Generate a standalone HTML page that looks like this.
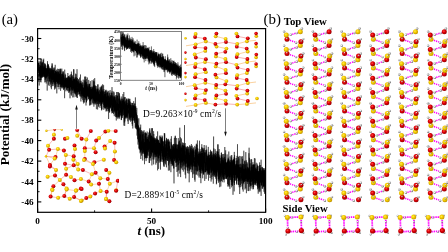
<!DOCTYPE html>
<html><head><meta charset="utf-8"><style>
html,body{margin:0;padding:0;background:#fff;}
body{width:448px;height:252px;overflow:hidden;position:relative;}
svg{position:absolute;left:0;top:0;}
text{font-family:"Liberation Serif","Times New Roman",serif;}
.b{font-weight:bold;}
</style></head><body>
<svg width="448" height="252" viewBox="0 0 448 252">
<defs>
<radialGradient id="r" cx="0.4" cy="0.38" r="0.68"><stop offset="0" stop-color="#ff4a40"/><stop offset="0.4" stop-color="#e00008"/><stop offset="1" stop-color="#8c0000"/></radialGradient>
<radialGradient id="y" cx="0.4" cy="0.38" r="0.68"><stop offset="0" stop-color="#ffea50"/><stop offset="0.4" stop-color="#f6cf00"/><stop offset="1" stop-color="#b88800"/></radialGradient>
<radialGradient id="h" cx="0.38" cy="0.35" r="0.7"><stop offset="0" stop-color="#ffffff"/><stop offset="0.45" stop-color="#c0c0c0"/><stop offset="1" stop-color="#505050"/></radialGradient>
<clipPath id="cll"><rect x="43.5" y="129.2" width="75.5" height="77"/></clipPath>
<clipPath id="ctr"><rect x="184.2" y="30" width="76" height="77"/></clipPath>
</defs>

<text x="1.7" y="24.0" font-size="14.7">(a)</text>
<text x="263.6" y="24.0" font-size="15.0">(b)</text>
<path d="M38.4,63.3 38.4,71.0 38.5,62.8 38.5,68.9 38.6,63.4 38.6,63.1 38.7,76.7 38.7,74.1 38.7,81.7 38.8,68.0 38.8,69.8 38.9,70.1 38.9,70.7 39.0,72.8 39.0,60.8 39.1,72.9 39.1,62.4 39.1,69.5 39.2,85.5 39.2,69.3 39.3,68.2 39.3,72.8 39.4,70.1 39.4,64.8 39.4,75.3 39.5,74.3 39.5,66.8 39.6,75.8 39.6,72.8 39.7,73.5 39.7,72.1 39.8,72.5 39.8,72.3 39.8,70.7 39.9,67.0 39.9,72.7 40.0,77.2 40.0,73.7 40.1,73.3 40.1,78.5 40.1,68.4 40.2,71.2 40.2,74.7 40.3,81.8 40.3,78.7 40.4,70.7 40.4,65.8 40.4,75.5 40.5,73.6 40.5,66.5 40.6,74.0 40.6,61.5 40.7,65.8 40.7,77.8 40.8,65.4 40.8,69.5 40.8,58.8 40.9,75.2 40.9,65.9 41.0,82.4 41.0,73.4 41.1,70.0 41.1,79.5 41.1,74.0 41.2,77.4 41.2,61.7 41.3,67.1 41.3,71.1 41.4,68.9 41.4,71.2 41.5,68.3 41.5,69.5 41.5,77.7 41.6,69.8 41.6,72.9 41.7,66.9 41.7,58.8 41.8,62.9 41.8,71.6 41.8,76.2 41.9,73.6 41.9,70.2 42.0,63.3 42.0,66.4 42.1,76.8 42.1,63.4 42.1,75.2 42.2,67.6 42.2,67.6 42.3,77.1 42.3,74.4 42.4,70.4 42.4,66.3 42.5,62.4 42.5,74.5 42.5,77.6 42.6,72.4 42.6,69.3 42.7,65.7 42.7,71.2 42.8,71.9 42.8,72.1 42.8,74.1 42.9,61.7 42.9,75.0 43.0,73.0 43.0,76.2 43.1,74.9 43.1,68.1 43.2,75.1 43.2,75.7 43.2,68.5 43.3,59.9 43.3,67.7 43.4,72.7 43.4,67.5 43.5,67.5 43.5,76.9 43.5,71.0 43.6,72.6 43.6,70.6 43.7,58.7 43.7,70.6 43.8,72.0 43.8,72.6 43.8,72.9 43.9,66.8 43.9,66.5 44.0,70.5 44.0,68.8 44.1,77.3 44.1,72.2 44.2,71.2 44.2,76.3 44.2,65.7 44.3,66.5 44.3,73.7 44.4,70.8 44.4,75.7 44.5,75.9 44.5,67.5 44.5,76.5 44.6,77.2 44.6,70.2 44.7,70.5 44.7,63.2 44.8,74.5 44.8,82.4 44.9,63.7 44.9,70.2 44.9,75.0 45.0,68.7 45.0,64.3 45.1,69.7 45.1,72.9 45.2,70.7 45.2,67.9 45.2,79.8 45.3,64.5 45.3,71.6 45.4,77.8 45.4,70.5 45.5,73.5 45.5,78.4 45.5,68.7 45.6,67.9 45.6,70.7 45.7,77.0 45.7,75.1 45.8,81.9 45.8,69.7 45.9,71.2 45.9,71.7 45.9,72.0 46.0,65.5 46.0,77.9 46.1,72.1 46.1,71.1 46.2,83.5 46.2,69.8 46.2,76.5 46.3,76.6 46.3,68.6 46.4,73.5 46.4,75.2 46.5,71.7 46.5,74.2 46.6,76.3 46.6,68.8 46.6,78.4 46.7,77.2 46.7,77.2 46.8,67.9 46.8,72.1 46.9,70.2 46.9,72.6 46.9,69.2 47.0,68.5 47.0,75.4 47.1,70.4 47.1,76.7 47.2,70.8 47.2,76.8 47.2,90.6 47.3,73.8 47.3,81.3 47.4,75.9 47.4,68.9 47.5,61.2 47.5,68.9 47.6,63.5 47.6,65.1 47.6,73.2 47.7,74.2 47.7,75.3 47.8,67.9 47.8,71.6 47.9,74.9 47.9,76.7 47.9,75.6 48.0,72.6 48.0,65.5 48.1,75.7 48.1,68.5 48.2,69.2 48.2,64.6 48.3,73.4 48.3,68.7 48.3,72.9 48.4,73.7 48.4,71.1 48.5,64.4 48.5,69.1 48.6,70.4 48.6,73.3 48.6,84.8 48.7,76.0 48.7,69.3 48.8,71.1 48.8,66.0 48.9,73.7 48.9,72.2 48.9,78.7 49.0,74.4 49.0,75.5 49.1,86.0 49.1,70.7 49.2,68.7 49.2,81.3 49.3,74.2 49.3,75.3 49.3,74.1 49.4,74.1 49.4,79.3 49.5,72.7 49.5,75.9 49.6,68.7 49.6,72.5 49.6,81.5 49.7,74.2 49.7,67.6 49.8,69.6 49.8,77.5 49.9,79.2 49.9,73.2 50.0,73.4 50.0,67.9 50.0,73.5 50.1,71.0 50.1,69.3 50.2,74.4 50.2,75.5 50.3,79.3 50.3,81.7 50.3,74.7 50.4,73.1 50.4,84.5 50.5,79.6 50.5,78.5 50.6,74.2 50.6,73.9 50.6,69.3 50.7,72.9 50.7,73.4 50.8,75.4 50.8,76.5 50.9,68.0 50.9,77.6 51.0,70.5 51.0,72.4 51.0,87.4 51.1,74.9 51.1,83.1 51.2,82.0 51.2,72.6 51.3,78.2 51.3,69.2 51.3,71.3 51.4,75.3 51.4,89.2 51.5,77.0 51.5,75.7 51.6,73.6 51.6,73.7 51.6,81.8 51.7,79.2 51.7,71.4 51.8,79.5 51.8,75.1 51.9,65.9 51.9,78.0 52.0,68.9 52.0,72.0 52.0,77.3 52.1,66.9 52.1,63.1 52.2,75.3 52.2,64.3 52.3,84.0 52.3,81.5 52.3,70.3 52.4,73.4 52.4,76.0 52.5,73.7 52.5,79.5 52.6,77.8 52.6,75.2 52.7,78.5 52.7,74.1 52.7,77.7 52.8,86.2 52.8,70.0 52.9,77.3 52.9,71.9 53.0,85.7 53.0,71.7 53.0,72.8 53.1,79.6 53.1,78.2 53.2,82.1 53.2,79.4 53.3,70.5 53.3,79.1 53.3,73.3 53.4,69.9 53.4,74.4 53.5,76.8 53.5,74.5 53.6,78.0 53.6,77.3 53.7,82.4 53.7,79.9 53.7,74.0 53.8,73.3 53.8,67.8 53.9,75.2 53.9,83.8 54.0,74.9 54.0,75.0 54.0,68.6 54.1,79.9 54.1,69.8 54.2,81.8 54.2,67.4 54.3,68.7 54.3,75.4 54.4,74.1 54.4,78.0 54.4,74.4 54.5,78.8 54.5,73.2 54.6,89.6 54.6,82.2 54.7,81.5 54.7,81.9 54.7,78.9 54.8,79.1 54.8,77.3 54.9,77.6 54.9,84.8 55.0,78.5 55.0,80.7 55.0,74.5 55.1,82.8 55.1,76.2 55.2,87.5 55.2,64.8 55.3,73.3 55.3,88.7 55.4,80.8 55.4,71.0 55.4,76.0 55.5,70.7 55.5,70.9 55.6,83.7 55.6,78.8 55.7,79.7 55.7,81.4 55.7,72.7 55.8,76.6 55.8,83.5 55.9,86.7 55.9,77.4 56.0,80.8 56.0,79.3 56.1,71.7 56.1,78.1 56.1,80.1 56.2,74.0 56.2,79.4 56.3,76.4 56.3,71.5 56.4,75.8 56.4,75.9 56.4,81.6 56.5,69.7 56.5,79.2 56.6,81.6 56.6,80.8 56.7,72.1 56.7,76.7 56.7,74.1 56.8,93.4 56.8,78.8 56.9,74.6 56.9,75.0 57.0,76.4 57.0,82.2 57.1,77.7 57.1,81.2 57.1,84.0 57.2,75.7 57.2,78.9 57.3,75.9 57.3,74.4 57.4,70.8 57.4,81.5 57.4,72.2 57.5,79.5 57.5,80.2 57.6,82.8 57.6,75.5 57.7,79.1 57.7,68.7 57.8,77.4 57.8,78.6 57.8,87.1 57.9,77.2 57.9,82.8 58.0,78.8 58.0,82.2 58.1,81.4 58.1,81.5 58.1,72.1 58.2,83.6 58.2,74.7 58.3,83.5 58.3,84.7 58.4,76.3 58.4,69.0 58.4,76.1 58.5,76.1 58.5,71.5 58.6,74.9 58.6,74.9 58.7,82.9 58.7,85.9 58.8,87.0 58.8,74.9 58.8,77.2 58.9,81.5 58.9,72.4 59.0,76.1 59.0,89.3 59.1,80.4 59.1,75.9 59.1,82.0 59.2,79.5 59.2,76.4 59.3,75.2 59.3,73.8 59.4,81.0 59.4,84.4 59.5,76.1 59.5,77.6 59.5,74.8 59.6,77.1 59.6,77.7 59.7,76.5 59.7,73.9 59.8,80.1 59.8,79.5 59.8,70.6 59.9,84.5 59.9,70.6 60.0,69.0 60.0,74.7 60.1,69.1 60.1,83.8 60.1,77.6 60.2,68.4 60.2,79.4 60.3,74.9 60.3,83.3 60.4,83.3 60.4,86.9 60.5,81.9 60.5,77.6 60.5,84.3 60.6,90.8 60.6,72.4 60.7,71.3 60.7,83.9 60.8,69.4 60.8,75.0 60.8,84.1 60.9,83.9 60.9,84.0 61.0,87.1 61.0,73.9 61.1,78.3 61.1,78.9 61.2,77.6 61.2,85.4 61.2,76.3 61.3,80.4 61.3,82.5 61.4,77.8 61.4,76.7 61.5,80.4 61.5,82.1 61.5,86.9 61.6,82.3 61.6,80.7 61.7,88.4 61.7,73.9 61.8,76.0 61.8,68.6 61.8,80.8 61.9,84.4 61.9,81.7 62.0,83.5 62.0,74.8 62.1,85.6 62.1,80.7 62.2,84.5 62.2,79.0 62.2,87.5 62.3,74.4 62.3,82.6 62.4,76.9 62.4,77.8 62.5,84.0 62.5,82.6 62.5,79.2 62.6,86.8 62.6,81.8 62.7,80.3 62.7,71.5 62.8,88.4 62.8,73.5 62.9,77.9 62.9,81.8 62.9,74.4 63.0,78.1 63.0,74.8 63.1,81.2 63.1,77.6 63.2,72.3 63.2,83.9 63.2,81.2 63.3,86.7 63.3,79.3 63.4,80.8 63.4,71.3 63.5,76.1 63.5,86.9 63.5,81.5 63.6,80.1 63.6,90.1 63.7,75.0 63.7,78.2 63.8,83.7 63.8,84.5 63.9,76.4 63.9,76.6 63.9,89.2 64.0,86.1 64.0,85.3 64.1,87.8 64.1,86.1 64.2,83.1 64.2,82.6 64.2,80.9 64.3,84.1 64.3,80.9 64.4,85.0 64.4,82.2 64.5,77.8 64.5,84.0 64.6,98.2 64.6,85.0 64.6,81.8 64.7,85.3 64.7,69.6 64.8,84.3 64.8,88.5 64.9,80.6 64.9,80.4 64.9,80.0 65.0,86.1 65.0,76.3 65.1,73.7 65.1,87.8 65.2,82.6 65.2,86.3 65.2,83.4 65.3,84.7 65.3,79.6 65.4,87.0 65.4,84.0 65.5,79.0 65.5,80.0 65.6,74.8 65.6,85.5 65.6,80.9 65.7,77.8 65.7,86.4 65.8,80.0 65.8,82.8 65.9,81.3 65.9,91.3 65.9,87.3 66.0,80.2 66.0,81.8 66.1,84.9 66.1,82.8 66.2,80.0 66.2,87.1 66.3,81.0 66.3,78.2 66.3,84.3 66.4,85.0 66.4,77.9 66.5,85.1 66.5,81.0 66.6,86.9 66.6,89.6 66.6,83.4 66.7,86.6 66.7,81.6 66.8,84.0 66.8,90.2 66.9,85.0 66.9,79.6 66.9,77.7 67.0,84.7 67.0,79.6 67.1,87.9 67.1,77.6 67.2,85.9 67.2,82.7 67.3,84.9 67.3,86.6 67.3,88.2 67.4,82.3 67.4,81.6 67.5,87.6 67.5,84.7 67.6,77.6 67.6,79.7 67.6,87.5 67.7,83.5 67.7,82.2 67.8,90.6 67.8,73.0 67.9,74.2 67.9,91.3 68.0,79.7 68.0,78.3 68.0,85.8 68.1,86.7 68.1,79.4 68.2,87.1 68.2,87.7 68.3,86.0 68.3,82.6 68.3,76.5 68.4,80.0 68.4,85.5 68.5,76.1 68.5,80.9 68.6,87.8 68.6,82.3 68.6,80.0 68.7,90.9 68.7,92.8 68.8,81.0 68.8,76.5 68.9,83.7 68.9,83.3 69.0,76.8 69.0,81.9 69.0,86.3 69.1,85.2 69.1,84.2 69.2,87.8 69.2,87.2 69.3,89.0 69.3,92.5 69.3,83.4 69.4,89.8 69.4,82.7 69.5,79.7 69.5,79.1 69.6,91.3 69.6,78.6 69.7,81.4 69.7,88.3 69.7,75.4 69.8,81.9 69.8,91.0 69.9,77.3 69.9,81.7 70.0,78.7 70.0,98.3 70.0,77.4 70.1,85.0 70.1,84.9 70.2,86.6 70.2,83.8 70.3,78.1 70.3,82.4 70.3,87.1 70.4,74.4 70.4,77.4 70.5,78.0 70.5,81.8 70.6,77.8 70.6,85.3 70.7,86.4 70.7,81.5 70.7,80.6 70.8,83.0 70.8,85.1 70.9,90.3 70.9,86.1 71.0,84.9 71.0,87.3 71.0,85.9 71.1,87.5 71.1,94.5 71.2,86.2 71.2,79.4 71.3,80.3 71.3,78.2 71.4,95.7 71.4,71.6 71.4,84.0 71.5,81.2 71.5,86.1 71.6,86.0 71.6,73.9 71.7,85.4 71.7,84.4 71.7,86.9 71.8,76.3 71.8,88.9 71.9,76.7 71.9,89.8 72.0,83.1 72.0,85.7 72.0,84.1 72.1,80.9 72.1,88.1 72.2,79.8 72.2,90.6 72.3,88.8 72.3,82.3 72.4,84.7 72.4,81.3 72.4,83.5 72.5,82.0 72.5,75.3 72.6,81.2 72.6,87.7 72.7,88.1 72.7,95.6 72.7,97.4 72.8,95.1 72.8,86.2 72.9,90.5 72.9,84.0 73.0,93.1 73.0,87.3 73.1,89.8 73.1,81.8 73.1,81.4 73.2,77.0 73.2,77.9 73.3,78.4 73.3,85.1 73.4,83.2 73.4,79.9 73.4,82.5 73.5,88.0 73.5,84.1 73.6,85.3 73.6,79.5 73.7,81.5 73.7,69.1 73.7,88.8 73.8,84.2 73.8,69.5 73.9,97.0 73.9,97.3 74.0,89.8 74.0,79.1 74.1,87.6 74.1,79.6 74.1,91.5 74.2,79.6 74.2,79.4 74.3,87.7 74.3,84.4 74.4,93.4 74.4,87.3 74.4,79.8 74.5,91.5 74.5,78.7 74.6,86.8 74.6,83.0 74.7,90.8 74.7,87.1 74.8,88.5 74.8,88.3 74.8,77.5 74.9,78.3 74.9,88.1 75.0,93.4 75.0,88.7 75.1,90.2 75.1,90.1 75.1,79.6 75.2,81.2 75.2,84.2 75.3,80.6 75.3,93.2 75.4,83.6 75.4,94.6 75.4,86.1 75.5,84.3 75.5,91.5 75.6,77.5 75.6,91.0 75.7,73.6 75.7,85.9 75.8,87.2 75.8,93.6 75.8,84.1 75.9,96.8 75.9,91.4 76.0,84.4 76.0,84.8 76.1,87.3 76.1,74.2 76.1,91.5 76.2,84.8 76.2,83.2 76.3,90.0 76.3,84.2 76.4,91.3 76.4,77.3 76.4,96.1 76.5,93.5 76.5,80.8 76.6,93.0 76.6,97.5 76.7,79.0 76.7,81.9 76.8,87.9 76.8,83.5 76.8,80.5 76.9,92.4 76.9,86.8 77.0,81.4 77.0,69.2 77.1,80.7 77.1,91.7 77.1,88.4 77.2,92.2 77.2,87.1 77.3,84.9 77.3,80.9 77.4,81.0 77.4,86.1 77.5,78.0 77.5,98.0 77.5,88.4 77.6,92.3 77.6,88.1 77.7,94.7 77.7,93.5 77.8,92.4 77.8,92.4 77.8,83.0 77.9,87.1 77.9,85.9 78.0,88.5 78.0,81.9 78.1,85.4 78.1,89.4 78.1,85.1 78.2,81.4 78.2,91.8 78.3,87.0 78.3,88.1 78.4,86.9 78.4,79.2 78.5,90.3 78.5,88.2 78.5,81.2 78.6,79.6 78.6,91.5 78.7,89.8 78.7,84.9 78.8,93.4 78.8,94.5 78.8,85.6 78.9,84.3 78.9,90.8 79.0,84.1 79.0,92.2 79.1,82.6 79.1,90.6 79.2,94.2 79.2,90.6 79.2,88.5 79.3,90.6 79.3,84.2 79.4,88.6 79.4,93.7 79.5,77.6 79.5,80.6 79.5,85.1 79.6,91.6 79.6,85.7 79.7,94.2 79.7,90.6 79.8,89.1 79.8,90.0 79.8,82.9 79.9,86.6 79.9,96.4 80.0,90.8 80.0,84.2 80.1,90.3 80.1,80.9 80.2,95.8 80.2,90.8 80.2,87.8 80.3,87.7 80.3,88.1 80.4,88.4 80.4,82.0 80.5,74.5 80.5,89.8 80.5,82.9 80.6,83.2 80.6,90.6 80.7,88.6 80.7,86.7 80.8,85.4 80.8,82.9 80.9,83.9 80.9,101.5 80.9,90.3 81.0,94.4 81.0,96.9 81.1,96.7 81.1,84.1 81.2,91.2 81.2,80.7 81.2,89.4 81.3,96.2 81.3,94.6 81.4,90.6 81.4,93.9 81.5,83.6 81.5,85.6 81.5,92.0 81.6,84.9 81.6,94.1 81.7,88.6 81.7,88.6 81.8,98.1 81.8,98.7 81.9,93.3 81.9,82.4 81.9,92.5 82.0,94.5 82.0,86.1 82.1,89.5 82.1,86.9 82.2,97.7 82.2,91.3 82.2,87.9 82.3,92.2 82.3,90.4 82.4,87.2 82.4,91.7 82.5,96.0 82.5,90.3 82.6,82.4 82.6,87.7 82.6,84.8 82.7,86.9 82.7,100.2 82.8,89.7 82.8,90.9 82.9,88.7 82.9,93.8 82.9,89.2 83.0,94.3 83.0,92.1 83.1,87.6 83.1,84.6 83.2,85.6 83.2,83.3 83.2,79.6 83.3,102.1 83.3,94.3 83.4,90.7 83.4,96.0 83.5,96.2 83.5,87.8 83.6,91.6 83.6,103.5 83.6,89.0 83.7,88.4 83.7,87.6 83.8,89.1 83.8,91.6 83.9,88.8 83.9,97.3 83.9,91.6 84.0,96.2 84.0,82.7 84.1,86.9 84.1,89.8 84.2,86.7 84.2,90.4 84.3,88.2 84.3,90.6 84.3,97.4 84.4,89.3 84.4,86.1 84.5,97.9 84.5,102.5 84.6,86.7 84.6,96.9 84.6,91.4 84.7,84.9 84.7,85.7 84.8,76.8 84.8,89.0 84.9,100.1 84.9,80.6 84.9,94.8 85.0,83.4 85.0,80.2 85.1,94.9 85.1,76.4 85.2,94.4 85.2,90.3 85.3,98.2 85.3,88.1 85.3,85.5 85.4,92.4 85.4,93.8 85.5,92.0 85.5,86.1 85.6,90.6 85.6,97.8 85.6,92.7 85.7,94.8 85.7,89.9 85.8,82.9 85.8,99.4 85.9,95.6 85.9,76.8 86.0,99.8 86.0,105.5 86.0,82.3 86.1,93.7 86.1,81.9 86.2,88.0 86.2,94.5 86.3,79.1 86.3,89.9 86.3,92.8 86.4,94.5 86.4,102.4 86.5,84.5 86.5,102.2 86.6,94.9 86.6,90.3 86.6,98.1 86.7,85.5 86.7,89.6 86.8,93.6 86.8,94.8 86.9,93.2 86.9,90.4 87.0,95.0 87.0,84.7 87.0,89.9 87.1,93.9 87.1,91.0 87.2,88.4 87.2,100.5 87.3,94.5 87.3,96.0 87.3,95.8 87.4,77.5 87.4,95.4 87.5,86.8 87.5,93.2 87.6,91.8 87.6,95.1 87.7,93.1 87.7,92.3 87.7,93.1 87.8,84.0 87.8,92.1 87.9,96.8 87.9,92.6 88.0,88.2 88.0,88.5 88.0,90.0 88.1,97.0 88.1,86.2 88.2,95.7 88.2,95.7 88.3,90.2 88.3,94.8 88.3,90.1 88.4,91.5 88.4,95.7 88.5,89.6 88.5,90.8 88.6,99.4 88.6,97.3 88.7,79.9 88.7,92.7 88.7,99.0 88.8,92.6 88.8,88.3 88.9,88.0 88.9,84.7 89.0,93.5 89.0,90.4 89.0,93.5 89.1,97.4 89.1,83.9 89.2,86.8 89.2,92.6 89.3,86.4 89.3,93.2 89.4,87.7 89.4,92.7 89.4,97.9 89.5,84.1 89.5,88.9 89.6,83.7 89.6,94.0 89.7,89.6 89.7,93.4 89.7,105.5 89.8,87.5 89.8,101.3 89.9,100.4 89.9,89.7 90.0,105.3 90.0,103.2 90.0,96.5 90.1,101.1 90.1,91.1 90.2,91.2 90.2,99.7 90.3,86.1 90.3,81.1 90.4,87.6 90.4,89.4 90.4,96.8 90.5,94.5 90.5,89.5 90.6,91.0 90.6,87.0 90.7,96.5 90.7,100.9 90.7,87.2 90.8,104.7 90.8,100.9 90.9,91.2 90.9,91.2 91.0,97.5 91.0,104.5 91.1,96.0 91.1,93.5 91.1,89.4 91.2,93.9 91.2,98.7 91.3,89.5 91.3,99.1 91.4,88.8 91.4,96.7 91.4,96.5 91.5,93.0 91.5,94.4 91.6,86.7 91.6,97.3 91.7,91.4 91.7,90.3 91.7,93.3 91.8,98.1 91.8,99.7 91.9,93.2 91.9,89.1 92.0,92.3 92.0,88.0 92.1,80.2 92.1,96.3 92.1,98.1 92.2,96.0 92.2,98.2 92.3,98.4 92.3,87.5 92.4,98.9 92.4,102.7 92.4,96.8 92.5,93.2 92.5,94.4 92.6,91.7 92.6,94.8 92.7,86.8 92.7,95.0 92.8,97.9 92.8,97.7 92.8,88.6 92.9,94.1 92.9,94.0 93.0,104.4 93.0,90.5 93.1,99.0 93.1,90.4 93.1,90.5 93.2,88.4 93.2,96.4 93.3,86.0 93.3,103.1 93.4,87.8 93.4,99.6 93.4,92.4 93.5,81.1 93.5,87.2 93.6,98.0 93.6,79.4 93.7,90.9 93.7,100.6 93.8,95.4 93.8,91.8 93.8,92.3 93.9,99.0 93.9,106.7 94.0,99.6 94.0,85.2 94.1,92.7 94.1,85.7 94.1,94.9 94.2,103.9 94.2,98.1 94.3,94.8 94.3,93.1 94.4,81.4 94.4,88.6 94.5,94.0 94.5,101.7 94.5,90.0 94.6,92.4 94.6,96.8 94.7,78.1 94.7,92.0 94.8,89.5 94.8,103.0 94.8,92.2 94.9,87.2 94.9,94.6 95.0,100.7 95.0,89.6 95.1,101.3 95.1,104.7 95.1,86.0 95.2,97.3 95.2,97.1 95.3,94.9 95.3,102.1 95.4,100.3 95.4,85.4 95.5,94.0 95.5,90.7 95.5,90.8 95.6,96.5 95.6,88.6 95.7,92.4 95.7,97.1 95.8,103.5 95.8,92.5 95.8,100.9 95.9,103.2 95.9,91.5 96.0,94.8 96.0,92.1 96.1,96.7 96.1,101.3 96.2,104.3 96.2,98.5 96.2,88.7 96.3,94.0 96.3,86.1 96.4,109.2 96.4,98.5 96.5,97.1 96.5,98.1 96.5,100.2 96.6,93.3 96.6,101.9 96.7,92.9 96.7,100.4 96.8,96.2 96.8,97.3 96.8,95.9 96.9,99.1 96.9,91.4 97.0,96.0 97.0,90.3 97.1,90.5 97.1,91.5 97.2,99.3 97.2,89.5 97.2,95.2 97.3,96.7 97.3,97.7 97.4,98.8 97.4,88.9 97.5,103.9 97.5,88.6 97.5,96.4 97.6,90.3 97.6,109.5 97.7,84.6 97.7,100.5 97.8,98.6 97.8,91.8 97.9,96.3 97.9,99.0 97.9,91.9 98.0,101.3 98.0,84.3 98.1,91.7 98.1,90.5 98.2,92.7 98.2,103.8 98.2,91.9 98.3,91.9 98.3,95.5 98.4,101.0 98.4,97.4 98.5,105.7 98.5,101.3 98.5,94.6 98.6,96.1 98.6,100.7 98.7,88.7 98.7,107.1 98.8,99.3 98.8,100.5 98.9,97.8 98.9,95.3 98.9,101.2 99.0,92.0 99.0,91.3 99.1,92.1 99.1,95.1 99.2,96.5 99.2,93.8 99.2,97.7 99.3,102.0 99.3,100.8 99.4,98.9 99.4,102.4 99.5,90.1 99.5,93.6 99.6,93.5 99.6,103.8 99.6,100.0 99.7,98.9 99.7,98.0 99.8,96.0 99.8,100.5 99.9,100.5 99.9,103.8 99.9,93.8 100.0,96.0 100.0,107.9 100.1,103.2 100.1,86.9 100.2,100.0 100.2,98.5 100.2,88.6 100.3,99.9 100.3,100.6 100.4,101.9 100.4,94.0 100.5,102.4 100.5,91.5 100.6,101.6 100.6,101.1 100.6,100.5 100.7,105.9 100.7,92.6 100.8,96.8 100.8,92.4 100.9,97.8 100.9,95.3 100.9,87.5 101.0,93.2 101.0,101.1 101.1,97.1 101.1,92.0 101.2,104.8 101.2,97.2 101.3,103.0 101.3,94.2 101.3,85.9 101.4,104.3 101.4,90.5 101.5,97.7 101.5,86.9 101.6,110.4 101.6,95.3 101.6,109.5 101.7,98.4 101.7,102.2 101.8,103.2 101.8,99.0 101.9,96.6 101.9,95.1 101.9,105.7 102.0,109.3 102.0,85.4 102.1,97.4 102.1,95.2 102.2,91.2 102.2,103.9 102.3,98.8 102.3,97.4 102.3,97.2 102.4,89.6 102.4,99.9 102.5,94.4 102.5,101.3 102.6,98.6 102.6,92.5 102.6,102.0 102.7,84.2 102.7,99.8 102.8,100.3 102.8,98.1 102.9,91.6 102.9,101.5 102.9,100.0 103.0,103.1 103.0,91.3 103.1,97.2 103.1,101.2 103.2,99.4 103.2,100.6 103.3,96.3 103.3,98.7 103.3,97.6 103.4,101.7 103.4,104.8 103.5,94.4 103.5,92.4 103.6,85.2 103.6,88.2 103.6,98.8 103.7,107.3 103.7,102.3 103.8,100.6 103.8,109.8 103.9,98.9 103.9,89.1 104.0,99.2 104.0,93.7 104.0,100.2 104.1,101.4 104.1,99.6 104.2,98.2 104.2,96.7 104.3,91.8 104.3,93.8 104.3,91.5 104.4,101.7 104.4,95.4 104.5,107.3 104.5,93.7 104.6,101.3 104.6,106.0 104.6,104.7 104.7,97.8 104.7,101.2 104.8,101.0 104.8,108.3 104.9,94.0 104.9,94.8 105.0,96.0 105.0,102.2 105.0,108.1 105.1,107.7 105.1,97.5 105.2,108.6 105.2,94.2 105.3,104.8 105.3,105.8 105.3,100.3 105.4,107.6 105.4,99.9 105.5,90.4 105.5,97.2 105.6,91.4 105.6,103.3 105.7,102.4 105.7,96.9 105.7,96.0 105.8,108.3 105.8,99.2 105.9,93.9 105.9,95.8 106.0,111.5 106.0,89.7 106.0,96.3 106.1,104.8 106.1,97.3 106.2,104.9 106.2,95.6 106.3,90.6 106.3,100.6 106.3,105.8 106.4,105.1 106.4,98.3 106.5,106.0 106.5,107.2 106.6,100.5 106.6,110.7 106.7,96.8 106.7,106.1 106.7,96.6 106.8,103.0 106.8,94.1 106.9,92.8 106.9,102.6 107.0,102.6 107.0,107.4 107.0,101.6 107.1,107.0 107.1,102.4 107.2,92.6 107.2,111.3 107.3,108.6 107.3,108.7 107.4,103.2 107.4,102.6 107.4,108.9 107.5,100.8 107.5,101.6 107.6,92.8 107.6,99.6 107.7,98.3 107.7,92.1 107.7,100.4 107.8,104.0 107.8,90.7 107.9,104.7 107.9,102.4 108.0,95.3 108.0,103.9 108.0,102.4 108.1,96.3 108.1,108.9 108.2,101.6 108.2,105.7 108.3,103.5 108.3,98.5 108.4,96.3 108.4,97.2 108.4,102.7 108.5,104.2 108.5,104.6 108.6,119.0 108.6,102.0 108.7,107.7 108.7,111.0 108.7,102.2 108.8,90.9 108.8,104.4 108.9,104.3 108.9,107.5 109.0,98.3 109.0,102.4 109.1,110.4 109.1,95.9 109.1,104.5 109.2,93.4 109.2,104.5 109.3,99.0 109.3,100.7 109.4,101.1 109.4,103.2 109.4,112.6 109.5,98.1 109.5,98.7 109.6,105.9 109.6,105.2 109.7,97.3 109.7,112.2 109.7,103.2 109.8,102.9 109.8,99.9 109.9,103.4 109.9,92.7 110.0,98.3 110.0,107.6 110.1,107.3 110.1,90.1 110.1,105.8 110.2,101.1 110.2,103.5 110.3,99.7 110.3,107.2 110.4,95.0 110.4,107.2 110.4,97.3 110.5,101.0 110.5,108.5 110.6,103.6 110.6,100.6 110.7,100.4 110.7,106.3 110.8,96.4 110.8,106.6 110.8,102.5 110.9,103.8 110.9,97.0 111.0,103.1 111.0,101.4 111.1,107.6 111.1,101.7 111.1,103.0 111.2,96.1 111.2,105.4 111.3,104.6 111.3,95.6 111.4,103.0 111.4,96.0 111.4,110.5 111.5,97.2 111.5,95.4 111.6,101.5 111.6,104.3 111.7,101.6 111.7,92.6 111.8,95.7 111.8,93.0 111.8,113.4 111.9,109.3 111.9,111.1 112.0,87.1 112.0,102.0 112.1,91.2 112.1,111.5 112.1,107.9 112.2,110.0 112.2,100.5 112.3,101.9 112.3,105.8 112.4,108.0 112.4,108.0 112.5,107.6 112.5,106.9 112.5,96.2 112.6,106.7 112.6,112.9 112.7,97.5 112.7,95.3 112.8,105.8 112.8,108.4 112.8,106.1 112.9,113.0 112.9,104.1 113.0,108.1 113.0,103.5 113.1,106.5 113.1,102.4 113.1,97.2 113.2,99.1 113.2,103.6 113.3,100.0 113.3,111.5 113.4,104.9 113.4,108.1 113.5,114.1 113.5,98.8 113.5,101.9 113.6,103.1 113.6,105.0 113.7,102.5 113.7,91.5 113.8,105.1 113.8,100.1 113.8,96.3 113.9,102.7 113.9,102.5 114.0,106.4 114.0,97.9 114.1,101.1 114.1,92.4 114.2,107.0 114.2,96.4 114.2,109.0 114.3,116.2 114.3,105.9 114.4,100.2 114.4,100.7 114.5,103.4 114.5,102.7 114.5,100.4 114.6,97.4 114.6,111.4 114.7,96.7 114.7,98.9 114.8,104.2 114.8,105.0 114.8,112.6 114.9,103.9 114.9,111.3 115.0,104.3 115.0,110.0 115.1,105.1 115.1,100.9 115.2,107.7 115.2,102.7 115.2,110.4 115.3,95.3 115.3,109.8 115.4,107.3 115.4,106.1 115.5,116.9 115.5,100.2 115.5,104.2 115.6,102.1 115.6,108.9 115.7,102.5 115.7,97.3 115.8,108.0 115.8,106.1 115.9,115.4 115.9,104.4 115.9,99.3 116.0,99.4 116.0,100.4 116.1,104.9 116.1,113.3 116.2,109.0 116.2,102.6 116.2,113.0 116.3,120.5 116.3,95.0 116.4,105.1 116.4,116.5 116.5,107.8 116.5,106.6 116.5,114.0 116.6,117.0 116.6,110.1 116.7,104.1 116.7,105.9 116.8,92.0 116.8,103.3 116.9,103.8 116.9,96.4 116.9,100.1 117.0,102.6 117.0,102.7 117.1,117.9 117.1,107.1 117.2,105.8 117.2,88.7 117.2,106.7 117.3,107.4 117.3,110.6 117.4,104.4 117.4,106.7 117.5,107.0 117.5,95.8 117.6,116.8 117.6,103.1 117.6,105.3 117.7,107.3 117.7,104.6 117.8,101.6 117.8,95.5 117.9,114.8 117.9,119.1 117.9,104.1 118.0,105.6 118.0,110.7 118.1,108.2 118.1,104.6 118.2,108.1 118.2,98.5 118.2,109.6 118.3,104.2 118.3,105.8 118.4,105.4 118.4,117.4 118.5,106.4 118.5,105.8 118.6,103.1 118.6,92.0 118.6,108.5 118.7,112.9 118.7,114.3 118.8,111.4 118.8,116.7 118.9,116.2 118.9,93.1 118.9,117.6 119.0,108.3 119.0,116.0 119.1,112.0 119.1,113.1 119.2,112.3 119.2,99.4 119.3,101.8 119.3,110.0 119.3,110.6 119.4,118.7 119.4,108.9 119.5,93.4 119.5,107.7 119.6,108.2 119.6,102.8 119.6,107.4 119.7,100.0 119.7,95.8 119.8,112.0 119.8,117.1 119.9,97.7 119.9,115.3 119.9,110.5 120.0,111.8 120.0,113.2 120.1,112.5 120.1,110.1 120.2,111.1 120.2,101.8 120.3,109.0 120.3,99.5 120.3,105.0 120.4,107.7 120.4,104.3 120.5,108.7 120.5,112.4 120.6,101.5 120.6,111.6 120.6,100.5 120.7,111.2 120.7,108.5 120.8,115.0 120.8,104.5 120.9,101.6 120.9,105.2 121.0,107.7 121.0,108.5 121.0,106.3 121.1,107.7 121.1,115.9 121.2,106.0 121.2,115.7 121.3,106.9 121.3,119.8 121.3,99.1 121.4,120.1 121.4,104.5 121.5,103.5 121.5,104.2 121.6,104.8 121.6,114.1 121.6,115.7 121.7,118.2 121.7,103.1 121.8,96.5 121.8,99.2 121.9,105.2 121.9,113.2 122.0,100.3 122.0,98.4 122.0,113.7 122.1,109.0 122.1,100.9 122.2,105.9 122.2,104.6 122.3,101.0 122.3,112.7 122.3,112.7 122.4,106.0 122.4,115.8 122.5,112.8 122.5,117.8 122.6,107.4 122.6,112.2 122.7,104.5 122.7,107.7 122.7,103.3 122.8,103.4 122.8,99.2 122.9,110.4 122.9,94.1 123.0,99.9 123.0,109.0 123.0,103.4 123.1,107.5 123.1,98.8 123.2,115.6 123.2,107.7 123.3,104.1 123.3,106.9 123.3,100.3 123.4,108.1 123.4,100.3 123.5,104.7 123.5,101.8 123.6,106.8 123.6,102.5 123.7,112.3 123.7,115.0 123.7,111.6 123.8,106.3 123.8,88.2 123.9,106.6 123.9,125.6 124.0,109.5 124.0,104.4 124.0,103.7 124.1,97.4 124.1,113.4 124.2,101.3 124.2,110.3 124.3,102.2 124.3,122.6 124.4,97.2 124.4,105.4 124.4,104.0 124.5,109.5 124.5,103.2 124.6,111.6 124.6,104.1 124.7,104.4 124.7,110.5 124.7,125.9 124.8,108.9 124.8,118.9 124.9,108.8 124.9,121.4 125.0,103.5 125.0,111.6 125.0,101.8 125.1,107.0 125.1,112.3 125.2,111.4 125.2,104.9 125.3,97.1 125.3,111.5 125.4,109.6 125.4,118.2 125.4,107.8 125.5,117.3 125.5,104.6 125.6,106.6 125.6,110.0 125.7,111.8 125.7,116.4 125.7,107.4 125.8,108.3 125.8,100.3 125.9,109.4 125.9,100.9 126.0,104.5 126.0,116.5 126.1,109.6 126.1,117.4 126.1,114.3 126.2,116.5 126.2,113.8 126.3,110.6 126.3,103.3 126.4,118.5 126.4,109.7 126.4,106.5 126.5,98.8 126.5,110.6 126.6,107.2 126.6,113.2 126.7,117.3 126.7,99.8 126.7,114.7 126.8,111.0 126.8,103.0 126.9,102.6 126.9,98.5 127.0,104.5 127.0,109.3 127.1,117.3 127.1,110.6 127.1,109.8 127.2,105.6 127.2,105.0 127.3,106.6 127.3,112.0 127.4,102.8 127.4,110.3 127.4,115.6 127.5,110.2 127.5,106.9 127.6,111.1 127.6,113.7 127.7,118.1 127.7,109.6 127.7,109.0 127.8,111.7 127.8,121.3 127.9,99.6 127.9,110.1 128.0,111.6 128.0,112.8 128.1,105.1 128.1,106.8 128.1,106.9 128.2,105.7 128.2,124.0 128.3,98.5 128.3,108.0 128.4,103.6 128.4,108.4 128.4,106.9 128.5,105.8 128.5,106.9 128.6,106.7 128.6,98.8 128.7,104.8 128.7,113.1 128.8,112.3 128.8,99.9 128.8,104.7 128.9,113.2 128.9,114.2 129.0,105.5 129.0,110.6 129.1,111.9 129.1,114.4 129.1,110.2 129.2,119.3 129.2,116.0 129.3,113.5 129.3,116.6 129.4,100.8 129.4,116.4 129.4,114.8 129.5,109.1 129.5,120.3 129.6,119.1 129.6,114.4 129.7,98.7 129.7,118.5 129.8,114.2 129.8,108.7 129.8,99.0 129.9,102.5 129.9,118.1 130.0,109.2 130.0,103.2 130.1,102.9 130.1,104.8 130.1,113.0 130.2,114.5 130.2,115.6 130.3,101.7 130.3,110.2 130.4,104.7 130.4,106.1 130.5,104.9 130.5,121.7 130.5,110.3 130.6,108.3 130.6,107.4 130.7,115.9 130.7,115.3 130.8,117.3 130.8,106.0 130.8,119.8 130.9,119.1 130.9,105.4 131.0,117.9 131.0,109.4 131.1,108.5 131.1,116.2 131.1,109.7 131.2,117.0 131.2,104.8 131.3,113.0 131.3,120.8 131.4,107.5 131.4,113.8 131.5,109.6 131.5,116.1 131.5,114.7 131.6,111.4 131.6,102.8 131.7,112.7 131.7,116.1 131.8,113.6 131.8,111.8 131.8,115.5 131.9,112.7 131.9,108.8 132.0,115.5 132.0,114.2 132.1,114.2 132.1,105.4 132.2,124.0 132.2,114.6 132.2,117.9 132.3,116.8 132.3,125.8 132.4,119.3 132.4,103.0 132.5,110.0 132.5,117.0 132.5,120.7 132.6,117.9 132.6,114.2 132.7,107.8 132.7,113.6 132.8,102.9 132.8,128.5 132.8,116.6 132.9,120.2 132.9,110.2 133.0,105.1 133.0,116.4 133.1,108.0 133.1,120.7 133.2,106.2 133.2,116.4 133.2,112.3 133.3,109.5 133.3,105.3 133.4,106.7 133.4,108.4 133.5,117.3 133.5,108.4 133.5,114.2 133.6,118.1 133.6,107.6 133.7,105.6 133.7,101.2 133.8,106.9 133.8,112.9 133.9,115.5 133.9,106.2 133.9,117.9 134.0,105.5 134.0,116.6 134.1,120.3 134.1,113.1 134.2,117.6 134.2,107.9 134.2,106.2 134.3,107.5 134.3,116.8 134.4,103.5 134.4,115.9 134.5,122.9 134.5,118.0 134.5,121.4 134.6,120.7 134.6,107.3 134.7,107.6 134.7,113.5 134.8,110.8 134.8,119.2 134.9,106.8 134.9,120.2 134.9,103.6 135.0,113.9 135.0,113.1 135.1,115.6 135.1,113.6 135.2,114.5 135.2,109.2 135.2,127.7 135.3,111.7 135.3,113.8 135.4,105.4 135.4,97.4 135.5,114.4 135.5,107.6 135.6,106.6 135.6,113.3 135.6,128.6 135.7,123.8 135.7,117.1 135.8,106.3 135.8,112.3 135.9,112.8 135.9,110.5 135.9,109.9 136.0,124.6 136.0,127.4 136.1,121.0 136.1,118.0 136.2,115.5 136.2,114.5 136.2,126.7 136.3,119.0 136.3,112.4 136.4,114.1 136.4,113.9 136.5,118.7 136.5,113.8 136.6,120.7 136.6,118.9 136.6,129.1 136.7,123.3 136.7,129.4 136.8,107.9 136.8,119.2 136.9,119.0 136.9,126.3 136.9,124.0 137.0,125.6 137.0,135.6 137.1,117.2 137.1,123.0 137.2,126.7 137.2,124.4 137.3,126.0 137.3,126.7 137.3,117.5 137.4,115.3 137.4,128.3 137.5,120.7 137.5,136.8 137.6,138.9 137.6,134.7 137.6,124.9 137.7,127.8 137.7,131.0 137.8,118.6 137.8,131.5 137.9,132.3 137.9,132.5 137.9,129.9 138.0,144.6 138.0,141.6 138.1,124.9 138.1,128.0 138.2,129.8 138.2,125.7 138.3,140.0 138.3,136.9 138.3,129.9 138.4,126.4 138.4,133.9 138.5,129.4 138.5,133.6 138.6,134.4 138.6,133.1 138.6,138.7 138.7,141.6 138.7,141.0 138.8,133.9 138.8,118.3 138.9,142.5 138.9,127.1 139.0,134.7 139.0,133.6 139.0,134.9 139.1,148.0 139.1,128.8 139.2,135.4 139.2,149.0 139.3,134.4 139.3,138.1 139.3,149.5 139.4,143.9 139.4,144.7 139.5,139.7 139.5,148.4 139.6,141.4 139.6,143.3 139.6,136.1 139.7,142.4 139.7,128.2 139.8,142.1 139.8,143.4 139.9,135.4 139.9,146.2 140.0,149.7 140.0,142.7 140.0,151.8 140.1,153.3 140.1,136.5 140.2,137.0 140.2,127.4 140.3,134.4 140.3,140.5 140.3,146.7 140.4,151.8 140.4,143.2 140.5,143.2 140.5,134.4 140.6,150.5 140.6,136.0 140.7,124.6 140.7,135.7 140.7,136.8 140.8,159.0 140.8,142.6 140.9,136.8 140.9,131.7 141.0,145.0 141.0,149.1 141.0,145.0 141.1,152.4 141.1,130.0 141.2,135.4 141.2,149.9 141.3,142.4 141.3,142.0 141.3,150.1 141.4,147.1 141.4,143.3 141.5,155.6 141.5,140.5 141.6,146.6 141.6,149.1 141.7,145.8 141.7,146.5 141.7,150.4 141.8,150.3 141.8,130.4 141.9,141.0 141.9,145.9 142.0,131.7 142.0,146.5 142.0,143.0 142.1,148.1 142.1,142.8 142.2,146.4 142.2,134.6 142.3,147.2 142.3,153.7 142.4,149.7 142.4,147.7 142.4,145.5 142.5,146.7 142.5,132.8 142.6,131.4 142.6,134.4 142.7,155.2 142.7,160.5 142.7,134.5 142.8,152.6 142.8,149.2 142.9,143.7 142.9,145.0 143.0,143.2 143.0,153.4 143.0,143.5 143.1,140.6 143.1,141.0 143.2,143.7 143.2,133.7 143.3,141.3 143.3,141.3 143.4,148.6 143.4,145.6 143.4,149.2 143.5,131.5 143.5,149.7 143.6,144.2 143.6,152.3 143.7,138.9 143.7,146.1 143.7,147.7 143.8,153.9 143.8,144.1 143.9,149.3 143.9,147.6 144.0,141.9 144.0,130.2 144.1,143.8 144.1,146.4 144.1,144.8 144.2,151.7 144.2,144.9 144.3,146.3 144.3,151.1 144.4,150.9 144.4,150.0 144.4,156.7 144.5,144.3 144.5,164.2 144.6,142.0 144.6,153.8 144.7,147.6 144.7,158.8 144.7,144.6 144.8,143.2 144.8,143.4 144.9,148.4 144.9,132.9 145.0,150.8 145.0,142.4 145.1,135.6 145.1,145.6 145.1,133.2 145.2,154.1 145.2,143.9 145.3,131.9 145.3,142.2 145.4,143.9 145.4,158.0 145.4,136.0 145.5,149.4 145.5,133.3 145.6,140.7 145.6,144.6 145.7,157.7 145.7,140.6 145.8,143.8 145.8,155.9 145.8,156.6 145.9,148.2 145.9,133.4 146.0,139.8 146.0,158.1 146.1,154.2 146.1,149.3 146.1,161.1 146.2,147.3 146.2,141.2 146.3,152.3 146.3,143.2 146.4,133.5 146.4,134.6 146.4,133.7 146.5,143.0 146.5,153.9 146.6,157.9 146.6,137.4 146.7,145.1 146.7,142.1 146.8,158.3 146.8,155.4 146.8,153.6 146.9,150.1 146.9,140.1 147.0,139.4 147.0,141.5 147.1,135.8 147.1,131.5 147.1,154.3 147.2,147.3 147.2,139.2 147.3,141.9 147.3,157.8 147.4,144.0 147.4,138.8 147.5,143.1 147.5,143.1 147.5,139.1 147.6,140.2 147.6,149.6 147.7,141.1 147.7,146.1 147.8,149.2 147.8,155.3 147.8,136.9 147.9,149.2 147.9,140.8 148.0,155.9 148.0,141.9 148.1,151.5 148.1,149.4 148.1,139.8 148.2,135.6 148.2,149.2 148.3,132.5 148.3,148.6 148.4,147.8 148.4,139.8 148.5,144.8 148.5,144.4 148.5,141.6 148.6,150.3 148.6,143.0 148.7,137.7 148.7,145.0 148.8,152.2 148.8,149.2 148.8,148.0 148.9,148.2 148.9,134.9 149.0,144.6 149.0,146.0 149.1,148.9 149.1,148.6 149.2,146.7 149.2,149.1 149.2,162.9 149.3,144.5 149.3,147.1 149.4,145.2 149.4,163.0 149.5,142.3 149.5,144.3 149.5,128.4 149.6,147.2 149.6,132.9 149.7,130.5 149.7,138.5 149.8,131.7 149.8,151.3 149.8,158.0 149.9,141.2 149.9,146.9 150.0,145.7 150.0,147.0 150.1,145.4 150.1,148.6 150.2,157.3 150.2,149.5 150.2,144.4 150.3,149.7 150.3,134.4 150.4,134.2 150.4,144.1 150.5,140.1 150.5,133.0 150.5,158.2 150.6,148.7 150.6,154.1 150.7,136.2 150.7,140.7 150.8,137.7 150.8,149.7 150.9,160.6 150.9,143.7 150.9,137.5 151.0,141.9 151.0,149.5 151.1,148.4 151.1,141.3 151.2,128.3 151.2,144.3 151.2,148.1 151.3,147.4 151.3,144.8 151.4,147.4 151.4,145.2 151.5,135.6 151.5,156.4 151.5,146.4 151.6,139.7 151.6,154.6 151.7,150.5 151.7,135.9 151.8,142.9 151.8,152.2 151.9,136.7 151.9,144.4 151.9,165.4 152.0,158.4 152.0,144.3 152.1,128.2 152.1,146.7 152.2,142.7 152.2,137.2 152.2,136.7 152.3,152.0 152.3,143.0 152.4,151.3 152.4,128.3 152.5,153.1 152.5,143.1 152.5,147.0 152.6,140.4 152.6,152.0 152.7,142.6 152.7,146.2 152.8,139.4 152.8,146.4 152.9,142.7 152.9,138.0 152.9,147.2 153.0,157.3 153.0,159.4 153.1,144.5 153.1,156.6 153.2,155.3 153.2,142.1 153.2,144.3 153.3,148.9 153.3,147.0 153.4,137.5 153.4,142.4 153.5,140.5 153.5,150.0 153.6,145.3 153.6,164.4 153.6,131.2 153.7,143.5 153.7,140.4 153.8,141.6 153.8,134.0 153.9,152.5 153.9,150.4 153.9,138.4 154.0,159.5 154.0,139.6 154.1,144.4 154.1,141.1 154.2,144.4 154.2,139.1 154.2,154.3 154.3,142.1 154.3,145.9 154.4,144.7 154.4,144.9 154.5,144.0 154.5,145.8 154.6,157.3 154.6,139.9 154.6,137.5 154.7,144.7 154.7,143.5 154.8,149.8 154.8,145.8 154.9,155.0 154.9,155.5 154.9,140.4 155.0,141.9 155.0,138.0 155.1,139.0 155.1,151.8 155.2,140.3 155.2,155.1 155.3,152.0 155.3,154.0 155.3,146.3 155.4,152.2 155.4,147.1 155.5,143.4 155.5,153.3 155.6,138.6 155.6,151.5 155.6,157.2 155.7,155.3 155.7,139.5 155.8,164.6 155.8,153.5 155.9,149.1 155.9,153.8 155.9,149.5 156.0,143.3 156.0,152.5 156.1,151.9 156.1,156.5 156.2,147.6 156.2,139.8 156.3,152.9 156.3,152.5 156.3,151.9 156.4,162.8 156.4,145.1 156.5,145.7 156.5,136.4 156.6,145.0 156.6,154.6 156.6,153.8 156.7,156.6 156.7,145.3 156.8,139.3 156.8,155.9 156.9,156.4 156.9,138.4 157.0,144.7 157.0,148.0 157.0,152.7 157.1,144.9 157.1,142.0 157.2,148.4 157.2,140.7 157.3,146.0 157.3,147.6 157.3,153.5 157.4,140.5 157.4,152.6 157.5,148.1 157.5,152.9 157.6,147.0 157.6,131.4 157.6,170.4 157.7,152.1 157.7,139.0 157.8,161.1 157.8,140.2 157.9,144.6 157.9,157.4 158.0,142.4 158.0,151.0 158.0,153.8 158.1,154.4 158.1,146.3 158.2,145.5 158.2,150.1 158.3,149.3 158.3,140.2 158.3,146.0 158.4,157.5 158.4,143.4 158.5,158.5 158.5,140.1 158.6,142.3 158.6,168.9 158.7,140.9 158.7,147.8 158.7,156.1 158.8,144.0 158.8,156.2 158.9,142.7 158.9,158.1 159.0,145.5 159.0,143.2 159.0,150.6 159.1,155.4 159.1,152.4 159.2,162.7 159.2,158.3 159.3,143.0 159.3,147.1 159.3,151.0 159.4,148.0 159.4,146.9 159.5,143.6 159.5,143.0 159.6,148.8 159.6,152.5 159.7,144.4 159.7,155.3 159.7,143.0 159.8,142.7 159.8,153.4 159.9,136.3 159.9,146.7 160.0,146.0 160.0,147.9 160.0,135.4 160.1,149.4 160.1,145.7 160.2,161.5 160.2,159.1 160.3,152.4 160.3,161.3 160.4,144.5 160.4,148.5 160.4,157.9 160.5,169.6 160.5,148.5 160.6,160.4 160.6,153.7 160.7,153.3 160.7,136.9 160.7,161.8 160.8,145.4 160.8,143.8 160.9,156.3 160.9,137.0 161.0,145.9 161.0,150.9 161.0,147.5 161.1,147.9 161.1,148.0 161.2,145.9 161.2,144.4 161.3,150.5 161.3,139.7 161.4,142.0 161.4,143.5 161.4,147.7 161.5,151.0 161.5,143.5 161.6,153.1 161.6,138.3 161.7,160.6 161.7,161.6 161.7,157.8 161.8,137.9 161.8,144.6 161.9,138.9 161.9,150.7 162.0,142.9 162.0,135.5 162.1,158.7 162.1,156.9 162.1,145.4 162.2,142.8 162.2,159.7 162.3,153.3 162.3,149.9 162.4,147.8 162.4,141.6 162.4,142.7 162.5,136.6 162.5,147.0 162.6,141.6 162.6,156.8 162.7,156.4 162.7,140.9 162.7,145.8 162.8,155.9 162.8,149.1 162.9,154.4 162.9,162.2 163.0,149.7 163.0,154.0 163.1,147.8 163.1,159.4 163.1,151.3 163.2,146.4 163.2,146.4 163.3,142.1 163.3,147.5 163.4,141.2 163.4,161.3 163.4,158.1 163.5,166.5 163.5,146.8 163.6,156.7 163.6,164.6 163.7,145.9 163.7,154.7 163.8,148.7 163.8,161.2 163.8,152.9 163.9,155.2 163.9,160.6 164.0,149.1 164.0,156.9 164.1,154.7 164.1,148.7 164.1,148.3 164.2,149.6 164.2,149.6 164.3,133.0 164.3,154.7 164.4,156.3 164.4,150.2 164.4,152.1 164.5,138.5 164.5,141.4 164.6,166.7 164.6,134.2 164.7,146.4 164.7,133.2 164.8,157.2 164.8,141.8 164.8,147.1 164.9,155.6 164.9,161.5 165.0,163.2 165.0,161.8 165.1,147.9 165.1,149.4 165.1,157.1 165.2,154.6 165.2,154.5 165.3,152.5 165.3,151.7 165.4,159.1 165.4,156.4 165.5,162.1 165.5,164.4 165.5,147.4 165.6,148.3 165.6,144.1 165.7,155.6 165.7,140.5 165.8,159.8 165.8,153.6 165.8,152.2 165.9,161.4 165.9,148.3 166.0,150.9 166.0,154.3 166.1,154.5 166.1,155.3 166.1,145.3 166.2,154.9 166.2,159.2 166.3,160.0 166.3,146.8 166.4,142.2 166.4,151.0 166.5,167.3 166.5,137.9 166.5,145.6 166.6,138.8 166.6,155.7 166.7,144.4 166.7,155.3 166.8,155.8 166.8,154.0 166.8,146.0 166.9,140.6 166.9,146.9 167.0,149.1 167.0,147.3 167.1,155.8 167.1,157.8 167.2,154.6 167.2,157.8 167.2,149.4 167.3,151.4 167.3,148.2 167.4,148.4 167.4,150.8 167.5,140.4 167.5,149.9 167.5,160.9 167.6,157.6 167.6,160.3 167.7,153.1 167.7,154.6 167.8,150.1 167.8,151.2 167.8,139.2 167.9,147.2 167.9,149.4 168.0,160.3 168.0,161.0 168.1,157.1 168.1,142.3 168.2,158.8 168.2,138.8 168.2,153.1 168.3,145.1 168.3,156.4 168.4,170.6 168.4,157.3 168.5,141.6 168.5,165.4 168.5,152.4 168.6,142.0 168.6,155.1 168.7,141.6 168.7,139.6 168.8,154.6 168.8,147.8 168.9,147.6 168.9,144.5 168.9,142.3 169.0,157.3 169.0,145.4 169.1,151.9 169.1,154.3 169.2,142.2 169.2,140.6 169.2,148.0 169.3,154.2 169.3,150.6 169.4,148.7 169.4,147.3 169.5,151.4 169.5,170.4 169.5,147.7 169.6,146.1 169.6,151.3 169.7,148.1 169.7,141.8 169.8,161.8 169.8,151.7 169.9,163.5 169.9,147.9 169.9,150.6 170.0,152.9 170.0,156.2 170.1,155.5 170.1,156.3 170.2,159.0 170.2,149.6 170.2,151.2 170.3,160.4 170.3,152.1 170.4,150.9 170.4,156.6 170.5,149.0 170.5,156.7 170.6,150.6 170.6,158.1 170.6,149.7 170.7,151.5 170.7,158.6 170.8,153.1 170.8,162.2 170.9,172.2 170.9,144.8 170.9,138.8 171.0,153.2 171.0,161.0 171.1,160.0 171.1,157.9 171.2,148.8 171.2,142.3 171.2,149.7 171.3,161.0 171.3,164.0 171.4,139.9 171.4,136.2 171.5,151.9 171.5,153.6 171.6,162.5 171.6,155.4 171.6,153.1 171.7,154.1 171.7,149.2 171.8,157.6 171.8,157.7 171.9,152.1 171.9,144.1 171.9,154.9 172.0,155.4 172.0,166.2 172.1,156.2 172.1,154.6 172.2,153.6 172.2,164.1 172.3,156.2 172.3,156.8 172.3,145.5 172.4,162.0 172.4,151.8 172.5,161.0 172.5,157.7 172.6,165.3 172.6,151.9 172.6,150.0 172.7,155.3 172.7,164.7 172.8,145.7 172.8,153.2 172.9,159.2 172.9,149.3 172.9,153.3 173.0,148.2 173.0,145.2 173.1,158.8 173.1,147.4 173.2,157.9 173.2,146.7 173.3,164.9 173.3,161.3 173.3,166.1 173.4,157.4 173.4,156.3 173.5,151.6 173.5,144.0 173.6,156.0 173.6,166.5 173.6,168.3 173.7,156.6 173.7,157.9 173.8,147.7 173.8,151.7 173.9,168.5 173.9,160.4 174.0,183.4 174.0,159.4 174.0,155.1 174.1,150.6 174.1,143.9 174.2,151.8 174.2,159.3 174.3,156.6 174.3,156.0 174.3,141.7 174.4,137.9 174.4,146.7 174.5,147.8 174.5,153.0 174.6,160.0 174.6,161.2 174.6,149.5 174.7,152.9 174.7,160.7 174.8,151.9 174.8,153.5 174.9,144.4 174.9,154.9 175.0,160.1 175.0,148.5 175.0,159.1 175.1,158.7 175.1,153.2 175.2,136.4 175.2,150.6 175.3,144.7 175.3,135.7 175.3,156.9 175.4,146.0 175.4,151.9 175.5,147.9 175.5,158.1 175.6,148.5 175.6,144.7 175.7,162.5 175.7,154.2 175.7,156.0 175.8,148.9 175.8,143.7 175.9,144.2 175.9,155.8 176.0,163.1 176.0,167.0 176.0,148.1 176.1,162.9 176.1,153.9 176.2,153.6 176.2,155.3 176.3,154.3 176.3,138.0 176.3,140.6 176.4,158.0 176.4,162.3 176.5,148.9 176.5,152.8 176.6,151.3 176.6,162.2 176.7,155.9 176.7,166.5 176.7,151.8 176.8,161.7 176.8,148.8 176.9,152.4 176.9,144.5 177.0,155.4 177.0,172.0 177.0,144.7 177.1,158.1 177.1,154.9 177.2,157.5 177.2,158.8 177.3,144.7 177.3,154.3 177.3,161.8 177.4,158.3 177.4,159.4 177.5,153.7 177.5,150.9 177.6,149.0 177.6,156.6 177.7,153.4 177.7,161.0 177.7,150.7 177.8,156.4 177.8,165.3 177.9,164.2 177.9,153.5 178.0,154.2 178.0,176.7 178.0,147.5 178.1,158.1 178.1,170.8 178.2,162.6 178.2,144.9 178.3,151.6 178.3,138.1 178.4,159.4 178.4,160.8 178.4,164.8 178.5,163.0 178.5,163.5 178.6,147.1 178.6,153.5 178.7,145.3 178.7,144.2 178.7,156.7 178.8,157.6 178.8,153.1 178.9,170.0 178.9,142.2 179.0,146.7 179.0,156.1 179.0,157.7 179.1,145.8 179.1,151.2 179.2,140.9 179.2,154.9 179.3,155.1 179.3,151.9 179.4,154.8 179.4,140.6 179.4,160.6 179.5,154.6 179.5,159.0 179.6,158.8 179.6,160.1 179.7,156.2 179.7,160.6 179.7,163.3 179.8,127.7 179.8,173.6 179.9,151.8 179.9,150.7 180.0,156.3 180.0,147.5 180.1,152.9 180.1,159.3 180.1,148.7 180.2,150.1 180.2,154.3 180.3,152.8 180.3,161.0 180.4,143.5 180.4,161.8 180.4,167.5 180.5,144.8 180.5,137.3 180.6,151.0 180.6,177.1 180.7,156.4 180.7,153.9 180.7,156.0 180.8,162.8 180.8,161.0 180.9,158.2 180.9,157.4 181.0,164.9 181.0,146.3 181.1,169.3 181.1,157.3 181.1,153.5 181.2,154.3 181.2,160.0 181.3,161.7 181.3,155.9 181.4,153.6 181.4,147.9 181.4,151.3 181.5,138.5 181.5,152.7 181.6,154.5 181.6,167.8 181.7,158.7 181.7,148.2 181.8,159.9 181.8,156.7 181.8,147.5 181.9,162.4 181.9,150.6 182.0,150.7 182.0,154.0 182.1,157.5 182.1,155.6 182.1,160.3 182.2,145.4 182.2,149.9 182.3,144.7 182.3,154.3 182.4,154.7 182.4,159.5 182.4,162.3 182.5,161.8 182.5,142.5 182.6,158.1 182.6,151.3 182.7,169.9 182.7,147.8 182.8,157.6 182.8,151.6 182.8,159.7 182.9,149.3 182.9,166.7 183.0,155.7 183.0,160.0 183.1,165.7 183.1,155.7 183.1,145.7 183.2,154.9 183.2,156.8 183.3,171.6 183.3,142.8 183.4,161.1 183.4,150.0 183.5,158.2 183.5,157.5 183.5,145.6 183.6,156.7 183.6,160.5 183.7,159.1 183.7,164.5 183.8,163.5 183.8,153.7 183.8,148.1 183.9,151.6 183.9,154.2 184.0,154.2 184.0,143.3 184.1,157.4 184.1,157.6 184.1,150.1 184.2,146.1 184.2,156.7 184.3,157.3 184.3,145.5 184.4,157.6 184.4,152.9 184.5,160.6 184.5,125.1 184.5,141.3 184.6,150.9 184.6,161.4 184.7,162.4 184.7,152.3 184.8,165.7 184.8,155.7 184.8,169.4 184.9,158.9 184.9,154.5 185.0,154.4 185.0,151.1 185.1,164.3 185.1,156.1 185.2,174.7 185.2,161.6 185.2,143.1 185.3,150.2 185.3,155.0 185.4,163.1 185.4,160.3 185.5,158.1 185.5,155.9 185.5,147.9 185.6,146.6 185.6,166.1 185.7,178.4 185.7,155.8 185.8,158.2 185.8,163.7 185.8,155.5 185.9,167.0 185.9,159.0 186.0,155.8 186.0,147.9 186.1,162.7 186.1,154.3 186.2,158.7 186.2,155.1 186.2,159.0 186.3,163.5 186.3,160.4 186.4,147.2 186.4,159.1 186.5,157.2 186.5,151.3 186.5,150.8 186.6,157.7 186.6,149.2 186.7,159.1 186.7,149.1 186.8,157.0 186.8,162.0 186.9,156.2 186.9,148.8 186.9,167.5 187.0,153.7 187.0,146.7 187.1,151.5 187.1,155.4 187.2,170.4 187.2,162.0 187.2,163.3 187.3,160.9 187.3,166.1 187.4,152.6 187.4,146.1 187.5,149.0 187.5,165.7 187.5,156.0 187.6,166.7 187.6,159.6 187.7,152.5 187.7,173.2 187.8,163.2 187.8,149.2 187.9,151.1 187.9,170.9 187.9,153.1 188.0,164.4 188.0,155.5 188.1,155.9 188.1,168.0 188.2,146.8 188.2,161.4 188.2,166.6 188.3,158.8 188.3,152.5 188.4,151.8 188.4,147.4 188.5,161.1 188.5,154.3 188.6,160.8 188.6,158.0 188.6,162.8 188.7,151.4 188.7,150.8 188.8,149.1 188.8,159.8 188.9,173.6 188.9,158.0 188.9,165.8 189.0,151.5 189.0,160.0 189.1,166.7 189.1,159.0 189.2,168.5 189.2,152.9 189.2,182.3 189.3,170.5 189.3,165.5 189.4,158.2 189.4,163.5 189.5,164.8 189.5,155.9 189.6,159.5 189.6,170.6 189.6,170.8 189.7,161.3 189.7,154.8 189.8,156.3 189.8,145.1 189.9,159.2 189.9,147.1 189.9,146.1 190.0,157.4 190.0,166.0 190.1,164.5 190.1,161.6 190.2,169.7 190.2,147.1 190.3,159.2 190.3,158.0 190.3,155.5 190.4,164.9 190.4,148.8 190.5,154.3 190.5,148.7 190.6,157.2 190.6,169.0 190.6,156.1 190.7,156.8 190.7,156.5 190.8,154.1 190.8,161.7 190.9,162.5 190.9,162.3 190.9,162.8 191.0,151.9 191.0,146.0 191.1,166.6 191.1,155.0 191.2,162.1 191.2,160.7 191.3,152.1 191.3,172.2 191.3,161.7 191.4,144.0 191.4,160.0 191.5,164.3 191.5,150.3 191.6,156.4 191.6,148.1 191.6,163.1 191.7,153.3 191.7,165.3 191.8,163.7 191.8,156.6 191.9,151.6 191.9,159.1 192.0,162.8 192.0,152.5 192.0,164.0 192.1,166.9 192.1,156.0 192.2,168.6 192.2,162.6 192.3,145.6 192.3,157.3 192.3,170.0 192.4,156.3 192.4,159.8 192.5,152.3 192.5,157.2 192.6,165.3 192.6,161.6 192.6,162.7 192.7,177.9 192.7,149.2 192.8,164.0 192.8,149.6 192.9,154.7 192.9,158.6 193.0,163.1 193.0,147.6 193.0,174.4 193.1,154.6 193.1,151.1 193.2,159.4 193.2,151.2 193.3,161.6 193.3,165.9 193.3,149.3 193.4,152.7 193.4,162.6 193.5,152.1 193.5,156.1 193.6,156.7 193.6,154.4 193.7,147.5 193.7,157.5 193.7,161.3 193.8,162.2 193.8,154.3 193.9,150.4 193.9,166.7 194.0,163.4 194.0,163.6 194.0,173.7 194.1,159.9 194.1,157.3 194.2,158.1 194.2,160.4 194.3,157.5 194.3,160.7 194.3,163.4 194.4,164.3 194.4,166.0 194.5,164.0 194.5,162.6 194.6,166.3 194.6,164.0 194.7,161.2 194.7,179.7 194.7,156.2 194.8,145.9 194.8,154.7 194.9,165.4 194.9,157.9 195.0,151.7 195.0,181.7 195.0,165.8 195.1,163.9 195.1,167.1 195.2,158.2 195.2,155.1 195.3,170.5 195.3,156.8 195.4,165.9 195.4,150.0 195.4,161.3 195.5,160.6 195.5,163.5 195.6,164.4 195.6,157.5 195.7,159.1 195.7,162.8 195.7,149.0 195.8,174.6 195.8,152.9 195.9,160.0 195.9,147.2 196.0,159.4 196.0,154.6 196.0,154.8 196.1,167.0 196.1,164.7 196.2,161.5 196.2,160.8 196.3,157.5 196.3,144.5 196.4,161.2 196.4,143.7 196.4,155.9 196.5,174.5 196.5,152.8 196.6,156.3 196.6,165.9 196.7,167.2 196.7,160.8 196.7,154.0 196.8,170.6 196.8,164.5 196.9,157.3 196.9,166.3 197.0,171.3 197.0,163.7 197.1,158.1 197.1,144.8 197.1,157.7 197.2,148.3 197.2,161.3 197.3,160.5 197.3,155.0 197.4,160.1 197.4,140.4 197.4,158.3 197.5,156.5 197.5,169.2 197.6,171.4 197.6,159.1 197.7,161.5 197.7,161.9 197.7,162.7 197.8,156.0 197.8,154.4 197.9,175.5 197.9,148.6 198.0,153.0 198.0,170.6 198.1,155.8 198.1,161.1 198.1,161.3 198.2,163.9 198.2,163.5 198.3,164.2 198.3,159.8 198.4,162.7 198.4,156.5 198.4,161.3 198.5,159.6 198.5,157.5 198.6,163.0 198.6,158.5 198.7,164.6 198.7,153.7 198.8,155.6 198.8,153.5 198.8,166.3 198.9,152.1 198.9,162.6 199.0,177.5 199.0,151.3 199.1,165.2 199.1,164.8 199.1,165.3 199.2,163.5 199.2,160.8 199.3,170.0 199.3,156.4 199.4,154.3 199.4,158.8 199.4,166.5 199.5,140.7 199.5,163.6 199.6,170.2 199.6,161.1 199.7,153.5 199.7,158.1 199.8,162.1 199.8,172.0 199.8,171.0 199.9,155.3 199.9,159.9 200.0,170.2 200.0,156.7 200.1,176.2 200.1,153.5 200.1,163.0 200.2,149.2 200.2,165.7 200.3,178.0 200.3,156.3 200.4,160.1 200.4,161.7 200.5,161.9 200.5,162.6 200.5,160.2 200.6,173.0 200.6,154.1 200.7,157.2 200.7,151.4 200.8,161.9 200.8,163.8 200.8,171.0 200.9,183.2 200.9,152.3 201.0,171.1 201.0,155.5 201.1,160.1 201.1,169.3 201.1,154.9 201.2,166.8 201.2,151.0 201.3,154.8 201.3,153.4 201.4,154.4 201.4,173.4 201.5,156.7 201.5,153.0 201.5,157.9 201.6,157.5 201.6,166.0 201.7,169.2 201.7,167.3 201.8,158.7 201.8,144.2 201.8,152.0 201.9,147.0 201.9,166.3 202.0,162.2 202.0,162.0 202.1,162.1 202.1,157.2 202.1,170.4 202.2,149.7 202.2,148.0 202.3,158.6 202.3,148.6 202.4,167.0 202.4,162.6 202.5,153.0 202.5,156.3 202.5,170.2 202.6,160.1 202.6,161.3 202.7,178.3 202.7,170.5 202.8,157.2 202.8,153.0 202.8,170.8 202.9,168.7 202.9,159.6 203.0,172.6 203.0,156.7 203.1,172.6 203.1,163.4 203.2,165.1 203.2,148.5 203.2,169.7 203.3,173.8 203.3,150.1 203.4,158.2 203.4,174.5 203.5,158.2 203.5,163.4 203.5,167.3 203.6,164.3 203.6,156.5 203.7,159.3 203.7,174.5 203.8,149.6 203.8,170.5 203.8,163.6 203.9,164.0 203.9,165.2 204.0,167.4 204.0,160.5 204.1,147.9 204.1,161.0 204.2,145.0 204.2,148.0 204.2,151.8 204.3,158.3 204.3,162.5 204.4,158.4 204.4,154.3 204.5,162.2 204.5,152.3 204.5,158.7 204.6,163.5 204.6,159.4 204.7,180.9 204.7,175.5 204.8,171.0 204.8,159.4 204.9,168.9 204.9,172.5 204.9,167.3 205.0,155.3 205.0,152.7 205.1,172.0 205.1,152.8 205.2,168.0 205.2,168.3 205.2,172.2 205.3,170.5 205.3,153.3 205.4,150.1 205.4,150.4 205.5,156.8 205.5,166.3 205.5,171.9 205.6,170.8 205.6,162.6 205.7,164.1 205.7,169.7 205.8,167.0 205.8,170.7 205.9,164.5 205.9,164.6 205.9,156.2 206.0,154.5 206.0,151.8 206.1,166.6 206.1,178.9 206.2,171.6 206.2,168.9 206.2,145.4 206.3,167.4 206.3,155.3 206.4,162.4 206.4,163.2 206.5,169.9 206.5,150.4 206.6,165.1 206.6,161.9 206.6,162.3 206.7,151.3 206.7,149.5 206.8,152.3 206.8,156.9 206.9,162.6 206.9,171.7 206.9,169.5 207.0,169.0 207.0,170.9 207.1,158.3 207.1,168.4 207.2,170.1 207.2,168.9 207.2,174.2 207.3,174.7 207.3,158.6 207.4,163.1 207.4,160.0 207.5,166.9 207.5,170.5 207.6,156.2 207.6,158.8 207.6,164.6 207.7,172.8 207.7,162.7 207.8,162.8 207.8,156.3 207.9,174.3 207.9,163.2 207.9,155.2 208.0,161.6 208.0,168.9 208.1,154.4 208.1,153.8 208.2,162.4 208.2,164.2 208.3,146.9 208.3,163.5 208.3,167.6 208.4,170.1 208.4,156.1 208.5,180.7 208.5,164.2 208.6,172.2 208.6,161.3 208.6,173.8 208.7,165.1 208.7,173.1 208.8,166.6 208.8,155.6 208.9,160.0 208.9,161.7 208.9,157.1 209.0,151.9 209.0,162.3 209.1,164.3 209.1,167.2 209.2,175.0 209.2,168.3 209.3,161.2 209.3,164.4 209.3,155.2 209.4,171.1 209.4,174.6 209.5,158.1 209.5,164.3 209.6,161.9 209.6,154.8 209.6,158.9 209.7,169.0 209.7,163.8 209.8,172.8 209.8,167.3 209.9,157.6 209.9,173.4 210.0,160.4 210.0,165.5 210.0,168.6 210.1,160.0 210.1,178.0 210.2,159.6 210.2,167.1 210.3,164.7 210.3,167.7 210.3,170.2 210.4,161.6 210.4,154.1 210.5,164.6 210.5,149.8 210.6,162.7 210.6,157.4 210.6,166.5 210.7,158.4 210.7,165.5 210.8,152.8 210.8,151.4 210.9,164.9 210.9,167.1 211.0,159.8 211.0,170.0 211.0,170.8 211.1,181.6 211.1,157.1 211.2,168.5 211.2,172.0 211.3,159.5 211.3,156.4 211.3,151.8 211.4,166.2 211.4,173.0 211.5,166.0 211.5,171.4 211.6,161.9 211.6,155.6 211.7,171.6 211.7,151.8 211.7,169.1 211.8,161.8 211.8,166.3 211.9,179.4 211.9,151.2 212.0,177.0 212.0,174.8 212.0,165.1 212.1,171.1 212.1,160.3 212.2,163.2 212.2,155.0 212.3,163.6 212.3,168.4 212.3,167.1 212.4,156.9 212.4,167.6 212.5,161.2 212.5,172.1 212.6,175.5 212.6,169.7 212.7,167.6 212.7,166.0 212.7,170.5 212.8,153.5 212.8,164.2 212.9,164.8 212.9,158.8 213.0,166.1 213.0,163.0 213.0,160.0 213.1,157.6 213.1,164.7 213.2,161.1 213.2,155.6 213.3,169.9 213.3,183.7 213.4,169.7 213.4,168.4 213.4,170.8 213.5,171.4 213.5,159.7 213.6,136.5 213.6,160.3 213.7,173.3 213.7,172.4 213.7,153.9 213.8,174.2 213.8,154.9 213.9,148.4 213.9,175.7 214.0,161.5 214.0,176.3 214.0,155.6 214.1,160.4 214.1,165.8 214.2,168.7 214.2,160.1 214.3,166.1 214.3,169.9 214.4,159.2 214.4,166.2 214.4,165.8 214.5,172.0 214.5,154.2 214.6,165.5 214.6,175.0 214.7,162.2 214.7,165.6 214.7,167.4 214.8,176.8 214.8,175.1 214.9,165.5 214.9,168.4 215.0,157.8 215.0,166.5 215.1,162.7 215.1,155.2 215.1,172.6 215.2,149.2 215.2,173.6 215.3,163.3 215.3,153.0 215.4,167.8 215.4,160.8 215.4,161.7 215.5,156.0 215.5,155.7 215.6,177.2 215.6,159.4 215.7,162.7 215.7,170.8 215.7,160.1 215.8,171.6 215.8,178.8 215.9,155.5 215.9,160.6 216.0,167.4 216.0,167.2 216.1,160.9 216.1,165.5 216.1,176.1 216.2,164.5 216.2,151.2 216.3,172.7 216.3,165.7 216.4,170.9 216.4,153.8 216.4,184.3 216.5,156.9 216.5,175.3 216.6,165.7 216.6,183.4 216.7,164.6 216.7,174.6 216.8,168.5 216.8,165.0 216.8,163.2 216.9,165.6 216.9,164.8 217.0,170.1 217.0,161.6 217.1,165.2 217.1,161.8 217.1,162.2 217.2,169.8 217.2,163.7 217.3,151.9 217.3,164.9 217.4,166.6 217.4,158.0 217.4,160.7 217.5,155.6 217.5,163.2 217.6,170.8 217.6,172.4 217.7,150.9 217.7,164.9 217.8,170.6 217.8,144.4 217.8,170.9 217.9,176.5 217.9,170.6 218.0,144.4 218.0,152.7 218.1,164.7 218.1,180.7 218.1,170.1 218.2,168.8 218.2,151.9 218.3,179.1 218.3,172.5 218.4,170.9 218.4,164.8 218.5,167.6 218.5,162.9 218.5,182.7 218.6,165.6 218.6,156.4 218.7,173.2 218.7,154.2 218.8,157.8 218.8,179.0 218.8,157.6 218.9,165.5 218.9,166.2 219.0,174.9 219.0,164.8 219.1,149.0 219.1,162.1 219.1,169.6 219.2,158.6 219.2,169.3 219.3,172.5 219.3,166.9 219.4,180.6 219.4,173.2 219.5,172.3 219.5,170.8 219.5,160.7 219.6,173.6 219.6,157.2 219.7,187.2 219.7,175.2 219.8,173.0 219.8,178.3 219.8,155.4 219.9,156.2 219.9,169.9 220.0,163.2 220.0,166.8 220.1,182.0 220.1,167.0 220.2,161.3 220.2,163.6 220.2,163.5 220.3,176.9 220.3,165.1 220.4,168.4 220.4,157.9 220.5,160.9 220.5,173.0 220.5,175.6 220.6,169.5 220.6,173.4 220.7,172.1 220.7,166.0 220.8,164.3 220.8,167.4 220.8,186.5 220.9,175.5 220.9,163.9 221.0,181.0 221.0,165.9 221.1,172.5 221.1,163.9 221.2,167.4 221.2,159.5 221.2,159.4 221.3,152.9 221.3,164.2 221.4,161.6 221.4,155.2 221.5,169.4 221.5,157.7 221.5,152.5 221.6,167.6 221.6,156.5 221.7,180.8 221.7,173.5 221.8,165.6 221.8,164.9 221.9,169.9 221.9,157.1 221.9,178.7 222.0,160.4 222.0,174.6 222.1,170.4 222.1,175.5 222.2,157.8 222.2,159.2 222.2,167.8 222.3,182.2 222.3,167.8 222.4,160.2 222.4,160.7 222.5,154.2 222.5,169.7 222.5,162.6 222.6,177.2 222.6,163.8 222.7,164.1 222.7,165.8 222.8,158.9 222.8,163.5 222.9,164.8 222.9,171.1 222.9,172.1 223.0,166.6 223.0,163.8 223.1,179.2 223.1,167.3 223.2,173.8 223.2,167.9 223.2,171.4 223.3,169.5 223.3,161.3 223.4,163.3 223.4,160.1 223.5,178.8 223.5,161.5 223.6,154.0 223.6,180.0 223.6,169.6 223.7,158.1 223.7,172.4 223.8,161.7 223.8,171.2 223.9,175.9 223.9,172.0 223.9,170.5 224.0,175.3 224.0,163.3 224.1,182.4 224.1,172.2 224.2,178.9 224.2,156.8 224.2,166.5 224.3,179.3 224.3,177.7 224.4,174.9 224.4,173.2 224.5,174.0 224.5,170.9 224.6,164.8 224.6,167.7 224.6,168.4 224.7,160.8 224.7,159.1 224.8,147.0 224.8,169.4 224.9,162.3 224.9,157.4 224.9,167.1 225.0,172.0 225.0,156.6 225.1,153.5 225.1,172.2 225.2,159.1 225.2,166.3 225.3,165.5 225.3,159.1 225.3,175.0 225.4,173.6 225.4,163.4 225.5,163.9 225.5,170.6 225.6,171.2 225.6,173.3 225.6,150.6 225.7,150.3 225.7,172.7 225.8,166.9 225.8,178.9 225.9,171.7 225.9,176.6 225.9,170.6 226.0,178.8 226.0,162.9 226.1,168.4 226.1,168.4 226.2,162.3 226.2,165.1 226.3,178.6 226.3,162.5 226.3,177.9 226.4,166.0 226.4,177.7 226.5,169.8 226.5,169.6 226.6,179.2 226.6,164.0 226.6,170.2 226.7,176.2 226.7,163.1 226.8,167.6 226.8,169.0 226.9,163.0 226.9,172.5 227.0,166.3 227.0,166.8 227.0,158.2 227.1,154.7 227.1,154.4 227.2,175.1 227.2,170.1 227.3,161.3 227.3,177.1 227.3,166.3 227.4,162.5 227.4,172.3 227.5,161.9 227.5,177.1 227.6,169.1 227.6,167.6 227.6,184.0 227.7,172.6 227.7,159.7 227.8,186.5 227.8,168.8 227.9,167.9 227.9,170.0 228.0,165.9 228.0,161.9 228.0,163.3 228.1,173.8 228.1,158.1 228.2,157.6 228.2,174.4 228.3,174.5 228.3,176.4 228.3,165.4 228.4,175.6 228.4,158.5 228.5,169.2 228.5,160.2 228.6,172.4 228.6,159.0 228.6,185.3 228.7,173.1 228.7,163.4 228.8,151.5 228.8,165.9 228.9,159.7 228.9,176.3 229.0,185.6 229.0,171.0 229.0,176.1 229.1,186.8 229.1,178.1 229.2,160.6 229.2,167.6 229.3,173.7 229.3,174.4 229.3,177.5 229.4,175.9 229.4,166.2 229.5,175.3 229.5,166.5 229.6,167.3 229.6,161.5 229.7,177.4 229.7,165.4 229.7,168.8 229.8,161.7 229.8,175.0 229.9,172.4 229.9,188.9 230.0,168.9 230.0,176.5 230.0,172.8 230.1,179.6 230.1,156.4 230.2,162.4 230.2,163.4 230.3,175.2 230.3,163.2 230.3,169.3 230.4,180.1 230.4,169.9 230.5,172.4 230.5,174.1 230.6,162.4 230.6,174.1 230.7,166.3 230.7,168.8 230.7,163.0 230.8,168.4 230.8,159.9 230.9,161.3 230.9,177.2 231.0,171.0 231.0,173.9 231.0,162.0 231.1,166.7 231.1,160.4 231.2,163.1 231.2,155.3 231.3,174.8 231.3,169.2 231.4,182.1 231.4,168.3 231.4,185.2 231.5,181.7 231.5,160.3 231.6,157.6 231.6,187.3 231.7,186.7 231.7,172.1 231.7,168.4 231.8,155.1 231.8,176.2 231.9,172.1 231.9,174.2 232.0,171.6 232.0,173.9 232.0,162.9 232.1,172.3 232.1,174.5 232.2,160.3 232.2,173.0 232.3,180.9 232.3,161.9 232.4,173.0 232.4,184.7 232.4,160.9 232.5,186.0 232.5,177.9 232.6,169.2 232.6,169.5 232.7,176.6 232.7,167.4 232.7,159.7 232.8,173.6 232.8,167.9 232.9,178.9 232.9,182.4 233.0,168.5 233.0,194.8 233.1,166.6 233.1,171.4 233.1,168.1 233.2,173.3 233.2,170.5 233.3,167.3 233.3,166.1 233.4,167.4 233.4,174.4 233.4,161.6 233.5,177.9 233.5,159.6 233.6,160.8 233.6,172.8 233.7,175.1 233.7,164.1 233.7,159.2 233.8,162.9 233.8,161.3 233.9,160.3 233.9,168.9 234.0,157.4 234.0,170.2 234.1,168.5 234.1,159.9 234.1,166.8 234.2,175.8 234.2,191.4 234.3,151.9 234.3,183.2 234.4,159.7 234.4,171.4 234.4,185.0 234.5,177.9 234.5,177.6 234.6,155.2 234.6,166.6 234.7,180.6 234.7,157.9 234.8,160.9 234.8,177.9 234.8,167.9 234.9,161.2 234.9,180.3 235.0,168.0 235.0,164.3 235.1,172.9 235.1,164.4 235.1,180.7 235.2,179.3 235.2,168.2 235.3,165.5 235.3,168.4 235.4,173.5 235.4,169.6 235.4,174.7 235.5,174.9 235.5,173.9 235.6,174.2 235.6,173.5 235.7,168.5 235.7,165.7 235.8,165.5 235.8,173.3 235.8,170.7 235.9,171.3 235.9,175.2 236.0,174.1 236.0,167.5 236.1,176.4 236.1,180.4 236.1,163.9 236.2,165.7 236.2,179.4 236.3,165.0 236.3,158.0 236.4,177.7 236.4,170.8 236.5,177.9 236.5,177.3 236.5,183.6 236.6,160.6 236.6,166.7 236.7,163.9 236.7,184.7 236.8,170.4 236.8,166.8 236.8,171.9 236.9,176.7 236.9,164.9 237.0,172.9 237.0,155.9 237.1,161.2 237.1,172.7 237.1,174.8 237.2,175.5 237.2,165.6 237.3,169.5 237.3,172.1 237.4,174.0 237.4,166.5 237.5,144.2 237.5,177.9 237.5,172.5 237.6,177.1 237.6,160.3 237.7,177.2 237.7,172.7 237.8,164.9 237.8,170.9 237.8,165.3 237.9,172.1 237.9,178.8 238.0,171.0 238.0,172.3 238.1,179.1 238.1,181.2 238.2,178.1 238.2,165.5 238.2,180.5 238.3,184.5 238.3,164.9 238.4,173.5 238.4,172.6 238.5,178.0 238.5,185.1 238.5,157.0 238.6,168.2 238.6,180.8 238.7,168.3 238.7,171.7 238.8,164.5 238.8,179.4 238.8,163.5 238.9,158.6 238.9,170.7 239.0,178.6 239.0,176.6 239.1,168.5 239.1,155.9 239.2,178.3 239.2,178.9 239.2,187.3 239.3,164.3 239.3,170.6 239.4,167.3 239.4,176.2 239.5,167.1 239.5,180.1 239.5,180.3 239.6,169.8 239.6,172.3 239.7,194.0 239.7,169.7 239.8,174.1 239.8,171.7 239.9,177.9 239.9,181.7 239.9,178.3 240.0,174.2 240.0,171.0 240.1,172.8 240.1,180.6 240.2,174.2 240.2,156.2 240.2,164.4 240.3,168.8 240.3,171.4 240.4,178.4 240.4,185.0 240.5,167.8 240.5,168.7 240.5,167.6 240.6,167.4 240.6,186.3 240.7,187.2 240.7,177.8 240.8,171.6 240.8,164.0 240.9,170.3 240.9,173.0 240.9,164.8 241.0,163.6 241.0,171.7 241.1,167.6 241.1,168.5 241.2,170.6 241.2,178.9 241.2,174.6 241.3,169.1 241.3,177.0 241.4,178.2 241.4,176.2 241.5,183.6 241.5,176.2 241.6,176.3 241.6,156.5 241.6,172.9 241.7,170.5 241.7,168.8 241.8,175.1 241.8,177.9 241.9,167.2 241.9,180.8 241.9,180.0 242.0,165.1 242.0,186.4 242.1,180.7 242.1,172.4 242.2,169.1 242.2,180.4 242.2,175.2 242.3,176.9 242.3,165.9 242.4,156.2 242.4,161.0 242.5,189.4 242.5,174.0 242.6,166.2 242.6,179.7 242.6,158.9 242.7,170.3 242.7,172.9 242.8,179.4 242.8,174.0 242.9,168.8 242.9,163.8 242.9,166.8 243.0,166.8 243.0,180.3 243.1,173.5 243.1,177.7 243.2,191.6 243.2,169.8 243.3,183.0 243.3,163.9 243.3,175.3 243.4,168.9 243.4,173.9 243.5,175.0 243.5,171.3 243.6,177.5 243.6,181.4 243.6,174.8 243.7,182.6 243.7,174.6 243.8,184.2 243.8,150.7 243.9,173.7 243.9,180.3 243.9,168.6 244.0,169.5 244.0,173.7 244.1,178.3 244.1,177.8 244.2,164.6 244.2,179.2 244.3,181.4 244.3,178.4 244.3,170.2 244.4,180.4 244.4,170.0 244.5,172.3 244.5,174.4 244.6,169.7 244.6,161.3 244.6,181.9 244.7,180.4 244.7,177.3 244.8,160.6 244.8,177.0 244.9,169.8 244.9,178.1 245.0,172.2 245.0,169.7 245.0,189.5 245.1,173.8 245.1,179.3 245.2,177.7 245.2,169.4 245.3,175.0 245.3,176.5 245.3,177.3 245.4,179.5 245.4,181.3 245.5,170.8 245.5,164.4 245.6,169.6 245.6,171.7 245.6,167.8 245.7,188.3 245.7,181.5 245.8,175.1 245.8,152.1 245.9,179.0 245.9,176.0 246.0,168.4 246.0,174.4 246.0,178.5 246.1,161.6 246.1,180.9 246.2,179.5 246.2,160.2 246.3,170.3 246.3,177.8 246.3,175.4 246.4,182.8 246.4,193.2 246.5,189.4 246.5,180.8 246.6,169.3 246.6,174.6 246.7,173.8 246.7,173.3 246.7,175.9 246.8,173.9 246.8,173.3 246.9,178.6 246.9,175.8 247.0,181.9 247.0,171.8 247.0,174.9 247.1,163.8 247.1,172.1 247.2,177.2 247.2,180.9 247.3,162.4 247.3,168.9 247.3,176.4 247.4,183.9 247.4,177.5 247.5,169.6 247.5,180.3 247.6,166.8 247.6,172.8 247.7,167.8 247.7,181.9 247.7,173.9 247.8,177.5 247.8,173.4 247.9,169.1 247.9,179.3 248.0,167.4 248.0,177.1 248.0,190.9 248.1,178.3 248.1,173.9 248.2,176.8 248.2,179.8 248.3,174.8 248.3,181.8 248.4,169.2 248.4,177.2 248.4,169.5 248.5,167.9 248.5,180.4 248.6,169.1 248.6,177.7 248.7,191.1 248.7,171.2 248.7,179.9 248.8,177.8 248.8,170.4 248.9,177.8 248.9,153.2 249.0,170.8 249.0,177.2 249.0,178.8 249.1,147.7 249.1,178.8 249.2,180.4 249.2,186.8 249.3,180.5 249.3,169.8 249.4,175.0 249.4,164.7 249.4,157.8 249.5,184.2 249.5,174.3 249.6,173.2 249.6,163.6 249.7,173.9 249.7,169.5 249.7,167.3 249.8,166.8 249.8,181.8 249.9,175.4 249.9,175.4 250.0,172.9 250.0,174.8 250.1,162.5 250.1,159.5 250.1,190.7 250.2,170.7 250.2,175.9 250.3,173.8 250.3,178.4 250.4,175.7 250.4,184.8 250.4,186.1 250.5,170.5 250.5,178.9 250.6,177.7 250.6,174.1 250.7,180.5 250.7,172.9 250.7,185.0 250.8,176.6 250.8,180.0 250.9,167.4 250.9,163.3 251.0,188.6 251.0,180.9 251.1,186.3 251.1,183.1 251.1,185.3 251.2,167.4 251.2,181.8 251.3,159.2 251.3,166.4 251.4,181.2 251.4,174.3 251.4,176.4 251.5,173.1 251.5,166.9 251.6,175.7 251.6,173.2 251.7,173.7 251.7,159.4 251.8,178.7 251.8,165.6 251.8,182.6 251.9,175.3 251.9,169.5 252.0,179.0 252.0,174.3 252.1,178.8 252.1,175.9 252.1,172.6 252.2,176.1 252.2,170.5 252.3,171.2 252.3,180.9 252.4,168.9 252.4,164.9 252.4,176.1 252.5,171.4 252.5,181.2 252.6,167.2 252.6,184.9 252.7,178.8 252.7,171.7 252.8,177.4 252.8,175.0 252.8,178.4 252.9,162.2 252.9,187.3 253.0,176.8 253.0,189.4 253.1,187.1 253.1,173.1 253.1,184.0 253.2,164.2 253.2,177.7 253.3,178.5 253.3,189.0 253.4,165.1 253.4,172.8 253.4,176.2 253.5,164.6 253.5,174.5 253.6,167.1 253.6,176.9 253.7,186.7 253.7,177.6 253.8,165.0 253.8,183.0 253.8,179.7 253.9,168.4 253.9,164.9 254.0,182.0 254.0,182.9 254.1,175.4 254.1,177.6 254.1,181.3 254.2,173.8 254.2,184.7 254.3,179.4 254.3,168.9 254.4,158.1 254.4,166.9 254.5,178.3 254.5,176.7 254.5,172.5 254.6,178.9 254.6,165.0 254.7,177.5 254.7,173.9 254.8,178.0 254.8,184.7 254.8,169.7 254.9,164.0 254.9,168.7 255.0,177.3 255.0,177.3 255.1,183.5 255.1,158.5 255.1,171.2 255.2,178.3 255.2,174.6 255.3,181.9 255.3,176.1 255.4,169.7 255.4,177.2 255.5,183.6 255.5,177.1 255.5,167.9 255.6,184.9 255.6,176.9 255.7,170.1 255.7,173.2 255.8,179.2 255.8,175.0 255.8,175.8 255.9,169.0 255.9,172.1 256.0,175.8 256.0,182.2 256.1,182.9 256.1,177.7 256.2,162.7 256.2,185.7 256.2,167.4 256.3,177.2 256.3,179.9 256.4,180.5 256.4,177.2 256.5,181.4 256.5,173.1 256.5,172.9 256.6,179.3 256.6,171.1 256.7,170.9 256.7,174.1 256.8,169.0 256.8,171.0 256.8,179.5 256.9,172.6 256.9,183.0 257.0,177.4 257.0,176.6 257.1,172.9 257.1,173.5 257.2,165.3 257.2,163.6 257.2,166.4 257.3,174.7 257.3,184.2 257.4,165.2 257.4,180.8 257.5,166.5 257.5,186.6 257.5,176.8 257.6,189.3 257.6,174.9 257.7,185.3 257.7,177.3 257.8,172.1 257.8,171.0 257.9,174.4 257.9,183.7 257.9,165.9 258.0,178.8 258.0,171.1 258.1,188.3 258.1,181.2 258.2,181.0 258.2,173.3 258.2,193.7 258.3,178.1 258.3,178.0 258.4,171.0 258.4,182.9 258.5,180.5 258.5,175.0 258.5,176.0 258.6,179.4 258.6,174.2 258.7,177.5 258.7,174.5 258.8,172.0 258.8,182.7 258.9,180.7 258.9,184.2 258.9,180.9 259.0,191.6 259.0,166.2 259.1,187.9 259.1,174.6 259.2,179.1 259.2,185.3 259.2,174.9 259.3,171.6 259.3,189.5 259.4,165.0 259.4,186.7 259.5,168.9 259.5,176.5 259.6,162.4 259.6,167.0 259.6,183.8 259.7,176.4 259.7,174.5 259.8,186.9 259.8,178.9 259.9,177.7 259.9,181.1 259.9,192.2 260.0,174.6 260.0,190.7 260.1,168.7 260.1,177.7 260.2,175.6 260.2,170.0 260.2,172.9 260.3,168.2 260.3,176.6 260.4,172.9 260.4,180.9 260.5,172.3 260.5,179.0 260.6,165.0 260.6,169.8 260.6,181.8 260.7,170.2 260.7,180.0 260.8,170.2 260.8,182.8 260.9,177.8 260.9,177.6 260.9,175.7 261.0,182.8 261.0,178.5 261.1,159.7 261.1,195.9 261.2,178.1 261.2,185.3 261.3,167.2 261.3,179.1 261.3,180.6 261.4,181.2 261.4,185.5 261.5,179.4 261.5,185.3 261.6,174.7 261.6,171.2 261.6,173.5 261.7,178.4 261.7,185.0 261.8,176.0 261.8,173.5 261.9,179.0 261.9,170.1 261.9,170.2 262.0,171.9 262.0,172.3 262.1,177.1 262.1,182.8 262.2,181.6 262.2,188.6 262.3,173.3 262.3,177.5 262.3,177.1 262.4,166.9 262.4,178.4 262.5,167.7 262.5,185.7 262.6,188.7 262.6,174.2 262.6,177.6 262.7,180.0 262.7,182.1 262.8,175.1 262.8,169.1 262.9,179.1 262.9,182.2 263.0,176.2 263.0,171.1 263.0,182.1 263.1,186.5 263.1,172.8 263.2,169.5 263.2,176.2 263.3,173.6 263.3,187.2 263.3,176.6 263.4,180.5 263.4,168.1 263.5,174.6 263.5,185.4 263.6,177.7 263.6,178.8 263.6,182.5 263.7,170.1 263.7,186.0 263.8,171.0 263.8,186.3 263.9,174.5 263.9,172.9 264.0,191.8 264.0,176.2 264.0,177.9 264.1,184.4 264.1,183.7 264.2,168.7 264.2,168.0 264.3,177.4 264.3,186.1 264.3,180.4 264.4,169.7 264.4,174.8 264.5,193.8 264.5,180.8 264.6,169.8 264.6,181.4 264.7,179.7 264.7,171.7 264.7,185.4 264.8,189.4 264.8,178.7 264.9,182.9 264.9,186.7 265.0,184.0 265.0,182.2" fill="none" stroke="#000" stroke-width="0.45" stroke-linejoin="bevel"/>
<rect x="43.5" y="129.2" width="75.5" height="77" fill="#fff"/>
<g clip-path="url(#cll)">
<line x1="53.9" y1="134.7" x2="53.9" y2="138.7" stroke="#f8b468" stroke-width="0.55"/><line x1="53.9" y1="138.7" x2="48.0" y2="145.8" stroke="#f48080" stroke-width="0.55"/><line x1="46.4" y1="130.8" x2="54.7" y2="129.5" stroke="#f8b468" stroke-width="0.55"/><line x1="61.8" y1="129.5" x2="54.7" y2="129.5" stroke="#f8b468" stroke-width="0.55"/><line x1="77.2" y1="135.8" x2="81.6" y2="138.7" stroke="#f8b468" stroke-width="0.55"/><line x1="77.2" y1="130.0" x2="81.6" y2="138.7" stroke="#f48080" stroke-width="0.55"/><line x1="81.6" y1="138.7" x2="86.3" y2="139.5" stroke="#f48080" stroke-width="0.55"/><line x1="48.0" y1="145.8" x2="49.1" y2="149.8" stroke="#f8b468" stroke-width="0.55"/><line x1="49.1" y1="149.8" x2="46.0" y2="156.2" stroke="#f48080" stroke-width="0.55"/><line x1="57.9" y1="149.0" x2="63.9" y2="150.6" stroke="#f8b468" stroke-width="0.55"/><line x1="63.9" y1="150.6" x2="65.8" y2="154.9" stroke="#f48080" stroke-width="0.55"/><line x1="74.5" y1="145.4" x2="75.0" y2="149.0" stroke="#f48080" stroke-width="0.55"/><line x1="75.0" y1="149.0" x2="73.7" y2="156.2" stroke="#f8b468" stroke-width="0.55"/><line x1="65.8" y1="154.9" x2="73.7" y2="156.2" stroke="#f8b468" stroke-width="0.55"/><line x1="55.5" y1="157.0" x2="46.0" y2="156.2" stroke="#f48080" stroke-width="0.55"/><line x1="54.7" y1="158.5" x2="50.0" y2="164.9" stroke="#f8b468" stroke-width="0.55"/><line x1="46.0" y1="156.2" x2="50.0" y2="164.9" stroke="#f8b468" stroke-width="0.55"/><line x1="73.7" y1="156.2" x2="73.4" y2="159.7" stroke="#f48080" stroke-width="0.55"/><line x1="73.4" y1="159.7" x2="73.7" y2="165.3" stroke="#f8b468" stroke-width="0.55"/><line x1="65.0" y1="163.8" x2="66.1" y2="168.8" stroke="#f48080" stroke-width="0.55"/><line x1="50.0" y1="164.9" x2="56.0" y2="170.0" stroke="#f48080" stroke-width="0.55"/><line x1="77.7" y1="164.0" x2="73.7" y2="165.3" stroke="#f8b468" stroke-width="0.55"/><line x1="90.8" y1="131.1" x2="86.3" y2="139.5" stroke="#f48080" stroke-width="0.55"/><line x1="105.4" y1="131.6" x2="99.0" y2="137.9" stroke="#f48080" stroke-width="0.55"/><line x1="108.3" y1="130.8" x2="115.7" y2="131.1" stroke="#f8b468" stroke-width="0.55"/><line x1="86.3" y1="139.5" x2="84.8" y2="148.2" stroke="#f8b468" stroke-width="0.55"/><line x1="99.0" y1="137.9" x2="96.2" y2="140.6" stroke="#f8b468" stroke-width="0.55"/><line x1="96.2" y1="140.6" x2="94.0" y2="148.2" stroke="#f48080" stroke-width="0.55"/><line x1="110.2" y1="141.1" x2="114.6" y2="142.7" stroke="#f8b468" stroke-width="0.55"/><line x1="114.6" y1="142.7" x2="114.9" y2="151.4" stroke="#f48080" stroke-width="0.55"/><line x1="84.8" y1="148.2" x2="94.0" y2="148.2" stroke="#f48080" stroke-width="0.55"/><line x1="84.8" y1="151.1" x2="84.8" y2="159.0" stroke="#f8b468" stroke-width="0.55"/><line x1="94.0" y1="148.2" x2="95.6" y2="152.2" stroke="#f8b468" stroke-width="0.55"/><line x1="114.9" y1="151.4" x2="114.1" y2="160.1" stroke="#f8b468" stroke-width="0.55"/><line x1="84.8" y1="159.0" x2="93.0" y2="164.1" stroke="#f48080" stroke-width="0.55"/><line x1="84.0" y1="160.1" x2="93.0" y2="164.1" stroke="#f8b468" stroke-width="0.55"/><line x1="94.3" y1="162.2" x2="103.8" y2="159.7" stroke="#f48080" stroke-width="0.55"/><line x1="93.0" y1="164.1" x2="95.6" y2="172.7" stroke="#f8b468" stroke-width="0.55"/><line x1="49.9" y1="166.4" x2="56.0" y2="170.0" stroke="#f48080" stroke-width="0.55"/><line x1="73.7" y1="165.3" x2="78.2" y2="169.6" stroke="#f48080" stroke-width="0.55"/><line x1="56.0" y1="170.0" x2="55.0" y2="175.4" stroke="#f8b468" stroke-width="0.55"/><line x1="66.1" y1="168.8" x2="66.1" y2="174.8" stroke="#f8b468" stroke-width="0.55"/><line x1="78.2" y1="169.6" x2="82.9" y2="170.0" stroke="#f8b468" stroke-width="0.55"/><line x1="47.6" y1="176.7" x2="55.0" y2="175.4" stroke="#f8b468" stroke-width="0.55"/><line x1="55.0" y1="175.4" x2="59.8" y2="179.9" stroke="#f48080" stroke-width="0.55"/><line x1="66.1" y1="174.8" x2="70.9" y2="177.0" stroke="#f48080" stroke-width="0.55"/><line x1="70.9" y1="177.0" x2="74.5" y2="180.2" stroke="#f8b468" stroke-width="0.55"/><line x1="59.8" y1="179.9" x2="63.4" y2="184.3" stroke="#f8b468" stroke-width="0.55"/><line x1="74.5" y1="180.2" x2="80.9" y2="179.1" stroke="#f48080" stroke-width="0.55"/><line x1="80.9" y1="179.1" x2="88.7" y2="181.5" stroke="#f8b468" stroke-width="0.55"/><line x1="53.4" y1="186.2" x2="52.4" y2="190.1" stroke="#f48080" stroke-width="0.55"/><line x1="63.4" y1="184.3" x2="66.6" y2="188.6" stroke="#f48080" stroke-width="0.55"/><line x1="52.3" y1="189.4" x2="50.6" y2="196.6" stroke="#f8b468" stroke-width="0.55"/><line x1="66.6" y1="188.6" x2="64.3" y2="196.0" stroke="#f8b468" stroke-width="0.55"/><line x1="76.1" y1="190.2" x2="80.9" y2="188.6" stroke="#f8b468" stroke-width="0.55"/><line x1="80.9" y1="188.6" x2="75.9" y2="190.7" stroke="#f48080" stroke-width="0.55"/><line x1="82.9" y1="170.0" x2="91.9" y2="174.3" stroke="#f48080" stroke-width="0.55"/><line x1="91.9" y1="174.3" x2="95.6" y2="172.7" stroke="#f8b468" stroke-width="0.55"/><line x1="95.6" y1="172.7" x2="100.3" y2="178.3" stroke="#f48080" stroke-width="0.55"/><line x1="106.2" y1="170.0" x2="109.4" y2="172.7" stroke="#f48080" stroke-width="0.55"/><line x1="109.4" y1="172.7" x2="107.8" y2="179.1" stroke="#f8b468" stroke-width="0.55"/><line x1="88.7" y1="181.5" x2="91.1" y2="184.6" stroke="#f48080" stroke-width="0.55"/><line x1="91.1" y1="184.6" x2="99.0" y2="183.8" stroke="#f8b468" stroke-width="0.55"/><line x1="100.3" y1="178.3" x2="99.0" y2="183.8" stroke="#f8b468" stroke-width="0.55"/><line x1="99.0" y1="183.8" x2="100.6" y2="191.0" stroke="#f48080" stroke-width="0.55"/><line x1="107.8" y1="179.1" x2="109.8" y2="183.8" stroke="#f48080" stroke-width="0.55"/><line x1="109.8" y1="183.8" x2="106.7" y2="191.8" stroke="#f8b468" stroke-width="0.55"/><line x1="117.8" y1="180.7" x2="116.2" y2="190.2" stroke="#f48080" stroke-width="0.55"/><line x1="100.6" y1="191.0" x2="95.1" y2="193.4" stroke="#f8b468" stroke-width="0.55"/><line x1="106.7" y1="191.8" x2="106.2" y2="198.9" stroke="#f48080" stroke-width="0.55"/><line x1="95.1" y1="193.4" x2="90.3" y2="196.5" stroke="#f48080" stroke-width="0.55"/><line x1="86.3" y1="198.1" x2="90.3" y2="196.5" stroke="#f48080" stroke-width="0.55"/><line x1="90.3" y1="196.5" x2="81.6" y2="200.5" stroke="#f8b468" stroke-width="0.55"/><line x1="81.6" y1="200.5" x2="74.1" y2="196.9" stroke="#f8b468" stroke-width="0.55"/><line x1="106.2" y1="198.9" x2="109.4" y2="201.3" stroke="#f8b468" stroke-width="0.55"/><line x1="109.4" y1="201.3" x2="106.0" y2="199.0" stroke="#f48080" stroke-width="0.55"/><line x1="52.4" y1="190.1" x2="50.6" y2="196.6" stroke="#f8b468" stroke-width="0.55"/><line x1="50.6" y1="196.6" x2="58.1" y2="197.8" stroke="#f48080" stroke-width="0.55"/><line x1="58.1" y1="197.8" x2="64.3" y2="196.0" stroke="#f8b468" stroke-width="0.55"/><line x1="64.3" y1="196.0" x2="69.7" y2="198.7" stroke="#f48080" stroke-width="0.55"/><line x1="66.6" y1="189.4" x2="75.9" y2="190.7" stroke="#f8b468" stroke-width="0.55"/><line x1="69.7" y1="198.7" x2="74.1" y2="196.9" stroke="#f8b468" stroke-width="0.55"/><line x1="74.1" y1="196.9" x2="75.9" y2="190.7" stroke="#f48080" stroke-width="0.55"/><line x1="75.9" y1="190.7" x2="81.6" y2="188.9" stroke="#f8b468" stroke-width="0.55"/><line x1="53.9" y1="134.7" x2="54.7" y2="129.5" stroke="#f8b468" stroke-width="0.55"/><line x1="77.2" y1="135.8" x2="77.2" y2="130.0" stroke="#f8b468" stroke-width="0.55"/><line x1="49.1" y1="149.8" x2="57.9" y2="149.0" stroke="#f48080" stroke-width="0.55"/><line x1="57.9" y1="149.0" x2="55.5" y2="157.0" stroke="#f8b468" stroke-width="0.55"/><line x1="65.8" y1="154.9" x2="65.0" y2="163.8" stroke="#f8b468" stroke-width="0.55"/><line x1="54.7" y1="158.5" x2="46.0" y2="156.2" stroke="#f8b468" stroke-width="0.55"/><line x1="73.7" y1="156.2" x2="77.7" y2="164.0" stroke="#f48080" stroke-width="0.55"/><line x1="73.4" y1="159.7" x2="77.7" y2="164.0" stroke="#f8b468" stroke-width="0.55"/><line x1="65.0" y1="163.8" x2="73.7" y2="165.3" stroke="#f48080" stroke-width="0.55"/><line x1="77.7" y1="164.0" x2="78.2" y2="169.6" stroke="#f8b468" stroke-width="0.55"/><line x1="110.2" y1="141.1" x2="104.6" y2="146.6" stroke="#f8b468" stroke-width="0.55"/><line x1="73.7" y1="165.3" x2="66.1" y2="168.8" stroke="#f48080" stroke-width="0.55"/><line x1="66.1" y1="174.8" x2="59.8" y2="179.9" stroke="#f48080" stroke-width="0.55"/><line x1="59.8" y1="179.9" x2="53.4" y2="186.2" stroke="#f8b468" stroke-width="0.55"/><line x1="63.4" y1="184.3" x2="66.6" y2="189.4" stroke="#f48080" stroke-width="0.55"/><line x1="76.1" y1="190.2" x2="81.6" y2="188.9" stroke="#f8b468" stroke-width="0.55"/><line x1="91.9" y1="174.3" x2="88.7" y2="181.5" stroke="#f8b468" stroke-width="0.55"/><line x1="100.3" y1="178.3" x2="107.8" y2="179.1" stroke="#f8b468" stroke-width="0.55"/><line x1="109.8" y1="183.8" x2="117.8" y2="180.7" stroke="#f8b468" stroke-width="0.55"/><line x1="100.6" y1="191.0" x2="106.7" y2="191.8" stroke="#f8b468" stroke-width="0.55"/><line x1="106.7" y1="191.8" x2="106.0" y2="199.0" stroke="#f48080" stroke-width="0.55"/><line x1="86.3" y1="198.1" x2="81.6" y2="200.5" stroke="#f48080" stroke-width="0.55"/><line x1="64.3" y1="196.0" x2="66.6" y2="189.4" stroke="#f48080" stroke-width="0.55"/><line x1="74.1" y1="196.9" x2="80.9" y2="200.9" stroke="#f48080" stroke-width="0.55"/>
<circle cx="53.9" cy="134.7" r="2.0" fill="url(#y)"/><circle cx="53.9" cy="138.7" r="2.0" fill="url(#r)"/><circle cx="46.4" cy="130.8" r="1.2" fill="url(#y)"/><circle cx="61.8" cy="129.5" r="1.2" fill="url(#y)"/><circle cx="54.7" cy="129.5" r="1.4" fill="url(#r)"/><circle cx="65.0" cy="138.7" r="2.0" fill="url(#r)"/><circle cx="67.4" cy="137.9" r="2.0" fill="url(#y)"/><circle cx="77.2" cy="135.8" r="2.0" fill="url(#y)"/><circle cx="77.2" cy="130.0" r="2.0" fill="url(#r)"/><circle cx="81.6" cy="138.7" r="2.0" fill="url(#r)"/><circle cx="48.0" cy="145.8" r="2.0" fill="url(#y)"/><circle cx="49.1" cy="149.8" r="2.0" fill="url(#r)"/><circle cx="57.9" cy="149.0" r="2.0" fill="url(#y)"/><circle cx="63.9" cy="150.6" r="2.0" fill="url(#r)"/><circle cx="74.5" cy="145.4" r="2.0" fill="url(#r)"/><circle cx="75.0" cy="149.0" r="2.0" fill="url(#y)"/><circle cx="65.8" cy="154.9" r="2.0" fill="url(#y)"/><circle cx="55.5" cy="157.0" r="2.0" fill="url(#r)"/><circle cx="54.7" cy="158.5" r="2.0" fill="url(#y)"/><circle cx="46.0" cy="156.2" r="1.2" fill="url(#y)"/><circle cx="73.7" cy="156.2" r="2.0" fill="url(#r)"/><circle cx="73.4" cy="159.7" r="2.0" fill="url(#y)"/><circle cx="65.0" cy="163.8" r="2.0" fill="url(#r)"/><circle cx="50.0" cy="164.9" r="2.0" fill="url(#r)"/><circle cx="77.7" cy="164.0" r="2.0" fill="url(#y)"/><circle cx="90.8" cy="131.1" r="2.0" fill="url(#r)"/><circle cx="105.4" cy="131.6" r="2.0" fill="url(#r)"/><circle cx="108.3" cy="130.8" r="2.0" fill="url(#y)"/><circle cx="115.7" cy="131.1" r="2.0" fill="url(#r)"/><circle cx="86.3" cy="139.5" r="2.0" fill="url(#y)"/><circle cx="99.0" cy="137.9" r="2.0" fill="url(#y)"/><circle cx="96.2" cy="140.6" r="2.0" fill="url(#r)"/><circle cx="110.2" cy="141.1" r="2.0" fill="url(#y)"/><circle cx="114.6" cy="142.7" r="2.0" fill="url(#r)"/><circle cx="84.8" cy="148.2" r="2.0" fill="url(#r)"/><circle cx="84.8" cy="151.1" r="2.0" fill="url(#y)"/><circle cx="94.0" cy="148.2" r="2.0" fill="url(#y)"/><circle cx="95.6" cy="152.2" r="2.0" fill="url(#r)"/><circle cx="104.6" cy="146.6" r="2.0" fill="url(#r)"/><circle cx="105.0" cy="148.5" r="2.0" fill="url(#y)"/><circle cx="114.9" cy="151.4" r="2.0" fill="url(#y)"/><circle cx="84.8" cy="159.0" r="2.0" fill="url(#r)"/><circle cx="84.0" cy="160.1" r="2.0" fill="url(#y)"/><circle cx="94.3" cy="162.2" r="2.0" fill="url(#r)"/><circle cx="93.0" cy="164.1" r="2.0" fill="url(#y)"/><circle cx="103.8" cy="159.7" r="2.0" fill="url(#y)"/><circle cx="114.1" cy="160.1" r="2.0" fill="url(#r)"/><circle cx="116.2" cy="162.2" r="2.0" fill="url(#y)"/><circle cx="49.9" cy="166.4" r="2.0" fill="url(#r)"/><circle cx="73.7" cy="165.3" r="2.0" fill="url(#r)"/><circle cx="56.0" cy="170.0" r="2.0" fill="url(#y)"/><circle cx="66.1" cy="168.8" r="2.0" fill="url(#y)"/><circle cx="78.2" cy="169.6" r="2.0" fill="url(#y)"/><circle cx="47.6" cy="176.7" r="2.0" fill="url(#y)"/><circle cx="55.0" cy="175.4" r="2.0" fill="url(#r)"/><circle cx="66.1" cy="174.8" r="2.0" fill="url(#r)"/><circle cx="70.9" cy="177.0" r="2.0" fill="url(#y)"/><circle cx="59.8" cy="179.9" r="2.0" fill="url(#y)"/><circle cx="74.5" cy="180.2" r="2.0" fill="url(#r)"/><circle cx="80.9" cy="179.1" r="2.0" fill="url(#y)"/><circle cx="53.4" cy="186.2" r="2.0" fill="url(#r)"/><circle cx="63.4" cy="184.3" r="2.0" fill="url(#r)"/><circle cx="52.3" cy="189.4" r="2.0" fill="url(#y)"/><circle cx="66.6" cy="188.6" r="2.0" fill="url(#y)"/><circle cx="76.1" cy="190.2" r="2.0" fill="url(#y)"/><circle cx="80.9" cy="188.6" r="2.0" fill="url(#r)"/><circle cx="82.9" cy="170.0" r="2.0" fill="url(#r)"/><circle cx="91.9" cy="174.3" r="2.0" fill="url(#y)"/><circle cx="95.6" cy="172.7" r="2.0" fill="url(#r)"/><circle cx="106.2" cy="170.0" r="2.0" fill="url(#r)"/><circle cx="109.4" cy="172.7" r="2.0" fill="url(#y)"/><circle cx="88.7" cy="181.5" r="2.0" fill="url(#r)"/><circle cx="91.1" cy="184.6" r="2.0" fill="url(#y)"/><circle cx="100.3" cy="178.3" r="2.0" fill="url(#y)"/><circle cx="99.0" cy="183.8" r="2.0" fill="url(#r)"/><circle cx="107.8" cy="179.1" r="2.0" fill="url(#r)"/><circle cx="109.8" cy="183.8" r="2.0" fill="url(#y)"/><circle cx="117.8" cy="180.7" r="2.0" fill="url(#r)"/><circle cx="100.6" cy="191.0" r="2.0" fill="url(#y)"/><circle cx="106.7" cy="191.8" r="2.0" fill="url(#r)"/><circle cx="116.2" cy="190.2" r="2.0" fill="url(#y)"/><circle cx="95.1" cy="193.4" r="2.0" fill="url(#r)"/><circle cx="86.3" cy="198.1" r="2.0" fill="url(#r)"/><circle cx="90.3" cy="196.5" r="2.0" fill="url(#y)"/><circle cx="81.6" cy="200.5" r="2.0" fill="url(#y)"/><circle cx="106.2" cy="198.9" r="2.0" fill="url(#y)"/><circle cx="109.4" cy="201.3" r="2.0" fill="url(#r)"/><circle cx="52.4" cy="190.1" r="2.0" fill="url(#y)"/><circle cx="50.6" cy="196.6" r="2.0" fill="url(#r)"/><circle cx="58.1" cy="197.8" r="2.0" fill="url(#y)"/><circle cx="64.3" cy="196.0" r="2.0" fill="url(#r)"/><circle cx="66.6" cy="189.4" r="2.0" fill="url(#y)"/><circle cx="69.7" cy="198.7" r="2.0" fill="url(#y)"/><circle cx="74.1" cy="196.9" r="2.0" fill="url(#r)"/><circle cx="75.9" cy="190.7" r="2.0" fill="url(#y)"/><circle cx="81.6" cy="188.9" r="2.0" fill="url(#r)"/><circle cx="80.9" cy="200.9" r="2.0" fill="url(#y)"/><circle cx="116.1" cy="190.7" r="2.0" fill="url(#r)"/><circle cx="106.0" cy="199.0" r="2.0" fill="url(#y)"/>
</g>
<rect x="184" y="30" width="76" height="76" fill="#fff"/>
<g clip-path="url(#ctr)">
<line x1="195.1" y1="37.0" x2="204.8" y2="38.6" stroke="#f28a8a" stroke-width="0.65"/><line x1="205.8" y1="41.4" x2="195.6" y2="44.3" stroke="#f8b86a" stroke-width="0.65"/><line x1="195.1" y1="47.3" x2="205.5" y2="48.1" stroke="#f28a8a" stroke-width="0.65"/><line x1="205.3" y1="50.9" x2="194.7" y2="54.5" stroke="#f8b86a" stroke-width="0.65"/><line x1="195.8" y1="57.5" x2="205.9" y2="59.2" stroke="#f28a8a" stroke-width="0.65"/><line x1="205.0" y1="62.0" x2="195.6" y2="64.0" stroke="#f8b86a" stroke-width="0.65"/><line x1="195.1" y1="67.0" x2="204.8" y2="69.4" stroke="#f28a8a" stroke-width="0.65"/><line x1="205.8" y1="72.2" x2="195.6" y2="74.2" stroke="#f8b86a" stroke-width="0.65"/><line x1="195.1" y1="77.2" x2="205.5" y2="80.0" stroke="#f28a8a" stroke-width="0.65"/><line x1="205.3" y1="82.8" x2="194.7" y2="85.2" stroke="#f8b86a" stroke-width="0.65"/><line x1="195.8" y1="88.2" x2="205.9" y2="90.1" stroke="#f28a8a" stroke-width="0.65"/><line x1="205.0" y1="92.9" x2="195.6" y2="95.4" stroke="#f8b86a" stroke-width="0.65"/><line x1="195.0" y1="98.4" x2="204.8" y2="100.1" stroke="#f28a8a" stroke-width="0.65"/><line x1="205.9" y1="102.9" x2="195.6" y2="104.9" stroke="#f8b86a" stroke-width="0.65"/><line x1="215.7" y1="36.3" x2="225.6" y2="38.8" stroke="#f8b86a" stroke-width="0.65"/><line x1="226.0" y1="42.0" x2="215.4" y2="43.9" stroke="#f28a8a" stroke-width="0.65"/><line x1="216.5" y1="46.6" x2="226.4" y2="48.6" stroke="#f8b86a" stroke-width="0.65"/><line x1="225.3" y1="51.8" x2="216.2" y2="53.7" stroke="#f28a8a" stroke-width="0.65"/><line x1="215.9" y1="56.4" x2="225.4" y2="59.0" stroke="#f8b86a" stroke-width="0.65"/><line x1="226.1" y1="62.2" x2="216.4" y2="63.7" stroke="#f28a8a" stroke-width="0.65"/><line x1="215.7" y1="66.4" x2="225.6" y2="70.0" stroke="#f8b86a" stroke-width="0.65"/><line x1="226.0" y1="73.2" x2="215.4" y2="74.7" stroke="#f28a8a" stroke-width="0.65"/><line x1="216.5" y1="77.4" x2="226.4" y2="81.1" stroke="#f8b86a" stroke-width="0.65"/><line x1="225.3" y1="84.3" x2="216.2" y2="85.0" stroke="#f28a8a" stroke-width="0.65"/><line x1="215.9" y1="87.7" x2="225.4" y2="90.6" stroke="#f8b86a" stroke-width="0.65"/><line x1="226.1" y1="93.8" x2="216.4" y2="95.4" stroke="#f28a8a" stroke-width="0.65"/><line x1="215.7" y1="98.1" x2="225.6" y2="100.6" stroke="#f8b86a" stroke-width="0.65"/><line x1="226.0" y1="103.8" x2="215.4" y2="104.6" stroke="#f28a8a" stroke-width="0.65"/><line x1="237.5" y1="36.4" x2="247.8" y2="38.3" stroke="#f28a8a" stroke-width="0.65"/><line x1="246.9" y1="41.3" x2="237.2" y2="43.9" stroke="#f8b86a" stroke-width="0.65"/><line x1="236.8" y1="46.7" x2="246.7" y2="48.6" stroke="#f28a8a" stroke-width="0.65"/><line x1="247.7" y1="51.6" x2="237.4" y2="54.2" stroke="#f8b86a" stroke-width="0.65"/><line x1="236.7" y1="57.0" x2="247.4" y2="59.0" stroke="#f28a8a" stroke-width="0.65"/><line x1="247.2" y1="62.0" x2="236.4" y2="64.8" stroke="#f8b86a" stroke-width="0.65"/><line x1="237.5" y1="67.6" x2="247.8" y2="70.0" stroke="#f28a8a" stroke-width="0.65"/><line x1="246.9" y1="73.0" x2="237.2" y2="75.2" stroke="#f8b86a" stroke-width="0.65"/><line x1="236.8" y1="78.0" x2="246.7" y2="80.0" stroke="#f28a8a" stroke-width="0.65"/><line x1="247.8" y1="83.0" x2="237.4" y2="85.8" stroke="#f8b86a" stroke-width="0.65"/><line x1="236.7" y1="88.6" x2="247.4" y2="90.6" stroke="#f28a8a" stroke-width="0.65"/><line x1="247.2" y1="93.6" x2="236.4" y2="95.8" stroke="#f8b86a" stroke-width="0.65"/><line x1="237.5" y1="98.6" x2="247.8" y2="100.9" stroke="#f28a8a" stroke-width="0.65"/><line x1="246.9" y1="103.9" x2="237.2" y2="104.6" stroke="#f8b86a" stroke-width="0.65"/><line x1="205.8" y1="41.4" x2="215.4" y2="43.9" stroke="#f8b86a" stroke-width="0.65"/><line x1="205.0" y1="62.0" x2="216.4" y2="63.7" stroke="#f8b86a" stroke-width="0.65"/><line x1="205.3" y1="82.8" x2="216.2" y2="85.0" stroke="#f8b86a" stroke-width="0.65"/><line x1="205.9" y1="102.9" x2="215.4" y2="104.6" stroke="#f8b86a" stroke-width="0.65"/><line x1="226.0" y1="42.0" x2="237.2" y2="43.9" stroke="#f28a8a" stroke-width="0.65"/><line x1="226.1" y1="62.2" x2="236.4" y2="64.8" stroke="#f28a8a" stroke-width="0.65"/><line x1="225.3" y1="84.3" x2="237.4" y2="85.8" stroke="#f28a8a" stroke-width="0.65"/><line x1="226.0" y1="103.8" x2="237.2" y2="104.6" stroke="#f28a8a" stroke-width="0.65"/><line x1="195.6" y1="44.3" x2="186.0" y2="45.8" stroke="#f8b86a" stroke-width="0.65"/><line x1="195.6" y1="64.0" x2="186.0" y2="65.5" stroke="#f8b86a" stroke-width="0.65"/><line x1="194.7" y1="85.2" x2="186.0" y2="86.7" stroke="#f8b86a" stroke-width="0.65"/><line x1="195.6" y1="104.9" x2="186.0" y2="106.4" stroke="#f8b86a" stroke-width="0.65"/><line x1="246.9" y1="41.3" x2="256.0" y2="40.3" stroke="#f8b86a" stroke-width="0.65"/><line x1="247.2" y1="62.0" x2="256.0" y2="61.0" stroke="#f8b86a" stroke-width="0.65"/><line x1="247.8" y1="83.0" x2="256.0" y2="82.0" stroke="#f8b86a" stroke-width="0.65"/><line x1="246.9" y1="103.9" x2="256.0" y2="102.9" stroke="#f8b86a" stroke-width="0.65"/>
<circle cx="195.1" cy="37.0" r="1.9" fill="url(#r)"/><circle cx="195.6" cy="34.0" r="1.9" fill="url(#y)"/><circle cx="195.1" cy="47.3" r="1.9" fill="url(#r)"/><circle cx="195.6" cy="44.3" r="1.9" fill="url(#y)"/><circle cx="195.8" cy="57.5" r="1.9" fill="url(#r)"/><circle cx="194.7" cy="54.5" r="1.9" fill="url(#y)"/><circle cx="195.1" cy="67.0" r="1.9" fill="url(#r)"/><circle cx="195.6" cy="64.0" r="1.9" fill="url(#y)"/><circle cx="195.1" cy="77.2" r="1.9" fill="url(#r)"/><circle cx="195.6" cy="74.2" r="1.9" fill="url(#y)"/><circle cx="195.8" cy="88.2" r="1.9" fill="url(#r)"/><circle cx="194.7" cy="85.2" r="1.9" fill="url(#y)"/><circle cx="195.0" cy="98.4" r="1.9" fill="url(#r)"/><circle cx="195.6" cy="95.4" r="1.9" fill="url(#y)"/><circle cx="195.6" cy="104.9" r="1.9" fill="url(#y)"/><circle cx="205.8" cy="41.4" r="1.9" fill="url(#y)"/><circle cx="204.8" cy="38.6" r="1.9" fill="url(#r)"/><circle cx="205.3" cy="50.9" r="1.9" fill="url(#y)"/><circle cx="205.5" cy="48.1" r="1.9" fill="url(#r)"/><circle cx="205.0" cy="62.0" r="1.9" fill="url(#y)"/><circle cx="205.9" cy="59.2" r="1.9" fill="url(#r)"/><circle cx="205.8" cy="72.2" r="1.9" fill="url(#y)"/><circle cx="204.8" cy="69.4" r="1.9" fill="url(#r)"/><circle cx="205.3" cy="82.8" r="1.9" fill="url(#y)"/><circle cx="205.5" cy="80.0" r="1.9" fill="url(#r)"/><circle cx="205.0" cy="92.9" r="1.9" fill="url(#y)"/><circle cx="205.9" cy="90.1" r="1.9" fill="url(#r)"/><circle cx="205.9" cy="102.9" r="1.9" fill="url(#y)"/><circle cx="204.8" cy="100.1" r="1.9" fill="url(#r)"/><circle cx="215.7" cy="36.3" r="1.9" fill="url(#y)"/><circle cx="216.4" cy="33.6" r="1.9" fill="url(#r)"/><circle cx="216.5" cy="46.6" r="1.9" fill="url(#y)"/><circle cx="215.4" cy="43.9" r="1.9" fill="url(#r)"/><circle cx="215.9" cy="56.4" r="1.9" fill="url(#y)"/><circle cx="216.2" cy="53.7" r="1.9" fill="url(#r)"/><circle cx="215.7" cy="66.4" r="1.9" fill="url(#y)"/><circle cx="216.4" cy="63.7" r="1.9" fill="url(#r)"/><circle cx="216.5" cy="77.4" r="1.9" fill="url(#y)"/><circle cx="215.4" cy="74.7" r="1.9" fill="url(#r)"/><circle cx="215.9" cy="87.7" r="1.9" fill="url(#y)"/><circle cx="216.2" cy="85.0" r="1.9" fill="url(#r)"/><circle cx="215.7" cy="98.1" r="1.9" fill="url(#y)"/><circle cx="216.4" cy="95.4" r="1.9" fill="url(#r)"/><circle cx="215.4" cy="104.6" r="1.9" fill="url(#r)"/><circle cx="226.0" cy="42.0" r="1.9" fill="url(#r)"/><circle cx="225.6" cy="38.8" r="1.9" fill="url(#y)"/><circle cx="225.3" cy="51.8" r="1.9" fill="url(#r)"/><circle cx="226.4" cy="48.6" r="1.9" fill="url(#y)"/><circle cx="226.1" cy="62.2" r="1.9" fill="url(#r)"/><circle cx="225.4" cy="59.0" r="1.9" fill="url(#y)"/><circle cx="226.0" cy="73.2" r="1.9" fill="url(#r)"/><circle cx="225.6" cy="70.0" r="1.9" fill="url(#y)"/><circle cx="225.3" cy="84.3" r="1.9" fill="url(#r)"/><circle cx="226.4" cy="81.1" r="1.9" fill="url(#y)"/><circle cx="226.1" cy="93.8" r="1.9" fill="url(#r)"/><circle cx="225.4" cy="90.6" r="1.9" fill="url(#y)"/><circle cx="226.0" cy="103.8" r="1.9" fill="url(#r)"/><circle cx="225.6" cy="100.6" r="1.9" fill="url(#y)"/><circle cx="237.5" cy="36.4" r="1.9" fill="url(#r)"/><circle cx="236.4" cy="33.6" r="1.9" fill="url(#y)"/><circle cx="236.8" cy="46.7" r="1.9" fill="url(#r)"/><circle cx="237.2" cy="43.9" r="1.9" fill="url(#y)"/><circle cx="236.7" cy="57.0" r="1.9" fill="url(#r)"/><circle cx="237.4" cy="54.2" r="1.9" fill="url(#y)"/><circle cx="237.5" cy="67.6" r="1.9" fill="url(#r)"/><circle cx="236.4" cy="64.8" r="1.9" fill="url(#y)"/><circle cx="236.8" cy="78.0" r="1.9" fill="url(#r)"/><circle cx="237.2" cy="75.2" r="1.9" fill="url(#y)"/><circle cx="236.7" cy="88.6" r="1.9" fill="url(#r)"/><circle cx="237.4" cy="85.8" r="1.9" fill="url(#y)"/><circle cx="237.5" cy="98.6" r="1.9" fill="url(#r)"/><circle cx="236.4" cy="95.8" r="1.9" fill="url(#y)"/><circle cx="237.2" cy="104.6" r="1.9" fill="url(#y)"/><circle cx="246.9" cy="41.3" r="1.9" fill="url(#y)"/><circle cx="247.8" cy="38.3" r="1.9" fill="url(#r)"/><circle cx="247.7" cy="51.6" r="1.9" fill="url(#y)"/><circle cx="246.7" cy="48.6" r="1.9" fill="url(#r)"/><circle cx="247.2" cy="62.0" r="1.9" fill="url(#y)"/><circle cx="247.4" cy="59.0" r="1.9" fill="url(#r)"/><circle cx="246.9" cy="73.0" r="1.9" fill="url(#y)"/><circle cx="247.8" cy="70.0" r="1.9" fill="url(#r)"/><circle cx="247.8" cy="83.0" r="1.9" fill="url(#y)"/><circle cx="246.7" cy="80.0" r="1.9" fill="url(#r)"/><circle cx="247.2" cy="93.6" r="1.9" fill="url(#y)"/><circle cx="247.4" cy="90.6" r="1.9" fill="url(#r)"/><circle cx="246.9" cy="103.9" r="1.9" fill="url(#y)"/><circle cx="247.8" cy="100.9" r="1.9" fill="url(#r)"/><circle cx="185.4" cy="38.3" r="1.3" fill="url(#y)"/><circle cx="185.4" cy="52.6" r="1.3" fill="url(#r)"/><circle cx="185.4" cy="59.0" r="1.3" fill="url(#y)"/><circle cx="185.4" cy="62.6" r="1.3" fill="url(#r)"/><circle cx="185.4" cy="73.1" r="1.3" fill="url(#r)"/><circle cx="185.4" cy="77.1" r="1.3" fill="url(#y)"/><circle cx="185.4" cy="93.8" r="1.3" fill="url(#r)"/><circle cx="185.4" cy="100.1" r="1.3" fill="url(#y)"/><circle cx="256.3" cy="36.3" r="1.8" fill="url(#y)"/><circle cx="256.1" cy="33.6" r="1.8" fill="url(#r)"/><circle cx="256.1" cy="46.7" r="1.8" fill="url(#y)"/><circle cx="256.1" cy="43.6" r="1.8" fill="url(#r)"/><circle cx="256.1" cy="57.4" r="1.8" fill="url(#y)"/><circle cx="256.3" cy="54.6" r="1.8" fill="url(#r)"/><circle cx="256.1" cy="66.5" r="1.8" fill="url(#y)"/><circle cx="256.1" cy="64.0" r="1.8" fill="url(#r)"/><circle cx="257.0" cy="98.5" r="1.8" fill="url(#y)"/>
</g>
<rect x="109.7" y="31.6" width="71.8" height="49.9" fill="#fff"/>
<rect x="115.7" y="81.0" width="65.8" height="11.0" fill="#fff"/>
<path d="M121.0,35.7 121.0,35.8 121.1,39.2 121.1,32.1 121.1,44.3 121.1,38.0 121.2,37.2 121.2,40.3 121.2,42.2 121.2,40.0 121.3,40.0 121.3,37.8 121.3,36.8 121.4,41.5 121.4,38.2 121.4,41.8 121.4,37.9 121.5,38.9 121.5,37.9 121.5,47.0 121.5,38.5 121.6,40.9 121.6,41.6 121.6,39.8 121.7,39.9 121.7,37.7 121.7,45.9 121.7,34.8 121.8,40.7 121.8,45.7 121.8,40.9 121.8,40.9 121.9,37.0 121.9,42.2 121.9,40.8 122.0,40.5 122.0,32.4 122.0,37.7 122.0,43.5 122.1,40.2 122.1,34.2 122.1,41.7 122.1,39.8 122.2,43.0 122.2,38.8 122.2,39.2 122.3,43.1 122.3,43.4 122.3,44.6 122.3,49.9 122.4,43.4 122.4,40.8 122.4,45.0 122.5,39.4 122.5,41.0 122.5,34.0 122.5,40.8 122.6,45.1 122.6,39.0 122.6,38.8 122.6,41.3 122.7,32.1 122.7,44.3 122.7,36.8 122.8,41.7 122.8,39.7 122.8,44.0 122.8,49.3 122.9,40.0 122.9,39.9 122.9,42.0 122.9,42.9 123.0,38.3 123.0,39.0 123.0,36.0 123.1,40.0 123.1,38.1 123.1,39.8 123.1,38.2 123.2,40.4 123.2,40.6 123.2,39.1 123.2,37.5 123.3,41.8 123.3,37.9 123.3,42.4 123.4,38.2 123.4,37.4 123.4,32.4 123.4,39.0 123.5,40.6 123.5,35.9 123.5,41.8 123.5,43.8 123.6,46.3 123.6,36.9 123.6,43.4 123.7,41.0 123.7,40.3 123.7,39.7 123.7,39.2 123.8,44.9 123.8,42.2 123.8,43.2 123.8,43.4 123.9,44.9 123.9,42.1 123.9,39.1 124.0,36.6 124.0,42.8 124.0,46.1 124.0,45.6 124.1,40.2 124.1,40.3 124.1,33.9 124.1,37.2 124.2,43.3 124.2,36.9 124.2,37.8 124.3,38.9 124.3,39.0 124.3,34.4 124.3,44.2 124.4,44.5 124.4,45.2 124.4,39.3 124.4,42.5 124.5,35.2 124.5,47.5 124.5,41.0 124.6,51.1 124.6,37.5 124.6,50.5 124.6,39.9 124.7,41.9 124.7,40.1 124.7,47.4 124.8,39.0 124.8,41.2 124.8,41.8 124.8,44.4 124.9,40.5 124.9,46.3 124.9,37.3 124.9,38.4 125.0,40.5 125.0,45.8 125.0,38.1 125.1,41.2 125.1,41.1 125.1,41.4 125.1,48.1 125.2,38.4 125.2,42.6 125.2,38.4 125.2,39.3 125.3,39.1 125.3,36.8 125.3,46.2 125.4,42.6 125.4,40.9 125.4,39.5 125.4,43.2 125.5,44.5 125.5,45.1 125.5,41.2 125.5,43.8 125.6,44.4 125.6,43.2 125.6,41.8 125.7,41.5 125.7,47.5 125.7,42.2 125.7,43.2 125.8,47.1 125.8,44.1 125.8,44.4 125.8,39.6 125.9,40.1 125.9,43.9 125.9,42.8 126.0,46.5 126.0,43.9 126.0,44.8 126.0,45.1 126.1,34.4 126.1,43.0 126.1,41.8 126.1,40.6 126.2,46.1 126.2,40.2 126.2,40.0 126.3,41.7 126.3,44.2 126.3,44.4 126.3,44.9 126.4,47.4 126.4,41.9 126.4,41.3 126.4,43.1 126.5,49.6 126.5,42.9 126.5,41.9 126.6,47.6 126.6,49.5 126.6,49.5 126.6,48.8 126.7,45.8 126.7,46.4 126.7,40.4 126.7,46.8 126.8,47.0 126.8,47.7 126.8,36.8 126.9,45.5 126.9,37.9 126.9,40.4 126.9,45.1 127.0,43.4 127.0,36.2 127.0,35.9 127.1,44.3 127.1,41.4 127.1,43.3 127.1,40.6 127.2,45.4 127.2,43.0 127.2,45.8 127.2,43.4 127.3,46.9 127.3,37.6 127.3,49.0 127.4,35.0 127.4,44.6 127.4,41.8 127.4,48.1 127.5,43.4 127.5,43.9 127.5,35.7 127.5,48.6 127.6,40.5 127.6,43.8 127.6,44.6 127.7,45.4 127.7,41.1 127.7,40.4 127.7,48.8 127.8,45.5 127.8,33.5 127.8,40.3 127.8,44.5 127.9,44.1 127.9,44.4 127.9,43.0 128.0,42.5 128.0,44.2 128.0,43.1 128.0,44.5 128.1,45.2 128.1,47.2 128.1,46.1 128.1,45.0 128.2,47.6 128.2,41.4 128.2,47.8 128.3,44.1 128.3,40.2 128.3,47.0 128.3,42.3 128.4,47.1 128.4,45.9 128.4,45.6 128.4,44.9 128.5,41.0 128.5,43.8 128.5,45.2 128.6,43.8 128.6,45.0 128.6,44.7 128.6,46.5 128.7,41.2 128.7,45.3 128.7,47.8 128.7,40.9 128.8,38.0 128.8,46.1 128.8,43.2 128.9,38.7 128.9,42.6 128.9,45.2 128.9,43.6 129.0,49.1 129.0,44.4 129.0,39.7 129.0,46.2 129.1,46.4 129.1,42.2 129.1,42.5 129.2,43.8 129.2,44.6 129.2,43.9 129.2,42.6 129.3,43.2 129.3,40.6 129.3,46.4 129.3,46.2 129.4,40.8 129.4,45.7 129.4,35.4 129.5,42.4 129.5,45.7 129.5,41.0 129.5,48.7 129.6,45.2 129.6,42.5 129.6,45.8 129.7,41.4 129.7,43.2 129.7,42.9 129.7,46.5 129.8,47.2 129.8,40.6 129.8,46.4 129.8,41.0 129.9,48.9 129.9,47.6 129.9,45.4 130.0,41.6 130.0,40.2 130.0,40.3 130.0,40.1 130.1,44.2 130.1,44.3 130.1,45.3 130.1,39.4 130.2,45.4 130.2,47.7 130.2,37.6 130.3,38.8 130.3,43.3 130.3,42.9 130.3,41.0 130.4,47.5 130.4,46.4 130.4,44.1 130.4,42.0 130.5,44.5 130.5,43.5 130.5,51.8 130.6,42.9 130.6,44.5 130.6,40.2 130.6,46.9 130.7,43.4 130.7,44.7 130.7,45.1 130.7,40.8 130.8,39.0 130.8,43.7 130.8,46.1 130.9,44.3 130.9,41.8 130.9,44.1 130.9,47.6 131.0,47.5 131.0,49.3 131.0,49.2 131.0,46.8 131.1,44.6 131.1,41.6 131.1,47.5 131.2,43.5 131.2,47.3 131.2,44.7 131.2,40.9 131.3,43.5 131.3,41.2 131.3,42.5 131.3,48.9 131.4,46.8 131.4,42.5 131.4,51.3 131.5,46.0 131.5,50.6 131.5,47.2 131.5,46.7 131.6,48.1 131.6,49.3 131.6,44.9 131.6,39.2 131.7,53.0 131.7,41.6 131.7,46.7 131.8,46.5 131.8,42.9 131.8,48.2 131.8,48.5 131.9,47.3 131.9,49.0 131.9,48.7 132.0,36.9 132.0,45.9 132.0,46.0 132.0,40.2 132.1,42.5 132.1,46.1 132.1,43.6 132.1,47.6 132.2,46.8 132.2,41.4 132.2,48.1 132.3,42.4 132.3,46.2 132.3,50.8 132.3,49.0 132.4,48.0 132.4,39.9 132.4,51.1 132.4,46.0 132.5,45.6 132.5,48.5 132.5,46.2 132.6,44.8 132.6,45.8 132.6,42.4 132.6,47.3 132.7,51.0 132.7,44.6 132.7,41.4 132.7,49.7 132.8,50.1 132.8,43.2 132.8,51.8 132.9,47.0 132.9,49.6 132.9,39.4 132.9,46.4 133.0,39.0 133.0,38.1 133.0,50.5 133.0,43.8 133.1,47.5 133.1,45.4 133.1,44.7 133.2,49.2 133.2,47.8 133.2,46.5 133.2,46.9 133.3,44.8 133.3,45.3 133.3,47.1 133.3,46.0 133.4,45.8 133.4,52.1 133.4,48.8 133.5,49.8 133.5,47.8 133.5,47.3 133.5,43.8 133.6,49.3 133.6,46.7 133.6,50.9 133.6,46.3 133.7,44.7 133.7,52.4 133.7,46.9 133.8,42.0 133.8,42.7 133.8,49.9 133.8,47.4 133.9,45.5 133.9,50.2 133.9,43.8 133.9,49.7 134.0,56.3 134.0,43.6 134.0,48.0 134.1,46.2 134.1,43.4 134.1,46.2 134.1,40.7 134.2,44.8 134.2,42.4 134.2,47.0 134.3,48.2 134.3,47.4 134.3,49.5 134.3,46.4 134.4,46.8 134.4,44.3 134.4,43.3 134.4,50.0 134.5,49.6 134.5,44.4 134.5,47.7 134.6,47.9 134.6,48.0 134.6,47.1 134.6,47.7 134.7,46.4 134.7,46.2 134.7,42.5 134.7,48.7 134.8,46.6 134.8,48.2 134.8,47.9 134.9,51.4 134.9,43.8 134.9,48.2 134.9,45.8 135.0,47.2 135.0,47.4 135.0,50.4 135.0,45.1 135.1,46.6 135.1,55.5 135.1,46.5 135.2,48.4 135.2,46.1 135.2,45.7 135.2,46.0 135.3,44.0 135.3,49.1 135.3,49.6 135.3,51.0 135.4,44.9 135.4,48.9 135.4,41.2 135.5,47.3 135.5,50.7 135.5,44.2 135.5,44.0 135.6,48.0 135.6,44.5 135.6,50.1 135.6,43.9 135.7,44.0 135.7,50.9 135.7,45.1 135.8,49.3 135.8,47.0 135.8,44.3 135.8,47.0 135.9,49.8 135.9,51.0 135.9,45.3 135.9,47.9 136.0,48.6 136.0,51.0 136.0,50.4 136.1,46.3 136.1,48.2 136.1,46.5 136.1,47.5 136.2,45.4 136.2,48.9 136.2,45.8 136.2,49.0 136.3,44.4 136.3,51.2 136.3,49.5 136.4,44.1 136.4,51.5 136.4,46.6 136.4,44.5 136.5,46.3 136.5,47.9 136.5,51.9 136.5,49.6 136.6,49.8 136.6,57.5 136.6,55.2 136.7,51.3 136.7,50.2 136.7,50.9 136.7,52.7 136.8,48.2 136.8,51.4 136.8,52.4 136.9,52.3 136.9,45.8 136.9,45.3 136.9,47.7 137.0,51.3 137.0,45.3 137.0,50.0 137.0,45.2 137.1,39.6 137.1,47.4 137.1,46.5 137.2,45.4 137.2,45.5 137.2,53.1 137.2,43.9 137.3,44.5 137.3,54.5 137.3,48.6 137.3,52.6 137.4,49.7 137.4,51.3 137.4,57.4 137.5,50.9 137.5,44.3 137.5,49.0 137.5,51.3 137.6,43.8 137.6,45.9 137.6,46.8 137.6,53.9 137.7,48.9 137.7,45.0 137.7,48.3 137.8,55.3 137.8,54.5 137.8,49.3 137.8,43.1 137.9,51.1 137.9,54.8 137.9,49.8 137.9,51.2 138.0,44.8 138.0,48.4 138.0,48.4 138.1,49.3 138.1,50.1 138.1,47.9 138.1,46.2 138.2,50.2 138.2,47.4 138.2,50.3 138.2,48.1 138.3,46.8 138.3,48.4 138.3,49.5 138.4,46.7 138.4,42.8 138.4,54.3 138.4,43.6 138.5,46.5 138.5,45.0 138.5,47.1 138.5,50.0 138.6,46.8 138.6,43.9 138.6,51.0 138.7,46.5 138.7,48.0 138.7,50.7 138.7,51.4 138.8,52.2 138.8,41.2 138.8,46.7 138.8,50.6 138.9,48.7 138.9,53.7 138.9,51.1 139.0,50.6 139.0,45.9 139.0,47.4 139.0,49.0 139.1,50.6 139.1,47.3 139.1,53.3 139.2,51.3 139.2,48.3 139.2,48.7 139.2,46.7 139.3,55.6 139.3,48.8 139.3,48.0 139.3,44.8 139.4,43.8 139.4,45.8 139.4,49.3 139.5,49.0 139.5,53.3 139.5,49.8 139.5,52.5 139.6,52.3 139.6,48.6 139.6,51.1 139.6,49.3 139.7,48.2 139.7,46.4 139.7,47.4 139.8,54.4 139.8,52.1 139.8,50.7 139.8,51.6 139.9,46.3 139.9,52.4 139.9,46.3 139.9,47.3 140.0,47.7 140.0,43.5 140.0,52.6 140.1,46.4 140.1,47.3 140.1,49.9 140.1,49.1 140.2,51.1 140.2,49.4 140.2,49.0 140.2,55.0 140.3,51.7 140.3,52.7 140.3,54.1 140.4,45.0 140.4,51.9 140.4,53.7 140.4,55.6 140.5,54.8 140.5,57.8 140.5,47.4 140.5,52.1 140.6,50.3 140.6,47.7 140.6,51.0 140.7,53.5 140.7,48.9 140.7,46.0 140.7,52.2 140.8,56.5 140.8,51.8 140.8,45.9 140.8,50.5 140.9,51.0 140.9,47.6 140.9,54.6 141.0,57.3 141.0,49.9 141.0,54.6 141.0,56.5 141.1,50.1 141.1,52.3 141.1,50.9 141.1,49.6 141.2,53.0 141.2,56.2 141.2,50.5 141.3,51.2 141.3,48.1 141.3,52.6 141.3,51.5 141.4,53.6 141.4,50.9 141.4,50.0 141.4,45.3 141.5,47.5 141.5,53.8 141.5,50.6 141.6,54.6 141.6,50.9 141.6,54.1 141.6,53.8 141.7,46.1 141.7,48.6 141.7,52.8 141.8,51.6 141.8,48.2 141.8,47.0 141.8,50.2 141.9,53.3 141.9,48.6 141.9,49.6 141.9,52.5 142.0,50.2 142.0,50.6 142.0,47.2 142.1,50.6 142.1,49.8 142.1,49.7 142.1,50.7 142.2,47.1 142.2,51.8 142.2,46.9 142.2,49.5 142.3,50.5 142.3,55.0 142.3,53.7 142.4,54.0 142.4,57.5 142.4,56.0 142.4,51.1 142.5,52.1 142.5,45.3 142.5,55.7 142.5,49.7 142.6,46.9 142.6,50.0 142.6,58.5 142.7,47.5 142.7,51.9 142.7,50.7 142.7,47.7 142.8,56.0 142.8,50.2 142.8,49.9 142.8,48.9 142.9,48.0 142.9,48.4 142.9,50.2 143.0,46.4 143.0,48.0 143.0,48.5 143.0,52.2 143.1,55.6 143.1,52.0 143.1,47.9 143.1,42.1 143.2,47.4 143.2,53.1 143.2,51.3 143.3,45.9 143.3,50.3 143.3,47.1 143.3,52.2 143.4,53.9 143.4,45.8 143.4,58.9 143.4,47.6 143.5,52.4 143.5,47.7 143.5,55.5 143.6,47.9 143.6,46.9 143.6,52.1 143.6,54.8 143.7,51.2 143.7,54.8 143.7,59.3 143.7,53.0 143.8,49.7 143.8,55.1 143.8,49.7 143.9,52.0 143.9,52.1 143.9,49.8 143.9,57.5 144.0,52.1 144.0,55.0 144.0,55.2 144.1,55.0 144.1,52.5 144.1,50.6 144.1,45.6 144.2,50.4 144.2,59.2 144.2,53.3 144.2,62.4 144.3,51.8 144.3,46.1 144.3,45.0 144.4,53.9 144.4,56.7 144.4,52.0 144.4,48.7 144.5,54.2 144.5,56.1 144.5,51.2 144.5,52.6 144.6,56.0 144.6,57.2 144.6,52.4 144.7,50.6 144.7,48.9 144.7,54.2 144.7,52.9 144.8,51.2 144.8,49.8 144.8,50.3 144.8,52.7 144.9,53.9 144.9,53.2 144.9,51.3 145.0,57.9 145.0,57.3 145.0,50.7 145.0,55.1 145.1,48.8 145.1,56.5 145.1,54.4 145.1,58.6 145.2,48.3 145.2,58.3 145.2,59.0 145.3,55.0 145.3,51.0 145.3,58.6 145.3,49.9 145.4,55.4 145.4,54.1 145.4,52.5 145.4,52.1 145.5,54.1 145.5,55.1 145.5,52.6 145.6,56.5 145.6,53.1 145.6,45.1 145.6,54.9 145.7,54.3 145.7,50.2 145.7,50.5 145.7,53.9 145.8,55.4 145.8,61.1 145.8,50.7 145.9,52.1 145.9,59.0 145.9,59.0 145.9,48.0 146.0,54.1 146.0,58.0 146.0,51.7 146.0,57.7 146.1,51.6 146.1,49.8 146.1,55.3 146.2,45.7 146.2,54.7 146.2,48.2 146.2,53.8 146.3,54.0 146.3,53.4 146.3,54.2 146.4,51.1 146.4,56.3 146.4,52.7 146.4,51.2 146.5,49.2 146.5,51.1 146.5,49.4 146.5,50.1 146.6,52.4 146.6,58.1 146.6,53.3 146.7,56.6 146.7,49.3 146.7,54.4 146.7,55.1 146.8,54.4 146.8,58.4 146.8,53.0 146.8,50.1 146.9,53.8 146.9,54.0 146.9,49.3 147.0,48.2 147.0,52.8 147.0,52.3 147.0,53.0 147.1,52.8 147.1,55.3 147.1,54.1 147.1,50.5 147.2,55.0 147.2,58.8 147.2,58.4 147.3,54.0 147.3,56.4 147.3,53.7 147.3,51.4 147.4,52.6 147.4,48.2 147.4,49.3 147.4,51.2 147.5,50.1 147.5,52.7 147.5,51.0 147.6,50.8 147.6,58.1 147.6,55.3 147.6,51.4 147.7,52.6 147.7,50.9 147.7,47.6 147.7,52.7 147.8,55.7 147.8,50.3 147.8,51.7 147.9,50.1 147.9,52.9 147.9,55.4 147.9,55.4 148.0,52.7 148.0,48.6 148.0,54.4 148.0,47.8 148.1,61.5 148.1,58.2 148.1,50.9 148.2,58.2 148.2,51.9 148.2,58.8 148.2,53.2 148.3,52.6 148.3,52.6 148.3,56.4 148.3,49.8 148.4,52.7 148.4,48.6 148.4,53.5 148.5,48.7 148.5,52.1 148.5,58.9 148.5,49.8 148.6,49.4 148.6,50.4 148.6,59.0 148.6,58.5 148.7,54.3 148.7,57.9 148.7,57.2 148.8,64.4 148.8,56.5 148.8,60.0 148.8,53.7 148.9,52.3 148.9,55.6 148.9,59.0 149.0,59.5 149.0,60.8 149.0,57.2 149.0,56.7 149.1,59.7 149.1,46.9 149.1,53.1 149.1,55.8 149.2,57.5 149.2,59.4 149.2,54.9 149.3,56.9 149.3,58.7 149.3,56.9 149.3,54.3 149.4,61.7 149.4,56.2 149.4,62.8 149.4,51.0 149.5,56.1 149.5,50.4 149.5,60.4 149.6,57.8 149.6,55.7 149.6,54.9 149.6,55.0 149.7,60.2 149.7,53.7 149.7,61.3 149.7,55.2 149.8,59.3 149.8,53.7 149.8,53.3 149.9,51.9 149.9,63.7 149.9,55.1 149.9,52.0 150.0,60.8 150.0,57.5 150.0,56.9 150.0,55.4 150.1,53.2 150.1,59.8 150.1,60.2 150.2,54.7 150.2,50.1 150.2,53.0 150.2,57.9 150.3,57.0 150.3,51.0 150.3,50.3 150.3,52.8 150.4,52.9 150.4,58.3 150.4,53.5 150.5,53.9 150.5,57.5 150.5,58.6 150.5,60.6 150.6,50.3 150.6,51.7 150.6,54.1 150.6,53.5 150.7,55.8 150.7,53.9 150.7,53.4 150.8,53.1 150.8,54.9 150.8,51.0 150.8,50.9 150.9,51.2 150.9,54.0 150.9,57.6 150.9,55.0 151.0,52.2 151.0,56.2 151.0,56.9 151.1,55.7 151.1,54.4 151.1,57.6 151.1,57.4 151.2,61.2 151.2,50.1 151.2,51.9 151.3,51.1 151.3,58.0 151.3,63.8 151.3,55.7 151.4,53.1 151.4,46.4 151.4,51.7 151.4,58.0 151.5,57.9 151.5,57.1 151.5,58.0 151.6,55.5 151.6,52.8 151.6,57.9 151.6,57.4 151.7,50.9 151.7,53.3 151.7,58.7 151.7,62.3 151.8,54.9 151.8,57.7 151.8,53.6 151.9,60.7 151.9,58.5 151.9,50.0 151.9,54.4 152.0,56.5 152.0,62.6 152.0,58.0 152.0,52.3 152.1,51.4 152.1,56.8 152.1,52.4 152.2,55.4 152.2,61.7 152.2,55.5 152.2,54.2 152.3,54.5 152.3,57.3 152.3,53.4 152.3,58.1 152.4,59.4 152.4,60.2 152.4,56.6 152.5,58.2 152.5,54.7 152.5,58.3 152.5,58.5 152.6,59.6 152.6,60.5 152.6,61.7 152.6,55.6 152.7,53.2 152.7,62.7 152.7,56.9 152.8,51.6 152.8,58.8 152.8,59.6 152.8,56.4 152.9,59.8 152.9,57.7 152.9,58.4 152.9,56.5 153.0,53.3 153.0,54.8 153.0,59.7 153.1,56.9 153.1,55.5 153.1,51.4 153.1,56.8 153.2,58.1 153.2,55.1 153.2,58.3 153.2,54.5 153.3,56.2 153.3,60.7 153.3,63.9 153.4,54.8 153.4,58.4 153.4,60.7 153.4,51.4 153.5,54.5 153.5,59.0 153.5,56.8 153.6,52.3 153.6,54.2 153.6,53.0 153.6,53.8 153.7,53.9 153.7,64.3 153.7,50.6 153.7,49.0 153.8,52.8 153.8,58.8 153.8,63.3 153.9,53.4 153.9,57.1 153.9,55.3 153.9,59.9 154.0,65.5 154.0,59.3 154.0,54.6 154.0,54.3 154.1,53.4 154.1,60.2 154.1,61.9 154.2,51.0 154.2,57.3 154.2,61.1 154.2,62.7 154.3,56.4 154.3,61.0 154.3,54.2 154.3,66.1 154.4,56.2 154.4,55.8 154.4,55.4 154.5,57.7 154.5,53.5 154.5,64.8 154.5,53.0 154.6,57.6 154.6,56.2 154.6,55.1 154.6,58.4 154.7,58.1 154.7,60.1 154.7,67.1 154.8,59.3 154.8,56.5 154.8,58.8 154.8,62.0 154.9,59.5 154.9,56.5 154.9,51.7 154.9,60.9 155.0,57.1 155.0,60.2 155.0,55.8 155.1,56.5 155.1,56.6 155.1,53.5 155.1,58.8 155.2,52.0 155.2,57.9 155.2,56.9 155.2,55.9 155.3,57.4 155.3,58.4 155.3,55.0 155.4,58.1 155.4,54.9 155.4,58.3 155.4,56.9 155.5,55.1 155.5,56.9 155.5,56.7 155.5,60.2 155.6,58.6 155.6,60.9 155.6,52.4 155.7,59.1 155.7,60.3 155.7,59.6 155.7,61.3 155.8,59.2 155.8,61.0 155.8,62.9 155.8,59.6 155.9,52.5 155.9,58.0 155.9,58.1 156.0,59.5 156.0,56.1 156.0,55.7 156.0,58.1 156.1,53.5 156.1,57.2 156.1,56.9 156.2,56.5 156.2,58.3 156.2,58.5 156.2,52.3 156.3,56.4 156.3,59.4 156.3,59.7 156.3,59.0 156.4,56.0 156.4,60.0 156.4,52.2 156.5,55.1 156.5,54.6 156.5,55.0 156.5,55.6 156.6,61.9 156.6,62.6 156.6,53.7 156.6,61.7 156.7,54.3 156.7,58.7 156.7,56.2 156.8,57.2 156.8,54.6 156.8,52.1 156.8,59.8 156.9,62.2 156.9,58.9 156.9,64.6 156.9,60.1 157.0,59.6 157.0,58.5 157.0,59.1 157.1,60.1 157.1,55.2 157.1,60.5 157.1,64.2 157.2,64.8 157.2,56.9 157.2,66.1 157.2,62.1 157.3,61.2 157.3,58.7 157.3,62.7 157.4,60.9 157.4,56.4 157.4,58.6 157.4,56.0 157.5,59.1 157.5,60.8 157.5,62.4 157.5,60.5 157.6,58.0 157.6,60.5 157.6,63.9 157.7,57.0 157.7,62.4 157.7,60.9 157.7,66.1 157.8,63.3 157.8,67.9 157.8,64.4 157.8,60.0 157.9,62.0 157.9,59.9 157.9,58.4 158.0,61.5 158.0,52.6 158.0,63.2 158.0,64.0 158.1,57.6 158.1,66.6 158.1,57.3 158.1,59.9 158.2,62.2 158.2,63.4 158.2,57.4 158.3,63.9 158.3,60.3 158.3,65.9 158.3,62.5 158.4,61.2 158.4,65.2 158.4,64.9 158.5,54.7 158.5,63.9 158.5,57.1 158.5,59.2 158.6,57.4 158.6,54.1 158.6,56.4 158.6,55.2 158.7,64.3 158.7,66.9 158.7,64.8 158.8,59.7 158.8,56.8 158.8,56.8 158.8,59.4 158.9,64.6 158.9,58.0 158.9,60.6 158.9,53.6 159.0,56.8 159.0,54.7 159.0,57.8 159.1,62.5 159.1,58.8 159.1,64.5 159.1,61.8 159.2,54.0 159.2,64.0 159.2,57.8 159.2,54.8 159.3,61.5 159.3,58.3 159.3,62.2 159.4,58.8 159.4,58.1 159.4,66.6 159.4,58.9 159.5,61.5 159.5,61.2 159.5,61.1 159.5,65.1 159.6,67.3 159.6,60.7 159.6,61.2 159.7,64.2 159.7,59.6 159.7,58.8 159.7,58.4 159.8,60.0 159.8,57.7 159.8,59.8 159.8,60.4 159.9,57.3 159.9,59.0 159.9,56.1 160.0,58.3 160.0,60.5 160.0,58.7 160.0,62.7 160.1,67.4 160.1,68.3 160.1,63.2 160.1,64.5 160.2,63.8 160.2,63.7 160.2,62.8 160.3,63.7 160.3,62.2 160.3,66.9 160.3,64.5 160.4,59.2 160.4,55.7 160.4,60.1 160.4,53.4 160.5,53.6 160.5,67.0 160.5,53.9 160.6,60.8 160.6,64.3 160.6,64.6 160.6,57.5 160.7,59.5 160.7,64.0 160.7,60.3 160.8,57.9 160.8,65.9 160.8,63.1 160.8,55.2 160.9,61.9 160.9,61.1 160.9,58.1 160.9,59.9 161.0,63.4 161.0,63.8 161.0,60.9 161.1,61.4 161.1,60.4 161.1,67.3 161.1,57.3 161.2,65.3 161.2,62.4 161.2,57.3 161.2,61.8 161.3,59.9 161.3,68.2 161.3,63.5 161.4,61.3 161.4,65.5 161.4,52.8 161.4,59.1 161.5,62.2 161.5,63.2 161.5,62.6 161.5,61.4 161.6,63.5 161.6,68.5 161.6,59.2 161.7,57.1 161.7,59.8 161.7,59.7 161.7,67.1 161.8,62.9 161.8,59.1 161.8,60.4 161.8,65.1 161.9,64.2 161.9,64.1 161.9,69.4 162.0,61.9 162.0,61.0 162.0,61.8 162.0,65.7 162.1,66.5 162.1,61.2 162.1,66.4 162.1,57.2 162.2,61.1 162.2,62.0 162.2,58.0 162.3,59.8 162.3,61.9 162.3,62.5 162.3,61.1 162.4,56.9 162.4,61.9 162.4,66.8 162.4,64.1 162.5,64.5 162.5,65.2 162.5,60.4 162.6,69.5 162.6,56.8 162.6,67.1 162.6,53.8 162.7,57.1 162.7,53.6 162.7,60.2 162.7,59.1 162.8,60.1 162.8,62.4 162.8,64.8 162.9,66.5 162.9,69.5 162.9,61.6 162.9,65.7 163.0,67.1 163.0,58.8 163.0,59.2 163.0,61.9 163.1,57.8 163.1,64.7 163.1,62.9 163.2,56.3 163.2,64.6 163.2,64.7 163.2,56.5 163.3,58.2 163.3,63.6 163.3,62.8 163.4,68.6 163.4,59.8 163.4,60.4 163.4,57.9 163.5,69.8 163.5,67.7 163.5,67.4 163.5,59.1 163.6,60.0 163.6,64.5 163.6,60.8 163.7,56.7 163.7,62.3 163.7,64.1 163.7,65.9 163.8,61.5 163.8,59.1 163.8,63.3 163.8,58.9 163.9,58.6 163.9,65.2 163.9,64.4 164.0,63.8 164.0,61.1 164.0,65.1 164.0,63.6 164.1,72.1 164.1,65.2 164.1,59.5 164.1,65.0 164.2,65.2 164.2,71.5 164.2,71.3 164.3,68.9 164.3,59.8 164.3,61.7 164.3,65.0 164.4,62.6 164.4,66.1 164.4,69.8 164.4,61.8 164.5,68.2 164.5,62.2 164.5,69.7 164.6,63.4 164.6,64.9 164.6,65.0 164.6,64.9 164.7,64.1 164.7,65.9 164.7,60.3 164.7,60.6 164.8,69.6 164.8,60.4 164.8,61.2 164.9,67.5 164.9,61.9 164.9,77.2 164.9,63.3 165.0,59.1 165.0,65.2 165.0,61.9 165.0,59.7 165.1,63.9 165.1,59.5 165.1,60.6 165.2,62.1 165.2,65.1 165.2,66.3 165.2,60.6 165.3,58.2 165.3,56.2 165.3,63.7 165.3,59.3 165.4,64.6 165.4,63.9 165.4,60.8 165.5,61.6 165.5,60.4 165.5,67.3 165.5,67.8 165.6,70.2 165.6,66.1 165.6,63.7 165.7,67.9 165.7,68.4 165.7,61.7 165.7,59.6 165.8,61.7 165.8,68.3 165.8,60.2 165.8,63.5 165.9,68.9 165.9,64.6 165.9,60.6 166.0,67.8 166.0,67.6 166.0,67.3 166.0,67.3 166.1,63.5 166.1,65.6 166.1,65.8 166.1,70.1 166.2,69.0 166.2,61.6 166.2,63.2 166.3,63.1 166.3,69.6 166.3,65.5 166.3,61.0 166.4,63.9 166.4,69.8 166.4,62.7 166.4,63.6 166.5,62.0 166.5,67.0 166.5,66.4 166.6,67.1 166.6,65.9 166.6,69.3 166.6,60.4 166.7,63.6 166.7,68.9 166.7,61.9 166.7,63.8 166.8,64.9 166.8,62.4 166.8,68.1 166.9,61.3 166.9,62.1 166.9,69.0 166.9,65.6 167.0,64.6 167.0,62.5 167.0,68.4 167.0,67.2 167.1,60.0 167.1,67.8 167.1,67.3 167.2,65.2 167.2,71.5 167.2,66.3 167.2,66.2 167.3,60.9 167.3,61.0 167.3,65.0 167.3,68.5 167.4,64.4 167.4,65.2 167.4,62.9 167.5,72.5 167.5,61.2 167.5,57.9 167.5,64.0 167.6,63.4 167.6,62.2 167.6,69.4 167.6,54.5 167.7,69.9 167.7,61.0 167.7,65.8 167.8,64.1 167.8,61.3 167.8,61.3 167.8,61.5 167.9,56.9 167.9,67.3 167.9,67.2 167.9,65.1 168.0,65.8 168.0,62.1 168.0,66.4 168.1,66.4 168.1,58.7 168.1,63.6 168.1,68.5 168.2,71.7 168.2,66.3 168.2,63.8 168.3,70.9 168.3,69.2 168.3,65.7 168.3,63.5 168.4,60.7 168.4,69.6 168.4,65.1 168.4,64.5 168.5,62.4 168.5,67.3 168.5,64.0 168.6,67.4 168.6,60.7 168.6,62.8 168.6,69.8 168.7,67.9 168.7,70.8 168.7,65.1 168.7,65.7 168.8,67.2 168.8,61.8 168.8,63.9 168.9,60.5 168.9,66.7 168.9,65.0 168.9,64.3 169.0,66.8 169.0,68.8 169.0,68.1 169.0,67.1 169.1,72.3 169.1,65.2 169.1,61.1 169.2,65.4 169.2,67.4 169.2,63.1 169.2,69.2 169.3,64.5 169.3,71.7 169.3,59.8 169.3,64.7 169.4,71.1 169.4,69.9 169.4,66.4 169.5,63.6 169.5,63.6 169.5,68.3 169.5,65.5 169.6,66.6 169.6,66.5 169.6,72.4 169.6,67.6 169.7,66.4 169.7,73.8 169.7,59.1 169.8,63.8 169.8,69.5 169.8,64.8 169.8,67.9 169.9,66.1 169.9,66.8 169.9,68.6 169.9,71.9 170.0,69.4 170.0,71.0 170.0,70.3 170.1,67.4 170.1,64.8 170.1,62.8 170.1,66.7 170.2,71.5 170.2,65.9 170.2,70.8 170.2,62.8 170.3,66.0 170.3,70.1 170.3,61.2 170.4,67.5 170.4,71.3 170.4,63.5 170.4,66.3 170.5,64.8 170.5,69.8 170.5,72.6 170.6,65.3 170.6,66.3 170.6,64.7 170.6,64.8 170.7,66.9 170.7,63.9 170.7,65.8 170.7,68.6 170.8,63.0 170.8,66.1 170.8,58.2 170.9,66.6 170.9,63.1 170.9,67.6 170.9,68.5 171.0,66.0 171.0,72.0 171.0,66.8 171.0,66.4 171.1,64.3 171.1,70.6 171.1,66.6 171.2,64.7 171.2,62.4 171.2,64.8 171.2,62.0 171.3,63.8 171.3,64.4 171.3,67.4 171.3,74.5 171.4,63.7 171.4,64.9 171.4,67.2 171.5,65.2 171.5,75.4 171.5,71.4 171.5,68.9 171.6,68.0 171.6,70.3 171.6,65.8 171.6,68.1 171.7,65.6 171.7,66.7 171.7,60.4 171.8,68.6 171.8,66.4 171.8,69.4 171.8,65.8 171.9,66.4 171.9,69.4 171.9,64.7 171.9,66.0 172.0,66.3 172.0,64.9 172.0,68.9 172.1,70.0 172.1,68.0 172.1,66.9 172.1,70.4 172.2,64.8 172.2,64.5 172.2,68.5 172.2,70.1 172.3,65.3 172.3,75.8 172.3,65.1 172.4,65.5 172.4,69.9 172.4,68.4 172.4,65.8 172.5,65.1 172.5,71.5 172.5,73.8 172.5,67.8 172.6,64.5 172.6,71.9 172.6,69.1 172.7,63.4 172.7,68.6 172.7,60.4 172.7,67.4 172.8,66.4 172.8,73.6 172.8,71.4 172.9,71.9 172.9,64.3 172.9,65.8 172.9,63.5 173.0,65.1 173.0,74.0 173.0,65.5 173.0,68.9 173.1,67.2 173.1,66.7 173.1,70.1 173.2,70.0 173.2,63.0 173.2,73.0 173.2,66.5 173.3,70.6 173.3,61.1 173.3,63.5 173.3,72.1 173.4,74.9 173.4,69.4 173.4,68.0 173.5,71.4 173.5,69.5 173.5,61.0 173.5,66.3 173.6,72.7 173.6,70.3 173.6,68.1 173.6,69.0 173.7,67.9 173.7,68.3 173.7,65.3 173.8,71.9 173.8,65.8 173.8,69.6 173.8,68.5 173.9,70.1 173.9,68.6 173.9,64.1 173.9,74.3 174.0,65.8 174.0,74.4 174.0,68.2 174.1,70.6 174.1,66.7 174.1,72.1 174.1,60.7 174.2,72.7 174.2,72.1 174.2,70.9 174.2,62.0 174.3,65.4 174.3,66.2 174.3,64.0 174.4,71.5 174.4,65.2 174.4,72.3 174.4,68.4 174.5,70.6 174.5,69.1 174.5,64.2 174.5,68.9 174.6,67.9 174.6,74.9 174.6,64.3 174.7,70.9 174.7,73.9 174.7,66.4 174.7,69.6 174.8,66.1 174.8,64.5 174.8,67.8 174.8,73.4 174.9,70.2 174.9,71.4 174.9,67.6 175.0,65.9 175.0,62.4 175.0,65.4 175.0,75.8 175.1,72.2 175.1,66.2 175.1,67.0 175.1,67.3 175.2,68.0 175.2,62.0 175.2,68.9 175.3,69.3 175.3,68.6 175.3,65.6 175.3,69.3 175.4,63.1 175.4,70.0 175.4,68.8 175.5,76.0 175.5,72.6 175.5,66.7 175.5,63.6 175.6,67.1 175.6,65.9 175.6,65.1 175.6,71.7 175.7,72.1 175.7,68.4 175.7,70.2 175.8,68.1 175.8,70.3 175.8,65.6 175.8,69.6 175.9,69.8 175.9,73.5 175.9,69.4 175.9,64.9 176.0,71.4 176.0,73.2 176.0,64.7 176.1,73.4 176.1,70.7 176.1,63.6 176.1,74.7 176.2,69.7 176.2,66.2 176.2,66.2 176.2,72.1 176.3,73.2 176.3,71.4 176.3,69.4 176.4,70.1 176.4,65.8 176.4,79.4 176.4,67.9 176.5,74.7 176.5,63.2 176.5,71.9 176.5,70.8 176.6,69.7 176.6,69.0 176.6,68.2 176.7,77.3 176.7,69.4 176.7,66.8 176.7,71.0 176.8,68.3 176.8,71.2 176.8,65.1 176.8,72.5 176.9,75.4 176.9,65.3 176.9,68.4 177.0,65.5 177.0,66.2 177.0,71.1 177.0,67.8 177.1,68.3 177.1,70.1 177.1,67.4 177.1,68.8 177.2,72.6 177.2,70.2 177.2,77.7 177.3,71.3 177.3,70.0 177.3,70.2 177.3,71.0 177.4,71.6 177.4,69.7 177.4,72.3 177.4,68.1 177.5,69.2 177.5,72.0 177.5,65.7 177.6,66.7 177.6,71.5 177.6,68.1 177.6,72.3 177.7,66.3 177.7,69.2 177.7,68.3 177.8,71.6 177.8,70.6 177.8,73.4 177.8,63.9 177.9,74.7 177.9,62.3 177.9,75.0 177.9,67.2 178.0,71.1 178.0,66.0 178.0,74.9 178.1,70.8 178.1,72.4 178.1,67.7 178.1,70.5 178.2,73.0 178.2,72.7 178.2,72.2 178.2,69.1 178.3,67.5 178.3,74.9 178.3,68.8 178.4,71.9 178.4,68.8 178.4,67.4 178.4,72.2 178.5,70.4 178.5,65.4 178.5,67.9 178.5,71.6 178.6,78.7 178.6,70.4 178.6,67.8 178.7,75.8 178.7,70.2 178.7,71.4 178.7,75.2 178.8,68.7 178.8,66.8 178.8,68.6 178.8,72.5 178.9,77.8 178.9,71.0 178.9,68.6 179.0,73.5 179.0,69.7 179.0,76.4 179.0,71.1 179.1,70.7 179.1,71.1 179.1,75.9 179.1,68.9 179.2,72.9 179.2,69.5 179.2,71.3 179.3,71.8 179.3,70.3 179.3,70.1 179.3,69.3 179.4,72.5 179.4,65.9 179.4,72.3 179.4,72.1 179.5,75.9 179.5,73.2 179.5,73.6 179.6,71.4 179.6,68.2 179.6,75.4 179.6,69.2 179.7,69.3 179.7,70.9 179.7,76.0 179.7,65.7 179.8,69.5 179.8,75.5 179.8,70.4 179.9,68.6 179.9,73.7 179.9,71.1 179.9,70.9 180.0,72.3 180.0,71.2 180.0,76.5 180.1,67.7 180.1,70.6 180.1,71.4 180.1,77.6 180.2,77.8 180.2,75.4 180.2,76.2 180.2,70.8 180.3,78.3 180.3,72.7 180.3,71.9 180.4,71.7 180.4,71.7 180.4,67.8 180.4,71.7 180.5,75.1 180.5,73.8 180.5,64.6 180.5,71.0 180.6,76.4 180.6,75.4 180.6,72.4 180.7,77.9 180.7,71.6 180.7,69.8 180.7,67.2 180.8,71.3 180.8,67.6 180.8,71.9 180.8,75.1 180.9,72.5 180.9,73.3 180.9,77.6 181.0,67.5 181.0,72.3 181.0,72.5 181.0,71.6 181.1,70.3 181.1,71.4 181.1,67.2 181.1,76.1 181.2,76.3 181.2,71.5" fill="none" stroke="#000" stroke-width="0.35"/>
<rect x="120.7" y="31.6" width="60.8" height="48.6" fill="none" stroke="#333" stroke-width="0.6"/>
<line x1="120.7" y1="32.0" x2="121.9" y2="32.0" stroke="#000" stroke-width="0.4"/>
<text x="119.9" y="33.4" font-size="3.9" text-anchor="end" class="b">450</text>
<line x1="120.7" y1="40.1" x2="121.9" y2="40.1" stroke="#000" stroke-width="0.4"/>
<text x="119.9" y="41.5" font-size="3.9" text-anchor="end" class="b">400</text>
<line x1="120.7" y1="48.2" x2="121.9" y2="48.2" stroke="#000" stroke-width="0.4"/>
<text x="119.9" y="49.6" font-size="3.9" text-anchor="end" class="b">350</text>
<line x1="120.7" y1="56.2" x2="121.9" y2="56.2" stroke="#000" stroke-width="0.4"/>
<text x="119.9" y="57.6" font-size="3.9" text-anchor="end" class="b">300</text>
<line x1="120.7" y1="64.3" x2="121.9" y2="64.3" stroke="#000" stroke-width="0.4"/>
<text x="119.9" y="65.7" font-size="3.9" text-anchor="end" class="b">250</text>
<line x1="120.7" y1="72.4" x2="121.9" y2="72.4" stroke="#000" stroke-width="0.4"/>
<text x="119.9" y="73.8" font-size="3.9" text-anchor="end" class="b">200</text>
<line x1="120.7" y1="80.5" x2="121.9" y2="80.5" stroke="#000" stroke-width="0.4"/>
<text x="119.9" y="81.9" font-size="3.9" text-anchor="end" class="b">150</text>
<text x="120.7" y="84.8" font-size="3.6" text-anchor="middle" class="b">0</text>
<text x="151.1" y="84.8" font-size="3.6" text-anchor="middle" class="b">50</text>
<text x="181.5" y="84.8" font-size="3.6" text-anchor="middle" class="b">100</text>
<text x="151.3" y="89.9" font-size="5.6" text-anchor="middle" class="b"><tspan font-style="italic">t</tspan> (ns)</text>
<text transform="translate(113.3,57.5) rotate(-90)" font-size="5.9" text-anchor="middle" class="b">Temperature (K)</text>
<rect x="37.6" y="28.6" width="228" height="183.7" fill="none" stroke="#000" stroke-width="1.2"/>
<line x1="37.6" y1="38.5" x2="41.3" y2="38.5" stroke="#000" stroke-width="1.1"/>
<line x1="37.6" y1="48.7" x2="39.6" y2="48.7" stroke="#000" stroke-width="0.9"/>
<text x="33.6" y="41.6" font-size="9.2" text-anchor="end" class="b">-30</text>
<line x1="37.6" y1="58.9" x2="41.3" y2="58.9" stroke="#000" stroke-width="1.1"/>
<line x1="37.6" y1="69.1" x2="39.6" y2="69.1" stroke="#000" stroke-width="0.9"/>
<text x="33.6" y="62.0" font-size="9.2" text-anchor="end" class="b">-32</text>
<line x1="37.6" y1="79.3" x2="41.3" y2="79.3" stroke="#000" stroke-width="1.1"/>
<line x1="37.6" y1="89.6" x2="39.6" y2="89.6" stroke="#000" stroke-width="0.9"/>
<text x="33.6" y="82.4" font-size="9.2" text-anchor="end" class="b">-34</text>
<line x1="37.6" y1="99.8" x2="41.3" y2="99.8" stroke="#000" stroke-width="1.1"/>
<line x1="37.6" y1="110.0" x2="39.6" y2="110.0" stroke="#000" stroke-width="0.9"/>
<text x="33.6" y="102.9" font-size="9.2" text-anchor="end" class="b">-36</text>
<line x1="37.6" y1="120.2" x2="41.3" y2="120.2" stroke="#000" stroke-width="1.1"/>
<line x1="37.6" y1="130.4" x2="39.6" y2="130.4" stroke="#000" stroke-width="0.9"/>
<text x="33.6" y="123.3" font-size="9.2" text-anchor="end" class="b">-38</text>
<line x1="37.6" y1="140.6" x2="41.3" y2="140.6" stroke="#000" stroke-width="1.1"/>
<line x1="37.6" y1="150.8" x2="39.6" y2="150.8" stroke="#000" stroke-width="0.9"/>
<text x="33.6" y="143.7" font-size="9.2" text-anchor="end" class="b">-40</text>
<line x1="37.6" y1="161.1" x2="41.3" y2="161.1" stroke="#000" stroke-width="1.1"/>
<line x1="37.6" y1="171.3" x2="39.6" y2="171.3" stroke="#000" stroke-width="0.9"/>
<text x="33.6" y="164.2" font-size="9.2" text-anchor="end" class="b">-42</text>
<line x1="37.6" y1="181.5" x2="41.3" y2="181.5" stroke="#000" stroke-width="1.1"/>
<line x1="37.6" y1="191.7" x2="39.6" y2="191.7" stroke="#000" stroke-width="0.9"/>
<text x="33.6" y="184.6" font-size="9.2" text-anchor="end" class="b">-44</text>
<line x1="37.6" y1="201.9" x2="41.3" y2="201.9" stroke="#000" stroke-width="1.1"/>
<text x="33.6" y="205.0" font-size="9.2" text-anchor="end" class="b">-46</text>
<line x1="37.6" y1="212.3" x2="37.6" y2="208.6" stroke="#000" stroke-width="1.1"/>
<line x1="151.6" y1="212.3" x2="151.6" y2="208.6" stroke="#000" stroke-width="1.1"/>
<line x1="265.6" y1="212.3" x2="265.6" y2="208.6" stroke="#000" stroke-width="1.1"/>
<line x1="94.6" y1="212.3" x2="94.6" y2="210.3" stroke="#000" stroke-width="0.9"/>
<line x1="208.6" y1="212.3" x2="208.6" y2="210.3" stroke="#000" stroke-width="0.9"/>
<text x="37.6" y="223.5" font-size="9.2" text-anchor="middle" class="b">0</text>
<text x="151.6" y="223.5" font-size="9.2" text-anchor="middle" class="b">50</text>
<text x="265.6" y="223.5" font-size="9.2" text-anchor="middle" class="b">100</text>
<text x="151.3" y="234.8" font-size="13" text-anchor="middle" class="b"><tspan font-style="italic">t</tspan> (ns)</text>
<text transform="translate(8.6,114.6) rotate(-90)" font-size="13.2" text-anchor="middle" class="b">Potential (kJ/mol)</text>
<text x="143.0" y="117.0" font-size="9.4" letter-spacing="0.22">D=9.263×10<tspan dy="-4.4" font-size="5.4" letter-spacing="0">-9</tspan><tspan dy="4.4"> cm</tspan><tspan dy="-4.0" font-size="5.6" letter-spacing="0">2</tspan><tspan dy="4.0">/s</tspan></text>
<text x="124.6" y="198.0" font-size="9.4" letter-spacing="0.22">D=2.889×10<tspan dy="-4.4" font-size="5.4" letter-spacing="0">-5</tspan><tspan dy="4.4"> cm</tspan><tspan dy="-4.0" font-size="5.6" letter-spacing="0">2</tspan><tspan dy="4.0">/s</tspan></text>
<line x1="76.5" y1="128.8" x2="76.5" y2="108" stroke="#555" stroke-width="0.75"/>
<path d="M76.5,104.8 L75.2,109.4 L77.8,109.4 Z" fill="#111"/>
<line x1="225.5" y1="108.3" x2="225.5" y2="133" stroke="#555" stroke-width="0.75"/>
<path d="M225.5,136.4 L224.2,131.8 L226.8,131.8 Z" fill="#111"/>
<text x="283.7" y="25.0" font-size="10.8" class="b">Top View</text>
<text x="282.4" y="211.9" font-size="10.8" class="b">Side View</text>
<path d="M292.2,34.4L297.7,32.5 M289.9,40.3L294.9,42.0 M292.2,48.8L297.7,46.9 M289.9,54.7L294.9,56.4 M292.2,63.1L297.7,61.2 M289.9,69.0L294.9,70.7 M292.2,77.5L297.7,75.6 M289.9,83.4L294.9,85.1 M292.2,91.8L297.7,89.9 M289.9,97.7L294.9,99.4 M292.2,106.2L297.7,104.3 M289.9,112.1L294.9,113.8 M292.2,120.6L297.7,118.7 M289.9,126.5L294.9,128.2 M292.2,134.9L297.7,133.0 M289.9,140.8L294.9,142.5 M292.2,149.3L297.7,147.4 M289.9,155.2L294.9,156.9 M292.2,163.6L297.7,161.7 M289.9,169.5L294.9,171.2 M292.2,178.0L297.7,176.1 M289.9,183.9L294.9,185.6 M292.2,192.4L297.7,190.5 M289.9,198.3L294.9,200.0 M321.0,34.4L326.5,32.5 M318.7,40.3L323.7,42.0 M321.0,48.8L326.5,46.9 M318.7,54.7L323.7,56.4 M321.0,63.1L326.5,61.2 M318.7,69.0L323.7,70.7 M321.0,77.5L326.5,75.6 M318.7,83.4L323.7,85.1 M321.0,91.8L326.5,89.9 M318.7,97.7L323.7,99.4 M321.0,106.2L326.5,104.3 M318.7,112.1L323.7,113.8 M321.0,120.6L326.5,118.7 M318.7,126.5L323.7,128.2 M321.0,134.9L326.5,133.0 M318.7,140.8L323.7,142.5 M321.0,149.3L326.5,147.4 M318.7,155.2L323.7,156.9 M321.0,163.6L326.5,161.7 M318.7,169.5L323.7,171.2 M321.0,178.0L326.5,176.1 M318.7,183.9L323.7,185.6 M321.0,192.4L326.5,190.5 M318.7,198.3L323.7,200.0 M349.8,34.4L355.3,32.5 M347.5,40.3L352.5,42.0 M349.8,48.8L355.3,46.9 M347.5,54.7L352.5,56.4 M349.8,63.1L355.3,61.2 M347.5,69.0L352.5,70.7 M349.8,77.5L355.3,75.6 M347.5,83.4L352.5,85.1 M349.8,91.8L355.3,89.9 M347.5,97.7L352.5,99.4 M349.8,106.2L355.3,104.3 M347.5,112.1L352.5,113.8 M349.8,120.6L355.3,118.7 M347.5,126.5L352.5,128.2 M349.8,134.9L355.3,133.0 M347.5,140.8L352.5,142.5 M349.8,149.3L355.3,147.4 M347.5,155.2L352.5,156.9 M349.8,163.6L355.3,161.7 M347.5,169.5L352.5,171.2 M349.8,178.0L355.3,176.1 M347.5,183.9L352.5,185.6 M349.8,192.4L355.3,190.5 M347.5,198.3L352.5,200.0 M378.6,34.4L384.1,32.5 M376.3,40.3L381.3,42.0 M378.6,48.8L384.1,46.9 M376.3,54.7L381.3,56.4 M378.6,63.1L384.1,61.2 M376.3,69.0L381.3,70.7 M378.6,77.5L384.1,75.6 M376.3,83.4L381.3,85.1 M378.6,91.8L384.1,89.9 M376.3,97.7L381.3,99.4 M378.6,106.2L384.1,104.3 M376.3,112.1L381.3,113.8 M378.6,120.6L384.1,118.7 M376.3,126.5L381.3,128.2 M378.6,134.9L384.1,133.0 M376.3,140.8L381.3,142.5 M378.6,149.3L384.1,147.4 M376.3,155.2L381.3,156.9 M378.6,163.6L384.1,161.7 M376.3,169.5L381.3,171.2 M378.6,178.0L384.1,176.1 M376.3,183.9L381.3,185.6 M378.6,192.4L384.1,190.5 M376.3,198.3L381.3,200.0 M407.4,34.4L412.9,32.5 M405.1,40.3L410.1,42.0 M407.4,48.8L412.9,46.9 M405.1,54.7L410.1,56.4 M407.4,63.1L412.9,61.2 M405.1,69.0L410.1,70.7 M407.4,77.5L412.9,75.6 M405.1,83.4L410.1,85.1 M407.4,91.8L412.9,89.9 M405.1,97.7L410.1,99.4 M407.4,106.2L412.9,104.3 M405.1,112.1L410.1,113.8 M407.4,120.6L412.9,118.7 M405.1,126.5L410.1,128.2 M407.4,134.9L412.9,133.0 M405.1,140.8L410.1,142.5 M407.4,149.3L412.9,147.4 M405.1,155.2L410.1,156.9 M407.4,163.6L412.9,161.7 M405.1,169.5L410.1,171.2 M407.4,178.0L412.9,176.1 M405.1,183.9L410.1,185.6 M407.4,192.4L412.9,190.5 M405.1,198.3L410.1,200.0 M436.2,34.4L441.7,32.5 M433.9,40.3L438.9,42.0 M436.2,48.8L441.7,46.9 M433.9,54.7L438.9,56.4 M436.2,63.1L441.7,61.2 M433.9,69.0L438.9,70.7 M436.2,77.5L441.7,75.6 M433.9,83.4L438.9,85.1 M436.2,91.8L441.7,89.9 M433.9,97.7L438.9,99.4 M436.2,106.2L441.7,104.3 M433.9,112.1L438.9,113.8 M436.2,120.6L441.7,118.7 M433.9,126.5L438.9,128.2 M436.2,134.9L441.7,133.0 M433.9,140.8L438.9,142.5 M436.2,149.3L441.7,147.4 M433.9,155.2L438.9,156.9 M436.2,163.6L441.7,161.7 M433.9,169.5L438.9,171.2 M436.2,178.0L441.7,176.1 M433.9,183.9L438.9,185.6 M436.2,192.4L441.7,190.5 M433.9,198.3L438.9,200.0" stroke="#ff00ff" stroke-width="1.5" stroke-dasharray="1.3,0.9" fill="none"/>
<path d="M290.0,217.4L298.3,217.1 M287.5,220.1L287.8,228.3 M301.2,220.1L301.4,228.3 M290.4,231.6L298.3,231.3 M318.2,217.4L326.5,217.1 M315.7,220.1L316.0,228.3 M329.4,220.1L329.6,228.3 M318.6,231.6L326.5,231.3 M346.4,217.4L354.7,217.1 M343.9,220.1L344.2,228.3 M357.6,220.1L357.8,228.3 M346.8,231.6L354.7,231.3 M374.6,217.4L382.9,217.1 M372.1,220.1L372.4,228.3 M385.8,220.1L386.0,228.3 M375.0,231.6L382.9,231.3 M402.8,217.4L411.1,217.1 M400.3,220.1L400.6,228.3 M414.0,220.1L414.2,228.3 M403.2,231.6L411.1,231.3 M431.0,217.4L439.3,217.1 M428.5,220.1L428.8,228.3 M442.2,220.1L442.4,228.3 M431.4,231.6L439.3,231.3" stroke="#ff00ff" stroke-width="1.75" stroke-dasharray="1.4,0.8" fill="none"/>
<circle cx="300.3" cy="31.8" r="2.5" fill="url(#y)"/><circle cx="301.9" cy="28.5" r="1.2" fill="url(#h)"/><circle cx="296.7" cy="33.1" r="1.2" fill="url(#h)"/><circle cx="287.0" cy="39.2" r="2.5" fill="url(#r)"/><circle cx="286.9" cy="38.4" r="0.8" fill="url(#h)"/><circle cx="286.3" cy="35.1" r="2.5" fill="url(#y)"/><circle cx="284.1" cy="31.4" r="1.2" fill="url(#h)"/><circle cx="290.7" cy="34.8" r="1.2" fill="url(#h)"/><circle cx="300.3" cy="45.4" r="2.5" fill="url(#y)"/><circle cx="296.7" cy="47.4" r="1.2" fill="url(#h)"/><circle cx="300.9" cy="41.7" r="2.5" fill="url(#r)"/><circle cx="301.3" cy="41.0" r="0.8" fill="url(#h)"/><circle cx="303.2" cy="39.1" r="1.2" fill="url(#h)"/><circle cx="296.1" cy="42.7" r="1.2" fill="url(#h)"/><circle cx="287.0" cy="53.6" r="2.5" fill="url(#r)"/><circle cx="286.9" cy="52.8" r="0.8" fill="url(#h)"/><circle cx="286.3" cy="49.5" r="2.5" fill="url(#y)"/><circle cx="284.1" cy="45.8" r="1.2" fill="url(#h)"/><circle cx="290.7" cy="49.2" r="1.2" fill="url(#h)"/><circle cx="300.3" cy="59.8" r="2.5" fill="url(#y)"/><circle cx="296.7" cy="61.8" r="1.2" fill="url(#h)"/><circle cx="300.9" cy="56.1" r="2.5" fill="url(#r)"/><circle cx="301.3" cy="55.4" r="0.8" fill="url(#h)"/><circle cx="303.2" cy="53.5" r="1.2" fill="url(#h)"/><circle cx="296.1" cy="57.1" r="1.2" fill="url(#h)"/><circle cx="287.0" cy="67.9" r="2.5" fill="url(#r)"/><circle cx="286.9" cy="67.1" r="0.8" fill="url(#h)"/><circle cx="286.3" cy="63.8" r="2.5" fill="url(#y)"/><circle cx="284.1" cy="60.1" r="1.2" fill="url(#h)"/><circle cx="290.7" cy="63.5" r="1.2" fill="url(#h)"/><circle cx="300.3" cy="74.1" r="2.5" fill="url(#y)"/><circle cx="296.7" cy="76.1" r="1.2" fill="url(#h)"/><circle cx="300.9" cy="70.4" r="2.5" fill="url(#r)"/><circle cx="301.3" cy="69.7" r="0.8" fill="url(#h)"/><circle cx="303.2" cy="67.8" r="1.2" fill="url(#h)"/><circle cx="296.1" cy="71.4" r="1.2" fill="url(#h)"/><circle cx="287.0" cy="82.3" r="2.5" fill="url(#r)"/><circle cx="286.9" cy="81.5" r="0.8" fill="url(#h)"/><circle cx="286.3" cy="78.2" r="2.5" fill="url(#y)"/><circle cx="284.1" cy="74.5" r="1.2" fill="url(#h)"/><circle cx="290.7" cy="77.9" r="1.2" fill="url(#h)"/><circle cx="300.3" cy="88.5" r="2.5" fill="url(#y)"/><circle cx="296.7" cy="90.5" r="1.2" fill="url(#h)"/><circle cx="300.9" cy="84.8" r="2.5" fill="url(#r)"/><circle cx="301.3" cy="84.1" r="0.8" fill="url(#h)"/><circle cx="303.2" cy="82.2" r="1.2" fill="url(#h)"/><circle cx="296.1" cy="85.8" r="1.2" fill="url(#h)"/><circle cx="287.0" cy="96.6" r="2.5" fill="url(#r)"/><circle cx="286.9" cy="95.8" r="0.8" fill="url(#h)"/><circle cx="286.3" cy="92.5" r="2.5" fill="url(#y)"/><circle cx="284.1" cy="88.8" r="1.2" fill="url(#h)"/><circle cx="290.7" cy="92.2" r="1.2" fill="url(#h)"/><circle cx="300.3" cy="102.8" r="2.5" fill="url(#y)"/><circle cx="296.7" cy="104.8" r="1.2" fill="url(#h)"/><circle cx="300.9" cy="99.1" r="2.5" fill="url(#r)"/><circle cx="301.3" cy="98.4" r="0.8" fill="url(#h)"/><circle cx="303.2" cy="96.5" r="1.2" fill="url(#h)"/><circle cx="296.1" cy="100.1" r="1.2" fill="url(#h)"/><circle cx="287.0" cy="111.0" r="2.5" fill="url(#r)"/><circle cx="286.9" cy="110.2" r="0.8" fill="url(#h)"/><circle cx="286.3" cy="106.9" r="2.5" fill="url(#y)"/><circle cx="284.1" cy="103.2" r="1.2" fill="url(#h)"/><circle cx="290.7" cy="106.6" r="1.2" fill="url(#h)"/><circle cx="300.3" cy="117.2" r="2.5" fill="url(#y)"/><circle cx="296.7" cy="119.2" r="1.2" fill="url(#h)"/><circle cx="300.9" cy="113.5" r="2.5" fill="url(#r)"/><circle cx="301.3" cy="112.8" r="0.8" fill="url(#h)"/><circle cx="303.2" cy="110.9" r="1.2" fill="url(#h)"/><circle cx="296.1" cy="114.5" r="1.2" fill="url(#h)"/><circle cx="287.0" cy="125.4" r="2.5" fill="url(#r)"/><circle cx="286.9" cy="124.6" r="0.8" fill="url(#h)"/><circle cx="286.3" cy="121.3" r="2.5" fill="url(#y)"/><circle cx="284.1" cy="117.6" r="1.2" fill="url(#h)"/><circle cx="290.7" cy="121.0" r="1.2" fill="url(#h)"/><circle cx="300.3" cy="131.6" r="2.5" fill="url(#y)"/><circle cx="296.7" cy="133.6" r="1.2" fill="url(#h)"/><circle cx="300.9" cy="127.9" r="2.5" fill="url(#r)"/><circle cx="301.3" cy="127.2" r="0.8" fill="url(#h)"/><circle cx="303.2" cy="125.3" r="1.2" fill="url(#h)"/><circle cx="296.1" cy="128.9" r="1.2" fill="url(#h)"/><circle cx="287.0" cy="139.7" r="2.5" fill="url(#r)"/><circle cx="286.9" cy="138.9" r="0.8" fill="url(#h)"/><circle cx="286.3" cy="135.6" r="2.5" fill="url(#y)"/><circle cx="284.1" cy="131.9" r="1.2" fill="url(#h)"/><circle cx="290.7" cy="135.3" r="1.2" fill="url(#h)"/><circle cx="300.3" cy="145.9" r="2.5" fill="url(#y)"/><circle cx="296.7" cy="147.9" r="1.2" fill="url(#h)"/><circle cx="300.9" cy="142.2" r="2.5" fill="url(#r)"/><circle cx="301.3" cy="141.5" r="0.8" fill="url(#h)"/><circle cx="303.2" cy="139.6" r="1.2" fill="url(#h)"/><circle cx="296.1" cy="143.2" r="1.2" fill="url(#h)"/><circle cx="287.0" cy="154.1" r="2.5" fill="url(#r)"/><circle cx="286.9" cy="153.3" r="0.8" fill="url(#h)"/><circle cx="286.3" cy="150.0" r="2.5" fill="url(#y)"/><circle cx="284.1" cy="146.3" r="1.2" fill="url(#h)"/><circle cx="290.7" cy="149.7" r="1.2" fill="url(#h)"/><circle cx="300.3" cy="160.3" r="2.5" fill="url(#y)"/><circle cx="296.7" cy="162.3" r="1.2" fill="url(#h)"/><circle cx="300.9" cy="156.6" r="2.5" fill="url(#r)"/><circle cx="301.3" cy="155.9" r="0.8" fill="url(#h)"/><circle cx="303.2" cy="154.0" r="1.2" fill="url(#h)"/><circle cx="296.1" cy="157.6" r="1.2" fill="url(#h)"/><circle cx="287.0" cy="168.4" r="2.5" fill="url(#r)"/><circle cx="286.9" cy="167.6" r="0.8" fill="url(#h)"/><circle cx="286.3" cy="164.3" r="2.5" fill="url(#y)"/><circle cx="284.1" cy="160.6" r="1.2" fill="url(#h)"/><circle cx="290.7" cy="164.0" r="1.2" fill="url(#h)"/><circle cx="300.3" cy="174.6" r="2.5" fill="url(#y)"/><circle cx="296.7" cy="176.6" r="1.2" fill="url(#h)"/><circle cx="300.9" cy="170.9" r="2.5" fill="url(#r)"/><circle cx="301.3" cy="170.2" r="0.8" fill="url(#h)"/><circle cx="303.2" cy="168.3" r="1.2" fill="url(#h)"/><circle cx="296.1" cy="171.9" r="1.2" fill="url(#h)"/><circle cx="287.0" cy="182.8" r="2.5" fill="url(#r)"/><circle cx="286.9" cy="182.0" r="0.8" fill="url(#h)"/><circle cx="286.3" cy="178.7" r="2.5" fill="url(#y)"/><circle cx="284.1" cy="175.0" r="1.2" fill="url(#h)"/><circle cx="290.7" cy="178.4" r="1.2" fill="url(#h)"/><circle cx="300.3" cy="189.0" r="2.5" fill="url(#y)"/><circle cx="296.7" cy="191.0" r="1.2" fill="url(#h)"/><circle cx="300.9" cy="185.3" r="2.5" fill="url(#r)"/><circle cx="301.3" cy="184.6" r="0.8" fill="url(#h)"/><circle cx="303.2" cy="182.7" r="1.2" fill="url(#h)"/><circle cx="296.1" cy="186.3" r="1.2" fill="url(#h)"/><circle cx="287.0" cy="197.2" r="2.5" fill="url(#r)"/><circle cx="286.9" cy="196.4" r="0.8" fill="url(#h)"/><circle cx="286.3" cy="193.1" r="2.5" fill="url(#y)"/><circle cx="284.1" cy="189.4" r="1.2" fill="url(#h)"/><circle cx="290.7" cy="192.8" r="1.2" fill="url(#h)"/><circle cx="300.9" cy="199.7" r="2.5" fill="url(#r)"/><circle cx="301.3" cy="199.0" r="0.8" fill="url(#h)"/><circle cx="303.2" cy="197.1" r="1.2" fill="url(#h)"/><circle cx="296.1" cy="200.7" r="1.2" fill="url(#h)"/><circle cx="329.1" cy="31.8" r="2.5" fill="url(#r)"/><circle cx="330.7" cy="28.5" r="1.2" fill="url(#h)"/><circle cx="325.5" cy="33.1" r="1.2" fill="url(#h)"/><circle cx="315.8" cy="39.2" r="2.5" fill="url(#y)"/><circle cx="315.7" cy="38.4" r="0.8" fill="url(#h)"/><circle cx="315.1" cy="35.1" r="2.5" fill="url(#r)"/><circle cx="312.9" cy="31.4" r="1.2" fill="url(#h)"/><circle cx="319.5" cy="34.8" r="1.2" fill="url(#h)"/><circle cx="329.1" cy="45.4" r="2.5" fill="url(#r)"/><circle cx="325.5" cy="47.4" r="1.2" fill="url(#h)"/><circle cx="329.7" cy="41.7" r="2.5" fill="url(#y)"/><circle cx="330.1" cy="41.0" r="0.8" fill="url(#h)"/><circle cx="332.0" cy="39.1" r="1.2" fill="url(#h)"/><circle cx="324.9" cy="42.7" r="1.2" fill="url(#h)"/><circle cx="315.8" cy="53.6" r="2.5" fill="url(#y)"/><circle cx="315.7" cy="52.8" r="0.8" fill="url(#h)"/><circle cx="315.1" cy="49.5" r="2.5" fill="url(#r)"/><circle cx="312.9" cy="45.8" r="1.2" fill="url(#h)"/><circle cx="319.5" cy="49.2" r="1.2" fill="url(#h)"/><circle cx="329.1" cy="59.8" r="2.5" fill="url(#r)"/><circle cx="325.5" cy="61.8" r="1.2" fill="url(#h)"/><circle cx="329.7" cy="56.1" r="2.5" fill="url(#y)"/><circle cx="330.1" cy="55.4" r="0.8" fill="url(#h)"/><circle cx="332.0" cy="53.5" r="1.2" fill="url(#h)"/><circle cx="324.9" cy="57.1" r="1.2" fill="url(#h)"/><circle cx="315.8" cy="67.9" r="2.5" fill="url(#y)"/><circle cx="315.7" cy="67.1" r="0.8" fill="url(#h)"/><circle cx="315.1" cy="63.8" r="2.5" fill="url(#r)"/><circle cx="312.9" cy="60.1" r="1.2" fill="url(#h)"/><circle cx="319.5" cy="63.5" r="1.2" fill="url(#h)"/><circle cx="329.1" cy="74.1" r="2.5" fill="url(#r)"/><circle cx="325.5" cy="76.1" r="1.2" fill="url(#h)"/><circle cx="329.7" cy="70.4" r="2.5" fill="url(#y)"/><circle cx="330.1" cy="69.7" r="0.8" fill="url(#h)"/><circle cx="332.0" cy="67.8" r="1.2" fill="url(#h)"/><circle cx="324.9" cy="71.4" r="1.2" fill="url(#h)"/><circle cx="315.8" cy="82.3" r="2.5" fill="url(#y)"/><circle cx="315.7" cy="81.5" r="0.8" fill="url(#h)"/><circle cx="315.1" cy="78.2" r="2.5" fill="url(#r)"/><circle cx="312.9" cy="74.5" r="1.2" fill="url(#h)"/><circle cx="319.5" cy="77.9" r="1.2" fill="url(#h)"/><circle cx="329.1" cy="88.5" r="2.5" fill="url(#r)"/><circle cx="325.5" cy="90.5" r="1.2" fill="url(#h)"/><circle cx="329.7" cy="84.8" r="2.5" fill="url(#y)"/><circle cx="330.1" cy="84.1" r="0.8" fill="url(#h)"/><circle cx="332.0" cy="82.2" r="1.2" fill="url(#h)"/><circle cx="324.9" cy="85.8" r="1.2" fill="url(#h)"/><circle cx="315.8" cy="96.6" r="2.5" fill="url(#y)"/><circle cx="315.7" cy="95.8" r="0.8" fill="url(#h)"/><circle cx="315.1" cy="92.5" r="2.5" fill="url(#r)"/><circle cx="312.9" cy="88.8" r="1.2" fill="url(#h)"/><circle cx="319.5" cy="92.2" r="1.2" fill="url(#h)"/><circle cx="329.1" cy="102.8" r="2.5" fill="url(#r)"/><circle cx="325.5" cy="104.8" r="1.2" fill="url(#h)"/><circle cx="329.7" cy="99.1" r="2.5" fill="url(#y)"/><circle cx="330.1" cy="98.4" r="0.8" fill="url(#h)"/><circle cx="332.0" cy="96.5" r="1.2" fill="url(#h)"/><circle cx="324.9" cy="100.1" r="1.2" fill="url(#h)"/><circle cx="315.8" cy="111.0" r="2.5" fill="url(#y)"/><circle cx="315.7" cy="110.2" r="0.8" fill="url(#h)"/><circle cx="315.1" cy="106.9" r="2.5" fill="url(#r)"/><circle cx="312.9" cy="103.2" r="1.2" fill="url(#h)"/><circle cx="319.5" cy="106.6" r="1.2" fill="url(#h)"/><circle cx="329.1" cy="117.2" r="2.5" fill="url(#r)"/><circle cx="325.5" cy="119.2" r="1.2" fill="url(#h)"/><circle cx="329.7" cy="113.5" r="2.5" fill="url(#y)"/><circle cx="330.1" cy="112.8" r="0.8" fill="url(#h)"/><circle cx="332.0" cy="110.9" r="1.2" fill="url(#h)"/><circle cx="324.9" cy="114.5" r="1.2" fill="url(#h)"/><circle cx="315.8" cy="125.4" r="2.5" fill="url(#y)"/><circle cx="315.7" cy="124.6" r="0.8" fill="url(#h)"/><circle cx="315.1" cy="121.3" r="2.5" fill="url(#r)"/><circle cx="312.9" cy="117.6" r="1.2" fill="url(#h)"/><circle cx="319.5" cy="121.0" r="1.2" fill="url(#h)"/><circle cx="329.1" cy="131.6" r="2.5" fill="url(#r)"/><circle cx="325.5" cy="133.6" r="1.2" fill="url(#h)"/><circle cx="329.7" cy="127.9" r="2.5" fill="url(#y)"/><circle cx="330.1" cy="127.2" r="0.8" fill="url(#h)"/><circle cx="332.0" cy="125.3" r="1.2" fill="url(#h)"/><circle cx="324.9" cy="128.9" r="1.2" fill="url(#h)"/><circle cx="315.8" cy="139.7" r="2.5" fill="url(#y)"/><circle cx="315.7" cy="138.9" r="0.8" fill="url(#h)"/><circle cx="315.1" cy="135.6" r="2.5" fill="url(#r)"/><circle cx="312.9" cy="131.9" r="1.2" fill="url(#h)"/><circle cx="319.5" cy="135.3" r="1.2" fill="url(#h)"/><circle cx="329.1" cy="145.9" r="2.5" fill="url(#r)"/><circle cx="325.5" cy="147.9" r="1.2" fill="url(#h)"/><circle cx="329.7" cy="142.2" r="2.5" fill="url(#y)"/><circle cx="330.1" cy="141.5" r="0.8" fill="url(#h)"/><circle cx="332.0" cy="139.6" r="1.2" fill="url(#h)"/><circle cx="324.9" cy="143.2" r="1.2" fill="url(#h)"/><circle cx="315.8" cy="154.1" r="2.5" fill="url(#y)"/><circle cx="315.7" cy="153.3" r="0.8" fill="url(#h)"/><circle cx="315.1" cy="150.0" r="2.5" fill="url(#r)"/><circle cx="312.9" cy="146.3" r="1.2" fill="url(#h)"/><circle cx="319.5" cy="149.7" r="1.2" fill="url(#h)"/><circle cx="329.1" cy="160.3" r="2.5" fill="url(#r)"/><circle cx="325.5" cy="162.3" r="1.2" fill="url(#h)"/><circle cx="329.7" cy="156.6" r="2.5" fill="url(#y)"/><circle cx="330.1" cy="155.9" r="0.8" fill="url(#h)"/><circle cx="332.0" cy="154.0" r="1.2" fill="url(#h)"/><circle cx="324.9" cy="157.6" r="1.2" fill="url(#h)"/><circle cx="315.8" cy="168.4" r="2.5" fill="url(#y)"/><circle cx="315.7" cy="167.6" r="0.8" fill="url(#h)"/><circle cx="315.1" cy="164.3" r="2.5" fill="url(#r)"/><circle cx="312.9" cy="160.6" r="1.2" fill="url(#h)"/><circle cx="319.5" cy="164.0" r="1.2" fill="url(#h)"/><circle cx="329.1" cy="174.6" r="2.5" fill="url(#r)"/><circle cx="325.5" cy="176.6" r="1.2" fill="url(#h)"/><circle cx="329.7" cy="170.9" r="2.5" fill="url(#y)"/><circle cx="330.1" cy="170.2" r="0.8" fill="url(#h)"/><circle cx="332.0" cy="168.3" r="1.2" fill="url(#h)"/><circle cx="324.9" cy="171.9" r="1.2" fill="url(#h)"/><circle cx="315.8" cy="182.8" r="2.5" fill="url(#y)"/><circle cx="315.7" cy="182.0" r="0.8" fill="url(#h)"/><circle cx="315.1" cy="178.7" r="2.5" fill="url(#r)"/><circle cx="312.9" cy="175.0" r="1.2" fill="url(#h)"/><circle cx="319.5" cy="178.4" r="1.2" fill="url(#h)"/><circle cx="329.1" cy="189.0" r="2.5" fill="url(#r)"/><circle cx="325.5" cy="191.0" r="1.2" fill="url(#h)"/><circle cx="329.7" cy="185.3" r="2.5" fill="url(#y)"/><circle cx="330.1" cy="184.6" r="0.8" fill="url(#h)"/><circle cx="332.0" cy="182.7" r="1.2" fill="url(#h)"/><circle cx="324.9" cy="186.3" r="1.2" fill="url(#h)"/><circle cx="315.8" cy="197.2" r="2.5" fill="url(#y)"/><circle cx="315.7" cy="196.4" r="0.8" fill="url(#h)"/><circle cx="315.1" cy="193.1" r="2.5" fill="url(#r)"/><circle cx="312.9" cy="189.4" r="1.2" fill="url(#h)"/><circle cx="319.5" cy="192.8" r="1.2" fill="url(#h)"/><circle cx="329.7" cy="199.7" r="2.5" fill="url(#y)"/><circle cx="330.1" cy="199.0" r="0.8" fill="url(#h)"/><circle cx="332.0" cy="197.1" r="1.2" fill="url(#h)"/><circle cx="324.9" cy="200.7" r="1.2" fill="url(#h)"/><circle cx="357.9" cy="31.8" r="2.5" fill="url(#y)"/><circle cx="359.5" cy="28.5" r="1.2" fill="url(#h)"/><circle cx="354.3" cy="33.1" r="1.2" fill="url(#h)"/><circle cx="344.6" cy="39.2" r="2.5" fill="url(#r)"/><circle cx="344.5" cy="38.4" r="0.8" fill="url(#h)"/><circle cx="343.9" cy="35.1" r="2.5" fill="url(#y)"/><circle cx="341.7" cy="31.4" r="1.2" fill="url(#h)"/><circle cx="348.3" cy="34.8" r="1.2" fill="url(#h)"/><circle cx="357.9" cy="45.4" r="2.5" fill="url(#y)"/><circle cx="354.3" cy="47.4" r="1.2" fill="url(#h)"/><circle cx="358.5" cy="41.7" r="2.5" fill="url(#r)"/><circle cx="358.9" cy="41.0" r="0.8" fill="url(#h)"/><circle cx="360.8" cy="39.1" r="1.2" fill="url(#h)"/><circle cx="353.7" cy="42.7" r="1.2" fill="url(#h)"/><circle cx="344.6" cy="53.6" r="2.5" fill="url(#r)"/><circle cx="344.5" cy="52.8" r="0.8" fill="url(#h)"/><circle cx="343.9" cy="49.5" r="2.5" fill="url(#y)"/><circle cx="341.7" cy="45.8" r="1.2" fill="url(#h)"/><circle cx="348.3" cy="49.2" r="1.2" fill="url(#h)"/><circle cx="357.9" cy="59.8" r="2.5" fill="url(#y)"/><circle cx="354.3" cy="61.8" r="1.2" fill="url(#h)"/><circle cx="358.5" cy="56.1" r="2.5" fill="url(#r)"/><circle cx="358.9" cy="55.4" r="0.8" fill="url(#h)"/><circle cx="360.8" cy="53.5" r="1.2" fill="url(#h)"/><circle cx="353.7" cy="57.1" r="1.2" fill="url(#h)"/><circle cx="344.6" cy="67.9" r="2.5" fill="url(#r)"/><circle cx="344.5" cy="67.1" r="0.8" fill="url(#h)"/><circle cx="343.9" cy="63.8" r="2.5" fill="url(#y)"/><circle cx="341.7" cy="60.1" r="1.2" fill="url(#h)"/><circle cx="348.3" cy="63.5" r="1.2" fill="url(#h)"/><circle cx="357.9" cy="74.1" r="2.5" fill="url(#y)"/><circle cx="354.3" cy="76.1" r="1.2" fill="url(#h)"/><circle cx="358.5" cy="70.4" r="2.5" fill="url(#r)"/><circle cx="358.9" cy="69.7" r="0.8" fill="url(#h)"/><circle cx="360.8" cy="67.8" r="1.2" fill="url(#h)"/><circle cx="353.7" cy="71.4" r="1.2" fill="url(#h)"/><circle cx="344.6" cy="82.3" r="2.5" fill="url(#r)"/><circle cx="344.5" cy="81.5" r="0.8" fill="url(#h)"/><circle cx="343.9" cy="78.2" r="2.5" fill="url(#y)"/><circle cx="341.7" cy="74.5" r="1.2" fill="url(#h)"/><circle cx="348.3" cy="77.9" r="1.2" fill="url(#h)"/><circle cx="357.9" cy="88.5" r="2.5" fill="url(#y)"/><circle cx="354.3" cy="90.5" r="1.2" fill="url(#h)"/><circle cx="358.5" cy="84.8" r="2.5" fill="url(#r)"/><circle cx="358.9" cy="84.1" r="0.8" fill="url(#h)"/><circle cx="360.8" cy="82.2" r="1.2" fill="url(#h)"/><circle cx="353.7" cy="85.8" r="1.2" fill="url(#h)"/><circle cx="344.6" cy="96.6" r="2.5" fill="url(#r)"/><circle cx="344.5" cy="95.8" r="0.8" fill="url(#h)"/><circle cx="343.9" cy="92.5" r="2.5" fill="url(#y)"/><circle cx="341.7" cy="88.8" r="1.2" fill="url(#h)"/><circle cx="348.3" cy="92.2" r="1.2" fill="url(#h)"/><circle cx="357.9" cy="102.8" r="2.5" fill="url(#y)"/><circle cx="354.3" cy="104.8" r="1.2" fill="url(#h)"/><circle cx="358.5" cy="99.1" r="2.5" fill="url(#r)"/><circle cx="358.9" cy="98.4" r="0.8" fill="url(#h)"/><circle cx="360.8" cy="96.5" r="1.2" fill="url(#h)"/><circle cx="353.7" cy="100.1" r="1.2" fill="url(#h)"/><circle cx="344.6" cy="111.0" r="2.5" fill="url(#r)"/><circle cx="344.5" cy="110.2" r="0.8" fill="url(#h)"/><circle cx="343.9" cy="106.9" r="2.5" fill="url(#y)"/><circle cx="341.7" cy="103.2" r="1.2" fill="url(#h)"/><circle cx="348.3" cy="106.6" r="1.2" fill="url(#h)"/><circle cx="357.9" cy="117.2" r="2.5" fill="url(#y)"/><circle cx="354.3" cy="119.2" r="1.2" fill="url(#h)"/><circle cx="358.5" cy="113.5" r="2.5" fill="url(#r)"/><circle cx="358.9" cy="112.8" r="0.8" fill="url(#h)"/><circle cx="360.8" cy="110.9" r="1.2" fill="url(#h)"/><circle cx="353.7" cy="114.5" r="1.2" fill="url(#h)"/><circle cx="344.6" cy="125.4" r="2.5" fill="url(#r)"/><circle cx="344.5" cy="124.6" r="0.8" fill="url(#h)"/><circle cx="343.9" cy="121.3" r="2.5" fill="url(#y)"/><circle cx="341.7" cy="117.6" r="1.2" fill="url(#h)"/><circle cx="348.3" cy="121.0" r="1.2" fill="url(#h)"/><circle cx="357.9" cy="131.6" r="2.5" fill="url(#y)"/><circle cx="354.3" cy="133.6" r="1.2" fill="url(#h)"/><circle cx="358.5" cy="127.9" r="2.5" fill="url(#r)"/><circle cx="358.9" cy="127.2" r="0.8" fill="url(#h)"/><circle cx="360.8" cy="125.3" r="1.2" fill="url(#h)"/><circle cx="353.7" cy="128.9" r="1.2" fill="url(#h)"/><circle cx="344.6" cy="139.7" r="2.5" fill="url(#r)"/><circle cx="344.5" cy="138.9" r="0.8" fill="url(#h)"/><circle cx="343.9" cy="135.6" r="2.5" fill="url(#y)"/><circle cx="341.7" cy="131.9" r="1.2" fill="url(#h)"/><circle cx="348.3" cy="135.3" r="1.2" fill="url(#h)"/><circle cx="357.9" cy="145.9" r="2.5" fill="url(#y)"/><circle cx="354.3" cy="147.9" r="1.2" fill="url(#h)"/><circle cx="358.5" cy="142.2" r="2.5" fill="url(#r)"/><circle cx="358.9" cy="141.5" r="0.8" fill="url(#h)"/><circle cx="360.8" cy="139.6" r="1.2" fill="url(#h)"/><circle cx="353.7" cy="143.2" r="1.2" fill="url(#h)"/><circle cx="344.6" cy="154.1" r="2.5" fill="url(#r)"/><circle cx="344.5" cy="153.3" r="0.8" fill="url(#h)"/><circle cx="343.9" cy="150.0" r="2.5" fill="url(#y)"/><circle cx="341.7" cy="146.3" r="1.2" fill="url(#h)"/><circle cx="348.3" cy="149.7" r="1.2" fill="url(#h)"/><circle cx="357.9" cy="160.3" r="2.5" fill="url(#y)"/><circle cx="354.3" cy="162.3" r="1.2" fill="url(#h)"/><circle cx="358.5" cy="156.6" r="2.5" fill="url(#r)"/><circle cx="358.9" cy="155.9" r="0.8" fill="url(#h)"/><circle cx="360.8" cy="154.0" r="1.2" fill="url(#h)"/><circle cx="353.7" cy="157.6" r="1.2" fill="url(#h)"/><circle cx="344.6" cy="168.4" r="2.5" fill="url(#r)"/><circle cx="344.5" cy="167.6" r="0.8" fill="url(#h)"/><circle cx="343.9" cy="164.3" r="2.5" fill="url(#y)"/><circle cx="341.7" cy="160.6" r="1.2" fill="url(#h)"/><circle cx="348.3" cy="164.0" r="1.2" fill="url(#h)"/><circle cx="357.9" cy="174.6" r="2.5" fill="url(#y)"/><circle cx="354.3" cy="176.6" r="1.2" fill="url(#h)"/><circle cx="358.5" cy="170.9" r="2.5" fill="url(#r)"/><circle cx="358.9" cy="170.2" r="0.8" fill="url(#h)"/><circle cx="360.8" cy="168.3" r="1.2" fill="url(#h)"/><circle cx="353.7" cy="171.9" r="1.2" fill="url(#h)"/><circle cx="344.6" cy="182.8" r="2.5" fill="url(#r)"/><circle cx="344.5" cy="182.0" r="0.8" fill="url(#h)"/><circle cx="343.9" cy="178.7" r="2.5" fill="url(#y)"/><circle cx="341.7" cy="175.0" r="1.2" fill="url(#h)"/><circle cx="348.3" cy="178.4" r="1.2" fill="url(#h)"/><circle cx="357.9" cy="189.0" r="2.5" fill="url(#y)"/><circle cx="354.3" cy="191.0" r="1.2" fill="url(#h)"/><circle cx="358.5" cy="185.3" r="2.5" fill="url(#r)"/><circle cx="358.9" cy="184.6" r="0.8" fill="url(#h)"/><circle cx="360.8" cy="182.7" r="1.2" fill="url(#h)"/><circle cx="353.7" cy="186.3" r="1.2" fill="url(#h)"/><circle cx="344.6" cy="197.2" r="2.5" fill="url(#r)"/><circle cx="344.5" cy="196.4" r="0.8" fill="url(#h)"/><circle cx="343.9" cy="193.1" r="2.5" fill="url(#y)"/><circle cx="341.7" cy="189.4" r="1.2" fill="url(#h)"/><circle cx="348.3" cy="192.8" r="1.2" fill="url(#h)"/><circle cx="358.5" cy="199.7" r="2.5" fill="url(#r)"/><circle cx="358.9" cy="199.0" r="0.8" fill="url(#h)"/><circle cx="360.8" cy="197.1" r="1.2" fill="url(#h)"/><circle cx="353.7" cy="200.7" r="1.2" fill="url(#h)"/><circle cx="386.7" cy="31.8" r="2.5" fill="url(#r)"/><circle cx="388.3" cy="28.5" r="1.2" fill="url(#h)"/><circle cx="383.1" cy="33.1" r="1.2" fill="url(#h)"/><circle cx="373.4" cy="39.2" r="2.5" fill="url(#y)"/><circle cx="373.3" cy="38.4" r="0.8" fill="url(#h)"/><circle cx="372.7" cy="35.1" r="2.5" fill="url(#r)"/><circle cx="370.5" cy="31.4" r="1.2" fill="url(#h)"/><circle cx="377.1" cy="34.8" r="1.2" fill="url(#h)"/><circle cx="386.7" cy="45.4" r="2.5" fill="url(#r)"/><circle cx="383.1" cy="47.4" r="1.2" fill="url(#h)"/><circle cx="387.3" cy="41.7" r="2.5" fill="url(#y)"/><circle cx="387.7" cy="41.0" r="0.8" fill="url(#h)"/><circle cx="389.6" cy="39.1" r="1.2" fill="url(#h)"/><circle cx="382.5" cy="42.7" r="1.2" fill="url(#h)"/><circle cx="373.4" cy="53.6" r="2.5" fill="url(#y)"/><circle cx="373.3" cy="52.8" r="0.8" fill="url(#h)"/><circle cx="372.7" cy="49.5" r="2.5" fill="url(#r)"/><circle cx="370.5" cy="45.8" r="1.2" fill="url(#h)"/><circle cx="377.1" cy="49.2" r="1.2" fill="url(#h)"/><circle cx="386.7" cy="59.8" r="2.5" fill="url(#r)"/><circle cx="383.1" cy="61.8" r="1.2" fill="url(#h)"/><circle cx="387.3" cy="56.1" r="2.5" fill="url(#y)"/><circle cx="387.7" cy="55.4" r="0.8" fill="url(#h)"/><circle cx="389.6" cy="53.5" r="1.2" fill="url(#h)"/><circle cx="382.5" cy="57.1" r="1.2" fill="url(#h)"/><circle cx="373.4" cy="67.9" r="2.5" fill="url(#y)"/><circle cx="373.3" cy="67.1" r="0.8" fill="url(#h)"/><circle cx="372.7" cy="63.8" r="2.5" fill="url(#r)"/><circle cx="370.5" cy="60.1" r="1.2" fill="url(#h)"/><circle cx="377.1" cy="63.5" r="1.2" fill="url(#h)"/><circle cx="386.7" cy="74.1" r="2.5" fill="url(#r)"/><circle cx="383.1" cy="76.1" r="1.2" fill="url(#h)"/><circle cx="387.3" cy="70.4" r="2.5" fill="url(#y)"/><circle cx="387.7" cy="69.7" r="0.8" fill="url(#h)"/><circle cx="389.6" cy="67.8" r="1.2" fill="url(#h)"/><circle cx="382.5" cy="71.4" r="1.2" fill="url(#h)"/><circle cx="373.4" cy="82.3" r="2.5" fill="url(#y)"/><circle cx="373.3" cy="81.5" r="0.8" fill="url(#h)"/><circle cx="372.7" cy="78.2" r="2.5" fill="url(#r)"/><circle cx="370.5" cy="74.5" r="1.2" fill="url(#h)"/><circle cx="377.1" cy="77.9" r="1.2" fill="url(#h)"/><circle cx="386.7" cy="88.5" r="2.5" fill="url(#r)"/><circle cx="383.1" cy="90.5" r="1.2" fill="url(#h)"/><circle cx="387.3" cy="84.8" r="2.5" fill="url(#y)"/><circle cx="387.7" cy="84.1" r="0.8" fill="url(#h)"/><circle cx="389.6" cy="82.2" r="1.2" fill="url(#h)"/><circle cx="382.5" cy="85.8" r="1.2" fill="url(#h)"/><circle cx="373.4" cy="96.6" r="2.5" fill="url(#y)"/><circle cx="373.3" cy="95.8" r="0.8" fill="url(#h)"/><circle cx="372.7" cy="92.5" r="2.5" fill="url(#r)"/><circle cx="370.5" cy="88.8" r="1.2" fill="url(#h)"/><circle cx="377.1" cy="92.2" r="1.2" fill="url(#h)"/><circle cx="386.7" cy="102.8" r="2.5" fill="url(#r)"/><circle cx="383.1" cy="104.8" r="1.2" fill="url(#h)"/><circle cx="387.3" cy="99.1" r="2.5" fill="url(#y)"/><circle cx="387.7" cy="98.4" r="0.8" fill="url(#h)"/><circle cx="389.6" cy="96.5" r="1.2" fill="url(#h)"/><circle cx="382.5" cy="100.1" r="1.2" fill="url(#h)"/><circle cx="373.4" cy="111.0" r="2.5" fill="url(#y)"/><circle cx="373.3" cy="110.2" r="0.8" fill="url(#h)"/><circle cx="372.7" cy="106.9" r="2.5" fill="url(#r)"/><circle cx="370.5" cy="103.2" r="1.2" fill="url(#h)"/><circle cx="377.1" cy="106.6" r="1.2" fill="url(#h)"/><circle cx="386.7" cy="117.2" r="2.5" fill="url(#r)"/><circle cx="383.1" cy="119.2" r="1.2" fill="url(#h)"/><circle cx="387.3" cy="113.5" r="2.5" fill="url(#y)"/><circle cx="387.7" cy="112.8" r="0.8" fill="url(#h)"/><circle cx="389.6" cy="110.9" r="1.2" fill="url(#h)"/><circle cx="382.5" cy="114.5" r="1.2" fill="url(#h)"/><circle cx="373.4" cy="125.4" r="2.5" fill="url(#y)"/><circle cx="373.3" cy="124.6" r="0.8" fill="url(#h)"/><circle cx="372.7" cy="121.3" r="2.5" fill="url(#r)"/><circle cx="370.5" cy="117.6" r="1.2" fill="url(#h)"/><circle cx="377.1" cy="121.0" r="1.2" fill="url(#h)"/><circle cx="386.7" cy="131.6" r="2.5" fill="url(#r)"/><circle cx="383.1" cy="133.6" r="1.2" fill="url(#h)"/><circle cx="387.3" cy="127.9" r="2.5" fill="url(#y)"/><circle cx="387.7" cy="127.2" r="0.8" fill="url(#h)"/><circle cx="389.6" cy="125.3" r="1.2" fill="url(#h)"/><circle cx="382.5" cy="128.9" r="1.2" fill="url(#h)"/><circle cx="373.4" cy="139.7" r="2.5" fill="url(#y)"/><circle cx="373.3" cy="138.9" r="0.8" fill="url(#h)"/><circle cx="372.7" cy="135.6" r="2.5" fill="url(#r)"/><circle cx="370.5" cy="131.9" r="1.2" fill="url(#h)"/><circle cx="377.1" cy="135.3" r="1.2" fill="url(#h)"/><circle cx="386.7" cy="145.9" r="2.5" fill="url(#r)"/><circle cx="383.1" cy="147.9" r="1.2" fill="url(#h)"/><circle cx="387.3" cy="142.2" r="2.5" fill="url(#y)"/><circle cx="387.7" cy="141.5" r="0.8" fill="url(#h)"/><circle cx="389.6" cy="139.6" r="1.2" fill="url(#h)"/><circle cx="382.5" cy="143.2" r="1.2" fill="url(#h)"/><circle cx="373.4" cy="154.1" r="2.5" fill="url(#y)"/><circle cx="373.3" cy="153.3" r="0.8" fill="url(#h)"/><circle cx="372.7" cy="150.0" r="2.5" fill="url(#r)"/><circle cx="370.5" cy="146.3" r="1.2" fill="url(#h)"/><circle cx="377.1" cy="149.7" r="1.2" fill="url(#h)"/><circle cx="386.7" cy="160.3" r="2.5" fill="url(#r)"/><circle cx="383.1" cy="162.3" r="1.2" fill="url(#h)"/><circle cx="387.3" cy="156.6" r="2.5" fill="url(#y)"/><circle cx="387.7" cy="155.9" r="0.8" fill="url(#h)"/><circle cx="389.6" cy="154.0" r="1.2" fill="url(#h)"/><circle cx="382.5" cy="157.6" r="1.2" fill="url(#h)"/><circle cx="373.4" cy="168.4" r="2.5" fill="url(#y)"/><circle cx="373.3" cy="167.6" r="0.8" fill="url(#h)"/><circle cx="372.7" cy="164.3" r="2.5" fill="url(#r)"/><circle cx="370.5" cy="160.6" r="1.2" fill="url(#h)"/><circle cx="377.1" cy="164.0" r="1.2" fill="url(#h)"/><circle cx="386.7" cy="174.6" r="2.5" fill="url(#r)"/><circle cx="383.1" cy="176.6" r="1.2" fill="url(#h)"/><circle cx="387.3" cy="170.9" r="2.5" fill="url(#y)"/><circle cx="387.7" cy="170.2" r="0.8" fill="url(#h)"/><circle cx="389.6" cy="168.3" r="1.2" fill="url(#h)"/><circle cx="382.5" cy="171.9" r="1.2" fill="url(#h)"/><circle cx="373.4" cy="182.8" r="2.5" fill="url(#y)"/><circle cx="373.3" cy="182.0" r="0.8" fill="url(#h)"/><circle cx="372.7" cy="178.7" r="2.5" fill="url(#r)"/><circle cx="370.5" cy="175.0" r="1.2" fill="url(#h)"/><circle cx="377.1" cy="178.4" r="1.2" fill="url(#h)"/><circle cx="386.7" cy="189.0" r="2.5" fill="url(#r)"/><circle cx="383.1" cy="191.0" r="1.2" fill="url(#h)"/><circle cx="387.3" cy="185.3" r="2.5" fill="url(#y)"/><circle cx="387.7" cy="184.6" r="0.8" fill="url(#h)"/><circle cx="389.6" cy="182.7" r="1.2" fill="url(#h)"/><circle cx="382.5" cy="186.3" r="1.2" fill="url(#h)"/><circle cx="373.4" cy="197.2" r="2.5" fill="url(#y)"/><circle cx="373.3" cy="196.4" r="0.8" fill="url(#h)"/><circle cx="372.7" cy="193.1" r="2.5" fill="url(#r)"/><circle cx="370.5" cy="189.4" r="1.2" fill="url(#h)"/><circle cx="377.1" cy="192.8" r="1.2" fill="url(#h)"/><circle cx="387.3" cy="199.7" r="2.5" fill="url(#y)"/><circle cx="387.7" cy="199.0" r="0.8" fill="url(#h)"/><circle cx="389.6" cy="197.1" r="1.2" fill="url(#h)"/><circle cx="382.5" cy="200.7" r="1.2" fill="url(#h)"/><circle cx="415.5" cy="31.8" r="2.5" fill="url(#y)"/><circle cx="417.1" cy="28.5" r="1.2" fill="url(#h)"/><circle cx="411.9" cy="33.1" r="1.2" fill="url(#h)"/><circle cx="402.2" cy="39.2" r="2.5" fill="url(#r)"/><circle cx="402.1" cy="38.4" r="0.8" fill="url(#h)"/><circle cx="401.5" cy="35.1" r="2.5" fill="url(#y)"/><circle cx="399.3" cy="31.4" r="1.2" fill="url(#h)"/><circle cx="405.9" cy="34.8" r="1.2" fill="url(#h)"/><circle cx="415.5" cy="45.4" r="2.5" fill="url(#y)"/><circle cx="411.9" cy="47.4" r="1.2" fill="url(#h)"/><circle cx="416.1" cy="41.7" r="2.5" fill="url(#r)"/><circle cx="416.5" cy="41.0" r="0.8" fill="url(#h)"/><circle cx="418.4" cy="39.1" r="1.2" fill="url(#h)"/><circle cx="411.3" cy="42.7" r="1.2" fill="url(#h)"/><circle cx="402.2" cy="53.6" r="2.5" fill="url(#r)"/><circle cx="402.1" cy="52.8" r="0.8" fill="url(#h)"/><circle cx="401.5" cy="49.5" r="2.5" fill="url(#y)"/><circle cx="399.3" cy="45.8" r="1.2" fill="url(#h)"/><circle cx="405.9" cy="49.2" r="1.2" fill="url(#h)"/><circle cx="415.5" cy="59.8" r="2.5" fill="url(#y)"/><circle cx="411.9" cy="61.8" r="1.2" fill="url(#h)"/><circle cx="416.1" cy="56.1" r="2.5" fill="url(#r)"/><circle cx="416.5" cy="55.4" r="0.8" fill="url(#h)"/><circle cx="418.4" cy="53.5" r="1.2" fill="url(#h)"/><circle cx="411.3" cy="57.1" r="1.2" fill="url(#h)"/><circle cx="402.2" cy="67.9" r="2.5" fill="url(#r)"/><circle cx="402.1" cy="67.1" r="0.8" fill="url(#h)"/><circle cx="401.5" cy="63.8" r="2.5" fill="url(#y)"/><circle cx="399.3" cy="60.1" r="1.2" fill="url(#h)"/><circle cx="405.9" cy="63.5" r="1.2" fill="url(#h)"/><circle cx="415.5" cy="74.1" r="2.5" fill="url(#y)"/><circle cx="411.9" cy="76.1" r="1.2" fill="url(#h)"/><circle cx="416.1" cy="70.4" r="2.5" fill="url(#r)"/><circle cx="416.5" cy="69.7" r="0.8" fill="url(#h)"/><circle cx="418.4" cy="67.8" r="1.2" fill="url(#h)"/><circle cx="411.3" cy="71.4" r="1.2" fill="url(#h)"/><circle cx="402.2" cy="82.3" r="2.5" fill="url(#r)"/><circle cx="402.1" cy="81.5" r="0.8" fill="url(#h)"/><circle cx="401.5" cy="78.2" r="2.5" fill="url(#y)"/><circle cx="399.3" cy="74.5" r="1.2" fill="url(#h)"/><circle cx="405.9" cy="77.9" r="1.2" fill="url(#h)"/><circle cx="415.5" cy="88.5" r="2.5" fill="url(#y)"/><circle cx="411.9" cy="90.5" r="1.2" fill="url(#h)"/><circle cx="416.1" cy="84.8" r="2.5" fill="url(#r)"/><circle cx="416.5" cy="84.1" r="0.8" fill="url(#h)"/><circle cx="418.4" cy="82.2" r="1.2" fill="url(#h)"/><circle cx="411.3" cy="85.8" r="1.2" fill="url(#h)"/><circle cx="402.2" cy="96.6" r="2.5" fill="url(#r)"/><circle cx="402.1" cy="95.8" r="0.8" fill="url(#h)"/><circle cx="401.5" cy="92.5" r="2.5" fill="url(#y)"/><circle cx="399.3" cy="88.8" r="1.2" fill="url(#h)"/><circle cx="405.9" cy="92.2" r="1.2" fill="url(#h)"/><circle cx="415.5" cy="102.8" r="2.5" fill="url(#y)"/><circle cx="411.9" cy="104.8" r="1.2" fill="url(#h)"/><circle cx="416.1" cy="99.1" r="2.5" fill="url(#r)"/><circle cx="416.5" cy="98.4" r="0.8" fill="url(#h)"/><circle cx="418.4" cy="96.5" r="1.2" fill="url(#h)"/><circle cx="411.3" cy="100.1" r="1.2" fill="url(#h)"/><circle cx="402.2" cy="111.0" r="2.5" fill="url(#r)"/><circle cx="402.1" cy="110.2" r="0.8" fill="url(#h)"/><circle cx="401.5" cy="106.9" r="2.5" fill="url(#y)"/><circle cx="399.3" cy="103.2" r="1.2" fill="url(#h)"/><circle cx="405.9" cy="106.6" r="1.2" fill="url(#h)"/><circle cx="415.5" cy="117.2" r="2.5" fill="url(#y)"/><circle cx="411.9" cy="119.2" r="1.2" fill="url(#h)"/><circle cx="416.1" cy="113.5" r="2.5" fill="url(#r)"/><circle cx="416.5" cy="112.8" r="0.8" fill="url(#h)"/><circle cx="418.4" cy="110.9" r="1.2" fill="url(#h)"/><circle cx="411.3" cy="114.5" r="1.2" fill="url(#h)"/><circle cx="402.2" cy="125.4" r="2.5" fill="url(#r)"/><circle cx="402.1" cy="124.6" r="0.8" fill="url(#h)"/><circle cx="401.5" cy="121.3" r="2.5" fill="url(#y)"/><circle cx="399.3" cy="117.6" r="1.2" fill="url(#h)"/><circle cx="405.9" cy="121.0" r="1.2" fill="url(#h)"/><circle cx="415.5" cy="131.6" r="2.5" fill="url(#y)"/><circle cx="411.9" cy="133.6" r="1.2" fill="url(#h)"/><circle cx="416.1" cy="127.9" r="2.5" fill="url(#r)"/><circle cx="416.5" cy="127.2" r="0.8" fill="url(#h)"/><circle cx="418.4" cy="125.3" r="1.2" fill="url(#h)"/><circle cx="411.3" cy="128.9" r="1.2" fill="url(#h)"/><circle cx="402.2" cy="139.7" r="2.5" fill="url(#r)"/><circle cx="402.1" cy="138.9" r="0.8" fill="url(#h)"/><circle cx="401.5" cy="135.6" r="2.5" fill="url(#y)"/><circle cx="399.3" cy="131.9" r="1.2" fill="url(#h)"/><circle cx="405.9" cy="135.3" r="1.2" fill="url(#h)"/><circle cx="415.5" cy="145.9" r="2.5" fill="url(#y)"/><circle cx="411.9" cy="147.9" r="1.2" fill="url(#h)"/><circle cx="416.1" cy="142.2" r="2.5" fill="url(#r)"/><circle cx="416.5" cy="141.5" r="0.8" fill="url(#h)"/><circle cx="418.4" cy="139.6" r="1.2" fill="url(#h)"/><circle cx="411.3" cy="143.2" r="1.2" fill="url(#h)"/><circle cx="402.2" cy="154.1" r="2.5" fill="url(#r)"/><circle cx="402.1" cy="153.3" r="0.8" fill="url(#h)"/><circle cx="401.5" cy="150.0" r="2.5" fill="url(#y)"/><circle cx="399.3" cy="146.3" r="1.2" fill="url(#h)"/><circle cx="405.9" cy="149.7" r="1.2" fill="url(#h)"/><circle cx="415.5" cy="160.3" r="2.5" fill="url(#y)"/><circle cx="411.9" cy="162.3" r="1.2" fill="url(#h)"/><circle cx="416.1" cy="156.6" r="2.5" fill="url(#r)"/><circle cx="416.5" cy="155.9" r="0.8" fill="url(#h)"/><circle cx="418.4" cy="154.0" r="1.2" fill="url(#h)"/><circle cx="411.3" cy="157.6" r="1.2" fill="url(#h)"/><circle cx="402.2" cy="168.4" r="2.5" fill="url(#r)"/><circle cx="402.1" cy="167.6" r="0.8" fill="url(#h)"/><circle cx="401.5" cy="164.3" r="2.5" fill="url(#y)"/><circle cx="399.3" cy="160.6" r="1.2" fill="url(#h)"/><circle cx="405.9" cy="164.0" r="1.2" fill="url(#h)"/><circle cx="415.5" cy="174.6" r="2.5" fill="url(#y)"/><circle cx="411.9" cy="176.6" r="1.2" fill="url(#h)"/><circle cx="416.1" cy="170.9" r="2.5" fill="url(#r)"/><circle cx="416.5" cy="170.2" r="0.8" fill="url(#h)"/><circle cx="418.4" cy="168.3" r="1.2" fill="url(#h)"/><circle cx="411.3" cy="171.9" r="1.2" fill="url(#h)"/><circle cx="402.2" cy="182.8" r="2.5" fill="url(#r)"/><circle cx="402.1" cy="182.0" r="0.8" fill="url(#h)"/><circle cx="401.5" cy="178.7" r="2.5" fill="url(#y)"/><circle cx="399.3" cy="175.0" r="1.2" fill="url(#h)"/><circle cx="405.9" cy="178.4" r="1.2" fill="url(#h)"/><circle cx="415.5" cy="189.0" r="2.5" fill="url(#y)"/><circle cx="411.9" cy="191.0" r="1.2" fill="url(#h)"/><circle cx="416.1" cy="185.3" r="2.5" fill="url(#r)"/><circle cx="416.5" cy="184.6" r="0.8" fill="url(#h)"/><circle cx="418.4" cy="182.7" r="1.2" fill="url(#h)"/><circle cx="411.3" cy="186.3" r="1.2" fill="url(#h)"/><circle cx="402.2" cy="197.2" r="2.5" fill="url(#r)"/><circle cx="402.1" cy="196.4" r="0.8" fill="url(#h)"/><circle cx="401.5" cy="193.1" r="2.5" fill="url(#y)"/><circle cx="399.3" cy="189.4" r="1.2" fill="url(#h)"/><circle cx="405.9" cy="192.8" r="1.2" fill="url(#h)"/><circle cx="416.1" cy="199.7" r="2.5" fill="url(#r)"/><circle cx="416.5" cy="199.0" r="0.8" fill="url(#h)"/><circle cx="418.4" cy="197.1" r="1.2" fill="url(#h)"/><circle cx="411.3" cy="200.7" r="1.2" fill="url(#h)"/><circle cx="444.3" cy="31.8" r="2.5" fill="url(#r)"/><circle cx="445.9" cy="28.5" r="1.2" fill="url(#h)"/><circle cx="440.7" cy="33.1" r="1.2" fill="url(#h)"/><circle cx="431.0" cy="39.2" r="2.5" fill="url(#y)"/><circle cx="430.9" cy="38.4" r="0.8" fill="url(#h)"/><circle cx="430.3" cy="35.1" r="2.5" fill="url(#r)"/><circle cx="428.1" cy="31.4" r="1.2" fill="url(#h)"/><circle cx="434.7" cy="34.8" r="1.2" fill="url(#h)"/><circle cx="444.3" cy="45.4" r="2.5" fill="url(#r)"/><circle cx="440.7" cy="47.4" r="1.2" fill="url(#h)"/><circle cx="444.9" cy="41.7" r="2.5" fill="url(#y)"/><circle cx="445.3" cy="41.0" r="0.8" fill="url(#h)"/><circle cx="447.2" cy="39.1" r="1.2" fill="url(#h)"/><circle cx="440.1" cy="42.7" r="1.2" fill="url(#h)"/><circle cx="431.0" cy="53.6" r="2.5" fill="url(#y)"/><circle cx="430.9" cy="52.8" r="0.8" fill="url(#h)"/><circle cx="430.3" cy="49.5" r="2.5" fill="url(#r)"/><circle cx="428.1" cy="45.8" r="1.2" fill="url(#h)"/><circle cx="434.7" cy="49.2" r="1.2" fill="url(#h)"/><circle cx="444.3" cy="59.8" r="2.5" fill="url(#r)"/><circle cx="440.7" cy="61.8" r="1.2" fill="url(#h)"/><circle cx="444.9" cy="56.1" r="2.5" fill="url(#y)"/><circle cx="445.3" cy="55.4" r="0.8" fill="url(#h)"/><circle cx="447.2" cy="53.5" r="1.2" fill="url(#h)"/><circle cx="440.1" cy="57.1" r="1.2" fill="url(#h)"/><circle cx="431.0" cy="67.9" r="2.5" fill="url(#y)"/><circle cx="430.9" cy="67.1" r="0.8" fill="url(#h)"/><circle cx="430.3" cy="63.8" r="2.5" fill="url(#r)"/><circle cx="428.1" cy="60.1" r="1.2" fill="url(#h)"/><circle cx="434.7" cy="63.5" r="1.2" fill="url(#h)"/><circle cx="444.3" cy="74.1" r="2.5" fill="url(#r)"/><circle cx="440.7" cy="76.1" r="1.2" fill="url(#h)"/><circle cx="444.9" cy="70.4" r="2.5" fill="url(#y)"/><circle cx="445.3" cy="69.7" r="0.8" fill="url(#h)"/><circle cx="447.2" cy="67.8" r="1.2" fill="url(#h)"/><circle cx="440.1" cy="71.4" r="1.2" fill="url(#h)"/><circle cx="431.0" cy="82.3" r="2.5" fill="url(#y)"/><circle cx="430.9" cy="81.5" r="0.8" fill="url(#h)"/><circle cx="430.3" cy="78.2" r="2.5" fill="url(#r)"/><circle cx="428.1" cy="74.5" r="1.2" fill="url(#h)"/><circle cx="434.7" cy="77.9" r="1.2" fill="url(#h)"/><circle cx="444.3" cy="88.5" r="2.5" fill="url(#r)"/><circle cx="440.7" cy="90.5" r="1.2" fill="url(#h)"/><circle cx="444.9" cy="84.8" r="2.5" fill="url(#y)"/><circle cx="445.3" cy="84.1" r="0.8" fill="url(#h)"/><circle cx="447.2" cy="82.2" r="1.2" fill="url(#h)"/><circle cx="440.1" cy="85.8" r="1.2" fill="url(#h)"/><circle cx="431.0" cy="96.6" r="2.5" fill="url(#y)"/><circle cx="430.9" cy="95.8" r="0.8" fill="url(#h)"/><circle cx="430.3" cy="92.5" r="2.5" fill="url(#r)"/><circle cx="428.1" cy="88.8" r="1.2" fill="url(#h)"/><circle cx="434.7" cy="92.2" r="1.2" fill="url(#h)"/><circle cx="444.3" cy="102.8" r="2.5" fill="url(#r)"/><circle cx="440.7" cy="104.8" r="1.2" fill="url(#h)"/><circle cx="444.9" cy="99.1" r="2.5" fill="url(#y)"/><circle cx="445.3" cy="98.4" r="0.8" fill="url(#h)"/><circle cx="447.2" cy="96.5" r="1.2" fill="url(#h)"/><circle cx="440.1" cy="100.1" r="1.2" fill="url(#h)"/><circle cx="431.0" cy="111.0" r="2.5" fill="url(#y)"/><circle cx="430.9" cy="110.2" r="0.8" fill="url(#h)"/><circle cx="430.3" cy="106.9" r="2.5" fill="url(#r)"/><circle cx="428.1" cy="103.2" r="1.2" fill="url(#h)"/><circle cx="434.7" cy="106.6" r="1.2" fill="url(#h)"/><circle cx="444.3" cy="117.2" r="2.5" fill="url(#r)"/><circle cx="440.7" cy="119.2" r="1.2" fill="url(#h)"/><circle cx="444.9" cy="113.5" r="2.5" fill="url(#y)"/><circle cx="445.3" cy="112.8" r="0.8" fill="url(#h)"/><circle cx="447.2" cy="110.9" r="1.2" fill="url(#h)"/><circle cx="440.1" cy="114.5" r="1.2" fill="url(#h)"/><circle cx="431.0" cy="125.4" r="2.5" fill="url(#y)"/><circle cx="430.9" cy="124.6" r="0.8" fill="url(#h)"/><circle cx="430.3" cy="121.3" r="2.5" fill="url(#r)"/><circle cx="428.1" cy="117.6" r="1.2" fill="url(#h)"/><circle cx="434.7" cy="121.0" r="1.2" fill="url(#h)"/><circle cx="444.3" cy="131.6" r="2.5" fill="url(#r)"/><circle cx="440.7" cy="133.6" r="1.2" fill="url(#h)"/><circle cx="444.9" cy="127.9" r="2.5" fill="url(#y)"/><circle cx="445.3" cy="127.2" r="0.8" fill="url(#h)"/><circle cx="447.2" cy="125.3" r="1.2" fill="url(#h)"/><circle cx="440.1" cy="128.9" r="1.2" fill="url(#h)"/><circle cx="431.0" cy="139.7" r="2.5" fill="url(#y)"/><circle cx="430.9" cy="138.9" r="0.8" fill="url(#h)"/><circle cx="430.3" cy="135.6" r="2.5" fill="url(#r)"/><circle cx="428.1" cy="131.9" r="1.2" fill="url(#h)"/><circle cx="434.7" cy="135.3" r="1.2" fill="url(#h)"/><circle cx="444.3" cy="145.9" r="2.5" fill="url(#r)"/><circle cx="440.7" cy="147.9" r="1.2" fill="url(#h)"/><circle cx="444.9" cy="142.2" r="2.5" fill="url(#y)"/><circle cx="445.3" cy="141.5" r="0.8" fill="url(#h)"/><circle cx="447.2" cy="139.6" r="1.2" fill="url(#h)"/><circle cx="440.1" cy="143.2" r="1.2" fill="url(#h)"/><circle cx="431.0" cy="154.1" r="2.5" fill="url(#y)"/><circle cx="430.9" cy="153.3" r="0.8" fill="url(#h)"/><circle cx="430.3" cy="150.0" r="2.5" fill="url(#r)"/><circle cx="428.1" cy="146.3" r="1.2" fill="url(#h)"/><circle cx="434.7" cy="149.7" r="1.2" fill="url(#h)"/><circle cx="444.3" cy="160.3" r="2.5" fill="url(#r)"/><circle cx="440.7" cy="162.3" r="1.2" fill="url(#h)"/><circle cx="444.9" cy="156.6" r="2.5" fill="url(#y)"/><circle cx="445.3" cy="155.9" r="0.8" fill="url(#h)"/><circle cx="447.2" cy="154.0" r="1.2" fill="url(#h)"/><circle cx="440.1" cy="157.6" r="1.2" fill="url(#h)"/><circle cx="431.0" cy="168.4" r="2.5" fill="url(#y)"/><circle cx="430.9" cy="167.6" r="0.8" fill="url(#h)"/><circle cx="430.3" cy="164.3" r="2.5" fill="url(#r)"/><circle cx="428.1" cy="160.6" r="1.2" fill="url(#h)"/><circle cx="434.7" cy="164.0" r="1.2" fill="url(#h)"/><circle cx="444.3" cy="174.6" r="2.5" fill="url(#r)"/><circle cx="440.7" cy="176.6" r="1.2" fill="url(#h)"/><circle cx="444.9" cy="170.9" r="2.5" fill="url(#y)"/><circle cx="445.3" cy="170.2" r="0.8" fill="url(#h)"/><circle cx="447.2" cy="168.3" r="1.2" fill="url(#h)"/><circle cx="440.1" cy="171.9" r="1.2" fill="url(#h)"/><circle cx="431.0" cy="182.8" r="2.5" fill="url(#y)"/><circle cx="430.9" cy="182.0" r="0.8" fill="url(#h)"/><circle cx="430.3" cy="178.7" r="2.5" fill="url(#r)"/><circle cx="428.1" cy="175.0" r="1.2" fill="url(#h)"/><circle cx="434.7" cy="178.4" r="1.2" fill="url(#h)"/><circle cx="444.3" cy="189.0" r="2.5" fill="url(#r)"/><circle cx="440.7" cy="191.0" r="1.2" fill="url(#h)"/><circle cx="444.9" cy="185.3" r="2.5" fill="url(#y)"/><circle cx="445.3" cy="184.6" r="0.8" fill="url(#h)"/><circle cx="447.2" cy="182.7" r="1.2" fill="url(#h)"/><circle cx="440.1" cy="186.3" r="1.2" fill="url(#h)"/><circle cx="431.0" cy="197.2" r="2.5" fill="url(#y)"/><circle cx="430.9" cy="196.4" r="0.8" fill="url(#h)"/><circle cx="430.3" cy="193.1" r="2.5" fill="url(#r)"/><circle cx="428.1" cy="189.4" r="1.2" fill="url(#h)"/><circle cx="434.7" cy="192.8" r="1.2" fill="url(#h)"/><circle cx="444.9" cy="199.7" r="2.5" fill="url(#y)"/><circle cx="445.3" cy="199.0" r="0.8" fill="url(#h)"/><circle cx="447.2" cy="197.1" r="1.2" fill="url(#h)"/><circle cx="440.1" cy="200.7" r="1.2" fill="url(#h)"/><circle cx="284.8" cy="215.7" r="1.0" fill="url(#h)"/><circle cx="302.7" cy="215.4" r="1.0" fill="url(#h)"/><circle cx="287.4" cy="217.4" r="2.5" fill="url(#y)"/><circle cx="300.9" cy="217.1" r="2.5" fill="url(#y)"/><circle cx="286.0" cy="234.4" r="1.0" fill="url(#h)"/><circle cx="303.4" cy="232.9" r="1.0" fill="url(#h)"/><circle cx="288.0" cy="231.0" r="2.6" fill="url(#r)"/><circle cx="301.4" cy="230.6" r="2.6" fill="url(#r)"/><circle cx="292.0" cy="217.5" r="0.9" fill="url(#h)"/><circle cx="287.6" cy="227.8" r="0.9" fill="url(#h)"/><circle cx="301.2" cy="221.8" r="0.9" fill="url(#h)"/><circle cx="296.9" cy="231.9" r="0.9" fill="url(#h)"/><circle cx="313.0" cy="215.7" r="1.0" fill="url(#h)"/><circle cx="330.9" cy="215.4" r="1.0" fill="url(#h)"/><circle cx="315.6" cy="217.4" r="2.5" fill="url(#y)"/><circle cx="329.1" cy="217.1" r="2.5" fill="url(#y)"/><circle cx="314.2" cy="234.4" r="1.0" fill="url(#h)"/><circle cx="331.6" cy="232.9" r="1.0" fill="url(#h)"/><circle cx="316.2" cy="231.0" r="2.6" fill="url(#r)"/><circle cx="329.6" cy="230.6" r="2.6" fill="url(#r)"/><circle cx="320.2" cy="217.5" r="0.9" fill="url(#h)"/><circle cx="315.8" cy="227.8" r="0.9" fill="url(#h)"/><circle cx="329.4" cy="221.8" r="0.9" fill="url(#h)"/><circle cx="325.1" cy="231.9" r="0.9" fill="url(#h)"/><circle cx="341.2" cy="215.7" r="1.0" fill="url(#h)"/><circle cx="359.1" cy="215.4" r="1.0" fill="url(#h)"/><circle cx="343.8" cy="217.4" r="2.5" fill="url(#y)"/><circle cx="357.3" cy="217.1" r="2.5" fill="url(#y)"/><circle cx="342.4" cy="234.4" r="1.0" fill="url(#h)"/><circle cx="359.8" cy="232.9" r="1.0" fill="url(#h)"/><circle cx="344.4" cy="231.0" r="2.6" fill="url(#r)"/><circle cx="357.8" cy="230.6" r="2.6" fill="url(#r)"/><circle cx="348.4" cy="217.5" r="0.9" fill="url(#h)"/><circle cx="344.0" cy="227.8" r="0.9" fill="url(#h)"/><circle cx="357.6" cy="221.8" r="0.9" fill="url(#h)"/><circle cx="353.3" cy="231.9" r="0.9" fill="url(#h)"/><circle cx="369.4" cy="215.7" r="1.0" fill="url(#h)"/><circle cx="387.3" cy="215.4" r="1.0" fill="url(#h)"/><circle cx="372.0" cy="217.4" r="2.5" fill="url(#y)"/><circle cx="385.5" cy="217.1" r="2.5" fill="url(#y)"/><circle cx="370.6" cy="234.4" r="1.0" fill="url(#h)"/><circle cx="388.0" cy="232.9" r="1.0" fill="url(#h)"/><circle cx="372.6" cy="231.0" r="2.6" fill="url(#r)"/><circle cx="386.0" cy="230.6" r="2.6" fill="url(#r)"/><circle cx="376.6" cy="217.5" r="0.9" fill="url(#h)"/><circle cx="372.2" cy="227.8" r="0.9" fill="url(#h)"/><circle cx="385.8" cy="221.8" r="0.9" fill="url(#h)"/><circle cx="381.5" cy="231.9" r="0.9" fill="url(#h)"/><circle cx="397.6" cy="215.7" r="1.0" fill="url(#h)"/><circle cx="415.5" cy="215.4" r="1.0" fill="url(#h)"/><circle cx="400.2" cy="217.4" r="2.5" fill="url(#y)"/><circle cx="413.7" cy="217.1" r="2.5" fill="url(#y)"/><circle cx="398.8" cy="234.4" r="1.0" fill="url(#h)"/><circle cx="416.2" cy="232.9" r="1.0" fill="url(#h)"/><circle cx="400.8" cy="231.0" r="2.6" fill="url(#r)"/><circle cx="414.2" cy="230.6" r="2.6" fill="url(#r)"/><circle cx="404.8" cy="217.5" r="0.9" fill="url(#h)"/><circle cx="400.4" cy="227.8" r="0.9" fill="url(#h)"/><circle cx="414.0" cy="221.8" r="0.9" fill="url(#h)"/><circle cx="409.7" cy="231.9" r="0.9" fill="url(#h)"/><circle cx="425.8" cy="215.7" r="1.0" fill="url(#h)"/><circle cx="443.7" cy="215.4" r="1.0" fill="url(#h)"/><circle cx="428.4" cy="217.4" r="2.5" fill="url(#y)"/><circle cx="441.9" cy="217.1" r="2.5" fill="url(#y)"/><circle cx="427.0" cy="234.4" r="1.0" fill="url(#h)"/><circle cx="444.4" cy="232.9" r="1.0" fill="url(#h)"/><circle cx="429.0" cy="231.0" r="2.6" fill="url(#r)"/><circle cx="442.4" cy="230.6" r="2.6" fill="url(#r)"/><circle cx="433.0" cy="217.5" r="0.9" fill="url(#h)"/><circle cx="428.6" cy="227.8" r="0.9" fill="url(#h)"/><circle cx="442.2" cy="221.8" r="0.9" fill="url(#h)"/><circle cx="437.9" cy="231.9" r="0.9" fill="url(#h)"/>
</svg></body></html>
